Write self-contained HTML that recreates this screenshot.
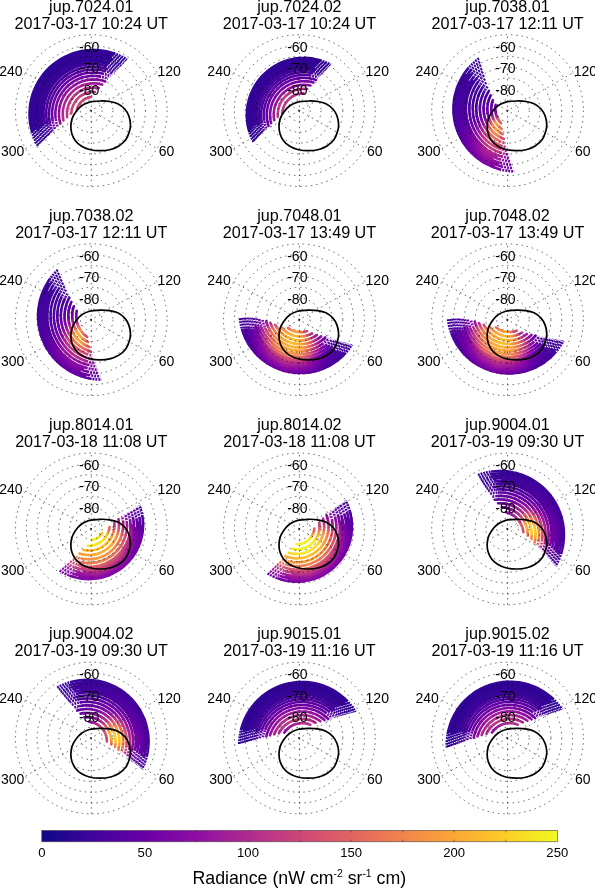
<!DOCTYPE html><html><head><meta charset="utf-8"><style>html,body{margin:0;padding:0;background:#fff;}svg{display:block;will-change:transform;}path.e{stroke-dasharray:1.9 0.9;stroke-linecap:butt;}text{font-family:"Liberation Sans",sans-serif;fill:#000;}</style></head><body>
<svg width="595" height="888" viewBox="0 0 595 888">
<defs><linearGradient id="cb" x1="0" x2="1" y1="0" y2="0"><stop offset="0.0" stop-color="#0d0887"/><stop offset="0.1" stop-color="#41049d"/><stop offset="0.2" stop-color="#6a00a8"/><stop offset="0.3" stop-color="#8f0da4"/><stop offset="0.4" stop-color="#b12a90"/><stop offset="0.5" stop-color="#cc4778"/><stop offset="0.6" stop-color="#e16462"/><stop offset="0.7" stop-color="#f2844b"/><stop offset="0.8" stop-color="#fca636"/><stop offset="0.9" stop-color="#fcce25"/><stop offset="1.0" stop-color="#f0f921"/></linearGradient>
<g id="grid" fill="none" stroke="#000" stroke-width="0.6" stroke-dasharray="1.5 3.8"><circle r="10.84"/><circle r="21.68"/><circle r="32.52"/><circle r="43.36"/><circle r="54.20"/><circle r="65.04"/><circle r="75.88"/><line x1="-0.00" y1="75.88" x2="0.00" y2="-75.88"/><line x1="-65.71" y1="37.94" x2="65.71" y2="-37.94"/><line x1="-65.71" y1="-37.94" x2="65.71" y2="37.94"/></g>
<path id="oval" d="M8.80,-9.60 C5.47,-9.50 1.33,-9.33 -1.80,-8.50 C-4.93,-7.67 -7.65,-6.33 -10.00,-4.60 C-12.35,-2.87 -14.33,-0.35 -15.90,1.90 C-17.47,4.15 -18.65,6.55 -19.40,8.90 C-20.15,11.25 -20.40,13.63 -20.40,16.00 C-20.40,18.37 -20.15,20.75 -19.40,23.10 C-18.65,25.45 -17.47,28.05 -15.90,30.10 C-14.33,32.15 -12.35,33.93 -10.00,35.40 C-7.65,36.87 -4.93,38.12 -1.80,38.90 C1.33,39.68 5.27,40.10 8.80,40.10 C12.33,40.10 16.27,39.68 19.40,38.90 C22.53,38.12 25.05,37.07 27.60,35.40 C30.15,33.73 32.93,31.35 34.70,28.90 C36.47,26.45 37.45,23.25 38.20,20.70 C38.95,18.15 39.30,16.15 39.20,13.60 C39.10,11.05 38.55,7.93 37.60,5.40 C36.65,2.87 35.35,0.45 33.50,-1.60 C31.65,-3.65 29.05,-5.65 26.50,-6.90 C23.95,-8.15 21.15,-8.65 18.20,-9.10 C15.25,-9.55 12.13,-9.70 8.80,-9.60Z" fill="none" stroke="#000" stroke-width="1.7"/>
</defs>
<g transform="translate(91.25,110.60)">
<g fill="none" stroke-width="2.60" stroke-linejoin="round" stroke-linecap="round"><path d="M-14.5,-0.8L-13.6,-3.6L-12.2,-6.2L-10.3,-8.5" stroke="#cf4c74"/><path d="M-10.3,-8.5L-8.2,-10.4" stroke="#cd4877"/><path d="M-8.2,-10.4L-5.7,-12.0" stroke="#ca457a"/><path d="M-5.7,-12.0L-3.0,-13.1" stroke="#c7417d"/><path d="M-3.0,-13.1L-0.1,-13.7" stroke="#c33e80"/><path d="M-19.9,2.8L-19.6,-0.2L-18.9,-3.0L-17.8,-5.8L-16.4,-8.4L-14.7,-10.8" stroke="#ca457a"/><path d="M-14.7,-10.8L-12.6,-13.0L-10.3,-14.8" stroke="#c7417d"/><path d="M-10.3,-14.8L-7.7,-16.3" stroke="#c33e80"/><path d="M-7.7,-16.3L-5.0,-17.5L-2.1,-18.3" stroke="#c03a83"/><path d="M-2.1,-18.3L0.9,-18.6" stroke="#bd3785"/><path d="M0.9,-18.6L3.8,-18.6" stroke="#ba3388"/><path d="M-24.1,6.5L-24.3,3.5L-24.2,0.6" stroke="#c03a83"/><path d="M-24.2,0.6L-23.7,-2.3L-22.9,-5.1L-21.8,-7.9L-20.4,-10.5L-18.7,-12.9L-16.8,-15.1" stroke="#bd3785"/><path d="M-16.8,-15.1L-14.6,-17.1L-12.2,-18.9L-9.7,-20.3" stroke="#ba3388"/><path d="M-9.7,-20.3L-7.0,-21.5L-4.1,-22.4" stroke="#b6308b"/><path d="M-4.1,-22.4L-1.2,-22.9L1.7,-23.1" stroke="#b32c8e"/><path d="M1.7,-23.1L4.6,-23.0L7.6,-22.6" stroke="#b02991"/><path d="M-27.8,9.9L-28.3,6.9L-28.5,3.9L-28.4,0.9L-28.0,-2.1L-27.3,-5.1L-26.3,-7.9L-25.0,-10.7" stroke="#b02991"/><path d="M-25.0,-10.7L-23.5,-13.3L-21.7,-15.8L-19.7,-18.0L-17.5,-20.1L-15.1,-21.9" stroke="#ac2593"/><path d="M-15.1,-21.9L-12.5,-23.5L-9.8,-24.8" stroke="#a72296"/><path d="M-9.8,-24.8L-7.0,-25.9L-4.0,-26.6L-1.0,-27.1" stroke="#a31e98"/><path d="M-1.0,-27.1L2.0,-27.3L5.0,-27.2L8.0,-26.7" stroke="#9f1b9a"/><path d="M8.0,-26.7L10.9,-26.0" stroke="#9b179d"/><path d="M-30.9,13.0L-31.7,10.1L-32.1,7.1L-32.3,4.0L-32.2,1.0L-31.9,-2.0L-31.3,-5.0L-30.4,-7.9L-29.3,-10.7L-27.9,-13.5L-26.3,-16.0" stroke="#97149f"/><path d="M-26.3,-16.0L-24.5,-18.5L-22.5,-20.7L-20.2,-22.8L-17.8,-24.7L-15.3,-26.3" stroke="#9310a2"/><path d="M-15.3,-26.3L-12.6,-27.8L-9.8,-29.0L-6.9,-29.9L-4.0,-30.6" stroke="#8f0da4"/><path d="M-4.0,-30.6L-0.9,-31.0L2.1,-31.1L5.1,-31.0" stroke="#8b0ba4"/><path d="M5.1,-31.0L8.1,-30.6L11.1,-30.0L14.0,-29.1" stroke="#860aa5"/><path d="M-33.8,15.9L-34.6,13.0L-35.3,10.0L-35.7,7.0" stroke="#7d07a6" class="e"/><path d="M-35.7,7.0L-35.9,4.0L-35.8,1.0L-35.5,-2.0L-34.9,-5.0L-34.2,-7.9L-33.2,-10.7L-31.9,-13.5L-30.5,-16.1L-28.8,-18.6L-27.0,-21.0L-25.0,-23.3L-22.8,-25.3" stroke="#7d07a6"/><path d="M-22.8,-25.3L-20.4,-27.2L-17.9,-28.9L-15.3,-30.4L-12.6,-31.7L-9.8,-32.8" stroke="#7905a6"/><path d="M-9.8,-32.8L-6.9,-33.6L-3.9,-34.2L-0.9,-34.6L2.1,-34.7L5.1,-34.6" stroke="#7404a7"/><path d="M5.1,-34.6L8.1,-34.2" stroke="#7002a7"/><path d="M8.1,-34.2L11.1,-33.7L14.0,-32.8L16.8,-31.8" stroke="#7002a7" class="e"/><path d="M-36.4,18.4L-37.3,15.6L-38.1,12.8L-38.7,9.8" stroke="#6b01a8" class="e"/><path d="M-38.7,9.8L-39.0,6.9L-39.2,3.9L-39.1,1.0L-38.8,-2.0L-38.3,-4.9L-37.6,-7.8L-36.7,-10.7L-35.6,-13.4L-34.3,-16.1" stroke="#6b01a8"/><path d="M-34.3,-16.1L-32.8,-18.6L-31.1,-21.1L-29.3,-23.4L-27.3,-25.6L-25.1,-27.7L-22.8,-29.6L-20.4,-31.3L-17.9,-32.8L-15.2,-34.1L-12.5,-35.3L-9.7,-36.3" stroke="#6700a7"/><path d="M-9.7,-36.3L-6.8,-37.0L-3.9,-37.6L-0.9,-37.9L2.0,-38.0L5.0,-37.9L8.0,-37.6L10.9,-37.1" stroke="#6201a6"/><path d="M10.9,-37.1L13.8,-36.4L16.6,-35.4L19.3,-34.3" stroke="#5d01a4" class="e"/><path d="M-38.7,20.8L-39.8,18.0L-40.7,15.1L-41.4,12.2" stroke="#5d01a4" class="e"/><path d="M-41.4,12.2L-41.9,9.3" stroke="#5d01a4"/><path d="M-41.9,9.3L-42.2,6.3L-42.3,3.3L-42.1,0.3L-41.8,-2.7L-41.3,-5.6L-40.6,-8.5L-39.7,-11.4L-38.6,-14.2L-37.3,-16.9L-35.9,-19.5L-34.3,-22.0L-32.5,-24.4L-30.5,-26.7L-28.4,-28.8L-26.2,-30.8L-23.8,-32.7L-21.3,-34.3L-18.7,-35.8L-16.0,-37.2L-13.3,-38.3" stroke="#5802a3"/><path d="M-13.3,-38.3L-10.4,-39.2L-7.5,-40.0L-4.6,-40.6L-1.6,-40.9L1.4,-41.1L4.4,-41.0L7.4,-40.8L10.3,-40.3L13.2,-39.7" stroke="#5302a2"/><path d="M13.2,-39.7L16.1,-38.9L18.9,-37.8" stroke="#5302a2" class="e"/><path d="M18.9,-37.8L21.7,-36.6" stroke="#4e03a1" class="e"/><path d="M-40.5,22.5L-41.6,19.7L-42.7,16.9L-43.5,14.0" stroke="#4e03a1" class="e"/><path d="M-43.5,14.0L-44.2,11.0L-44.7,8.0L-45.0,4.9L-45.0,1.9L-44.9,-1.2L-44.5,-4.2L-43.9,-7.2L-43.1,-10.2L-42.1,-13.1L-41.0,-15.9L-39.6,-18.7L-38.1,-21.4L-36.4,-23.9L-34.6,-26.4L-32.6,-28.7L-30.4,-30.9L-28.1,-32.9L-25.7,-34.8" stroke="#4e03a1"/><path d="M-25.7,-34.8L-23.2,-36.5L-20.6,-38.1L-17.8,-39.5L-15.0,-40.7L-12.1,-41.7L-9.2,-42.5L-6.2,-43.2L-3.1,-43.6L-0.1,-43.9L3.0,-43.9L6.0,-43.7L9.1,-43.2L12.0,-42.6L15.0,-41.8" stroke="#49039f"/><path d="M15.0,-41.8L17.8,-40.8" stroke="#49039f" class="e"/><path d="M17.8,-40.8L20.6,-39.6L23.4,-38.3" stroke="#44049e" class="e"/><path d="M-42.1,24.1L-43.3,21.4L-44.4,18.7L-45.4,15.8L-46.2,12.9" stroke="#44049e" class="e"/><path d="M-46.2,12.9L-46.9,10.0L-47.4,7.0L-47.6,4.0L-47.7,1.0L-47.5,-2.1L-47.0,-5.1L-46.4,-8.0L-45.7,-11.0L-44.7,-13.9L-43.6,-16.7L-42.2,-19.4L-40.8,-22.1L-39.2,-24.6L-37.4,-27.1L-35.4,-29.5L-33.4,-31.7L-31.2,-33.8L-28.9,-35.7L-26.4,-37.6L-23.9,-39.2L-21.2,-40.7L-18.5,-42.1L-15.7,-43.3L-12.9,-44.3L-9.9,-45.1L-7.0,-45.7L-4.0,-46.2L-0.9,-46.5" stroke="#44049e"/><path d="M-0.9,-46.5L2.1,-46.6L5.1,-46.4L8.1,-46.0L11.1,-45.3L14.0,-44.6" stroke="#3f049c"/><path d="M14.0,-44.6L16.8,-43.6L19.6,-42.5L22.3,-41.3L25.0,-39.9" stroke="#3f049c" class="e"/><path d="M-48.7,6.3L-48.9,3.3L-48.9,0.2L-48.6,-2.8L-48.2,-5.9L-47.5,-8.8L-46.7,-11.8L-45.7,-14.7L-44.5,-17.5L-43.2,-20.2L-41.7,-22.9L-40.1,-25.5L-38.3,-28.0L-36.3,-30.3L-34.3,-32.6L-32.0,-34.7L-29.7,-36.6L-27.3,-38.5L-24.7,-40.2L-22.1,-41.7L-19.4,-43.1L-16.5,-44.3L-13.7,-45.3L-10.7,-46.2L-7.8,-46.8L-4.8,-47.3L-1.7,-47.7L1.3,-47.8L4.4,-47.7L7.4,-47.3" stroke="#3f049c"/><path d="M-43.7,25.7L-45.0,23.0L-46.1,20.3L-47.2,17.5L-48.2,14.6" stroke="#390599" class="e"/><path d="M-48.2,14.6L-48.9,11.6L-49.5,8.6L-49.9,5.6L-50.1,2.6L-50.1,-0.5L-49.8,-3.6L-49.3,-6.6L-48.6,-9.6L-47.7,-12.6L-46.7,-15.5L-45.5,-18.3L-44.2,-21.1L-42.7,-23.7L-41.0,-26.3L-39.2,-28.8L-37.2,-31.2L-35.1,-33.4L-32.9,-35.5L-30.6,-37.5L-28.1,-39.4L-25.6,-41.1L-22.9,-42.6L-20.2,-44.0L-17.3,-45.3L-14.5,-46.3L-11.5,-47.2L-8.5,-47.9L-5.5,-48.5L-2.5,-48.8L0.6,-49.0L3.7,-48.9L6.7,-48.6L9.7,-48.1L12.7,-47.4L15.6,-46.4" stroke="#390599"/><path d="M15.6,-46.4L18.4,-45.4L21.2,-44.2L23.9,-42.9L26.6,-41.5" stroke="#390599" class="e"/><path d="M-49.8,12.9L-50.5,9.9L-51.0,6.9L-51.2,3.8L-51.3,0.6L-51.0,-2.5L-50.6,-5.5L-50.0,-8.6L-49.2,-11.6L-48.3,-14.6L-47.1,-17.5L-45.8,-20.3L-44.4,-23.1L-42.8,-25.7L-41.0,-28.3L-39.1,-30.7L-37.0,-33.1L-34.8,-35.3L-32.5,-37.4L-30.1,-39.3L-27.6,-41.2L-24.9,-42.8L-22.2,-44.3L-19.4,-45.6L-16.5,-46.8L-13.6,-47.8L-10.6,-48.7L-7.5,-49.3" stroke="#390599"/><path d="M-7.5,-49.3L-4.4,-49.8L-1.3,-50.1L1.8,-50.2L4.9,-50.0L8.0,-49.6L11.0,-49.0L14.0,-48.2" stroke="#320597"/><path d="M-45.3,27.3L-46.6,24.6L-47.9,21.9L-49.0,19.1L-50.0,16.2" stroke="#390599" class="e"/><path d="M-50.0,16.2L-50.9,13.3L-51.6,10.3L-52.1,7.2L-52.4,4.2L-52.4,1.1L-52.2,-2.0L-51.8,-5.1L-51.3,-8.1L-50.5,-11.2L-49.6,-14.1L-48.6,-17.0L-47.3,-19.9L-45.9,-22.6L-44.4,-25.3L-42.7,-27.9L-40.8,-30.4L-38.9,-32.8L-36.8,-35.0L-34.5,-37.2L-32.2,-39.2L-29.7,-41.1L-27.1,-42.8L-24.5,-44.4L-21.7,-45.8L-18.9,-47.1" stroke="#390599"/><path d="M-18.9,-47.1L-16.0,-48.2L-13.1,-49.2L-10.1,-49.9L-7.0,-50.6L-4.0,-51.0L-0.9,-51.3L2.2,-51.3L5.3,-51.1L8.3,-50.7L11.4,-50.0L14.3,-49.2L17.2,-48.2" stroke="#320597"/><path d="M17.2,-48.2L20.0,-47.1L22.8,-45.9L25.5,-44.5L28.1,-43.1" stroke="#320597" class="e"/><path d="M-52.8,9.7L-53.2,6.7L-53.5,3.6L-53.5,0.5L-53.2,-2.6L-52.8,-5.7L-52.2,-8.8L-51.5,-11.8L-50.5,-14.8L-49.4,-17.7L-48.2,-20.5L-46.8,-23.3L-45.2,-26.0L-43.5,-28.6L-41.6,-31.1L-39.6,-33.5L-37.5,-35.8L-35.3,-37.9L-32.9,-40.0L-30.4,-41.8" stroke="#390599"/><path d="M-30.4,-41.8L-27.9,-43.6L-25.2,-45.2L-22.4,-46.7L-19.6,-48.0L-16.7,-49.1L-13.7,-50.1L-10.7,-50.9L-7.7,-51.5L-4.6,-52.0L-1.5,-52.3L1.6,-52.4L4.7,-52.2L7.8,-51.9L10.8,-51.3" stroke="#320597"/><path d="M-46.9,28.9L-48.3,26.2L-49.5,23.5L-50.7,20.6L-51.8,17.8" stroke="#320597" class="e"/><path d="M-51.8,17.8L-52.7,14.8L-53.4,11.9L-54.0,8.8L-54.4,5.8L-54.6,2.7L-54.5,-0.4L-54.2,-3.5L-53.7,-6.6L-53.1,-9.7L-52.3,-12.7L-51.4,-15.6L-50.2,-18.5L-49.0,-21.4L-47.5,-24.1L-46.0,-26.8L-44.2,-29.4L-42.4,-31.9L-40.4,-34.3L-38.3,-36.5L-36.0,-38.7L-33.7,-40.7L-31.2,-42.6L-28.6,-44.4L-26.0,-46.0L-23.2,-47.4L-20.4,-48.8L-17.5,-49.9L-14.6,-50.9L-11.6,-51.8L-8.6,-52.4L-5.5,-52.9L-2.4,-53.3L0.7,-53.4L3.8,-53.4L6.9,-53.1L9.9,-52.6L12.9,-51.9L15.9,-51.0L18.8,-50.0" stroke="#320597"/><path d="M18.8,-50.0L21.6,-48.8L24.4,-47.5L27.1,-46.1L29.7,-44.7" stroke="#320597" class="e"/><path d="M-55.4,6.1L-55.6,3.0L-55.5,-0.1L-55.3,-3.2L-54.8,-6.2L-54.2,-9.2L-53.5,-12.2L-52.6,-15.1L-51.5,-18.0L-50.3,-20.9L-48.9,-23.6L-47.4,-26.3L-45.8,-28.9L-44.0,-31.4L-42.1,-33.8L-40.0,-36.1L-37.9,-38.3L-35.6,-40.4L-33.2,-42.3L-30.7,-44.2L-28.1,-45.8L-25.5,-47.4L-22.7,-48.8L-19.9,-50.0L-17.1,-51.1L-14.1,-52.1L-11.1,-52.9L-8.1,-53.5L-5.1,-54.0L-2.0,-54.3L1.0,-54.4L4.1,-54.4L7.2,-54.1" stroke="#320597"/><path d="M-48.5,30.5L-49.9,27.8L-51.1,25.1L-52.3,22.4L-53.4,19.6" stroke="#320597" class="e"/><path d="M-53.4,19.6L-54.3,16.7L-55.1,13.8L-55.7,10.8L-56.2,7.8L-56.5,4.8L-56.6,1.8L-56.4,-1.3L-56.1,-4.3L-55.6,-7.3L-55.0,-10.3L-54.2,-13.2L-53.3,-16.1L-52.2,-19.0L-50.9,-21.8L-49.6,-24.5L-48.1,-27.1L-46.4,-29.7L-44.6,-32.2L-42.7,-34.6L-40.7,-36.8L-38.6,-39.0L-36.3,-41.1L-33.9,-43.0L-31.5,-44.8L-29.0,-46.5L-26.3,-48.0L-23.6,-49.5L-20.9,-50.7L-18.0,-51.8L-15.1,-52.8L-12.2,-53.6L-9.2,-54.3L-6.2,-54.8L-3.2,-55.2L-0.2,-55.4L2.9,-55.4L5.9,-55.2L8.9,-54.8L11.9,-54.2L14.9,-53.5L17.7,-52.6L20.6,-51.5" stroke="#320597"/><path d="M20.6,-51.5L23.3,-50.4L26.0,-49.1L28.7,-47.7L31.3,-46.2" stroke="#320597" class="e"/><path d="M-56.2,13.5L-56.8,10.5L-57.2,7.4L-57.4,4.4L-57.5,1.3L-57.3,-1.7L-57.0,-4.8L-56.5,-7.8L-55.8,-10.8L-55.0,-13.8L-54.1,-16.7L-52.9,-19.5L-51.7,-22.3L-50.3,-25.1L-48.8,-27.7L-47.1,-30.3L-45.3,-32.8L-43.4,-35.2L-41.4,-37.5L-39.2,-39.7L-36.9,-41.7L-34.6,-43.7L-32.1,-45.5L-29.6,-47.2L-26.9,-48.8L-24.2,-50.2L-21.4,-51.5L-18.6,-52.6L-15.7,-53.6L-12.7,-54.5L-9.7,-55.1L-6.7,-55.7L-3.7,-56.1L-0.6,-56.3L2.4,-56.3L5.5,-56.2L8.6,-55.8L11.6,-55.3L14.5,-54.6" stroke="#320597"/><path d="M-50.1,32.1L-51.5,29.4L-52.8,26.7L-54.0,23.9L-55.0,21.1L-56.0,18.3" stroke="#320597" class="e"/><path d="M-56.0,18.3L-56.8,15.3L-57.4,12.4L-57.9,9.4L-58.2,6.4L-58.4,3.3L-58.4,0.3L-58.1,-2.7L-57.7,-5.8L-57.2,-8.8L-56.5,-11.7L-55.7,-14.7L-54.7,-17.5L-53.6,-20.4L-52.3,-23.1L-50.9,-25.8L-49.4,-28.5L-47.7,-31.0L-45.9,-33.5L-44.0,-35.9L-42.0,-38.1L-39.9,-40.3L-37.6,-42.4L-35.3,-44.3L-32.8,-46.1L-30.3,-47.8L-27.7,-49.4L-25.0,-50.8L-22.2,-52.1L-19.4,-53.3L-16.6,-54.3L-13.6,-55.2L-10.7,-55.9L-7.7,-56.5L-4.7,-56.9L-1.6,-57.1L1.4,-57.3L4.4,-57.2L7.5,-56.9L10.5,-56.5L13.5,-55.9L16.4,-55.1L19.3,-54.2" stroke="#320597"/><path d="M19.3,-54.2L22.1,-53.2L24.9,-52.0L27.6,-50.7L30.2,-49.3L32.8,-47.8" stroke="#320597" class="e"/><path d="M-58.8,9.5L-59.1,6.5L-59.3,3.5L-59.2,0.5L-59.0,-2.5L-58.6,-5.5L-58.1,-8.4L-57.5,-11.3L-56.7,-14.2L-55.8,-17.1L-54.7,-19.9L-53.5,-22.7L-52.2,-25.4L-50.7,-28.0L-49.1,-30.5L-47.4,-33.0L-45.5,-35.4L-43.6,-37.7L-41.5,-39.8L-39.4,-41.9L-37.1,-43.9L-34.7,-45.8L-32.3,-47.5L-29.8,-49.1L-27.2,-50.6L-24.5,-52.0L-21.8,-53.2L-19.0,-54.4L-16.1,-55.3L-13.2,-56.1L-10.3,-56.8L-7.3,-57.4L-4.4,-57.8L-1.4,-58.0L1.6,-58.1L4.6,-58.0L7.6,-57.8L10.6,-57.4" stroke="#320597"/><path d="M-51.7,33.6L-53.1,31.0L-54.4,28.2L-55.6,25.5L-56.7,22.7L-57.6,19.8" stroke="#320597" class="e"/><path d="M-57.6,19.8L-58.4,16.9L-59.0,13.9L-59.5,10.9L-59.9,7.9L-60.1,4.9L-60.1,1.9L-60.0,-1.2L-59.7,-4.2L-59.2,-7.2L-58.6,-10.2L-57.9,-13.1L-57.0,-16.0L-56.0,-18.9L-54.9,-21.7L-53.6,-24.4L-52.2,-27.1L-50.6,-29.7L-48.9,-32.3L-47.1,-34.7L-45.2,-37.1L-43.2,-39.3L-41.1,-41.5L-38.8,-43.5L-36.5,-45.5L-34.1,-47.3L-31.6,-49.0L-29.0,-50.6L-26.3,-52.1L-23.6,-53.4L-20.8,-54.6L-17.9,-55.6L-15.0,-56.5L-12.1,-57.3L-9.1,-57.9L-6.1,-58.4L-3.1,-58.7L-0.1,-58.9L3.0,-59.0L6.0,-58.8L9.0,-58.5L12.0,-58.1L15.0,-57.4L17.9,-56.7L20.8,-55.8" stroke="#320597"/><path d="M20.8,-55.8L23.6,-54.8L26.4,-53.6L29.1,-52.3L31.8,-50.9L34.4,-49.4" stroke="#320597" class="e"/><path d="M-59.2,17.5L-59.8,14.5L-60.3,11.5L-60.7,8.6L-60.9,5.5L-60.9,2.5L-60.8,-0.5L-60.6,-3.5L-60.1,-6.5L-59.6,-9.5L-58.9,-12.4L-58.1,-15.3L-57.1,-18.2L-56.0,-21.0L-54.8,-23.8L-53.4,-26.5L-51.9,-29.1L-50.3,-31.6L-48.6,-34.1L-46.7,-36.5L-44.8,-38.8L-42.7,-41.0L-40.5,-43.1L-38.3,-45.1L-35.9,-47.0L-33.4,-48.7L-30.9,-50.4L-28.3,-51.9L-25.6,-53.3L-22.9,-54.6L-20.1,-55.7L-17.2,-56.7L-14.3,-57.5L-11.4,-58.3L-8.4,-58.9L-5.4,-59.3L-2.4,-59.6L0.6,-59.7L3.6,-59.7L6.6,-59.6L9.6,-59.3L12.6,-58.8L15.6,-58.2L18.5,-57.5" stroke="#320597"/><path d="M-53.3,35.2L-54.7,32.5L-56.0,29.8L-57.2,27.0L-58.3,24.2L-59.2,21.3" stroke="#320597" class="e"/><path d="M-59.2,21.3L-59.9,18.4L-60.6,15.4L-61.1,12.4L-61.4,9.4L-61.6,6.4L-61.7,3.4L-61.6,0.4L-61.4,-2.6L-61.1,-5.6L-60.6,-8.6L-59.9,-11.6L-59.2,-14.5L-58.3,-17.4L-57.2,-20.2L-56.0,-23.0L-54.7,-25.7L-53.3,-28.3L-51.7,-30.9L-50.0,-33.4L-48.2,-35.9L-46.3,-38.2L-44.3,-40.5L-42.2,-42.6L-40.0,-44.7L-37.6,-46.6L-35.2,-48.4L-32.8,-50.1L-30.2,-51.7L-27.5,-53.2L-24.8,-54.5L-22.1,-55.7L-19.3,-56.8L-16.4,-57.8L-13.5,-58.6L-10.5,-59.3L-7.6,-59.8L-4.6,-60.2L-1.6,-60.4L1.5,-60.5L4.5,-60.5L7.5,-60.3L10.5,-60.0L13.5,-59.6L16.4,-59.0L19.4,-58.2L22.3,-57.3" stroke="#320597"/><path d="M22.3,-57.3L25.1,-56.3L27.9,-55.2L30.6,-53.9L33.3,-52.5L35.9,-51.0" stroke="#320597" class="e"/></g>
<use href="#grid"/><circle r="0.9" fill="#222"/>
<use href="#oval"/>
<g font-size="14">
<text x="-12.2" y="-59.09">-60</text>
<text x="-12.2" y="-37.41">-70</text>
<text x="-12.2" y="-15.73">-80</text>
<text x="66.2" y="-35.1">120</text><text x="67.5" y="45.9">60</text>
<text x="-68.7" y="-35.1" text-anchor="end">240</text><text x="-66.9" y="45.9" text-anchor="end">300</text>
</g>
<g font-size="16.15" text-anchor="middle"><text x="0" y="-98.6">jup.7024.01</text><text x="0" y="-81.7">2017-03-17 10:24 UT</text></g>
</g>
<g transform="translate(299.40,110.60)">
<g fill="none" stroke-width="2.60" stroke-linejoin="round" stroke-linecap="round"><path d="M-17.2,2.6L-16.8,-0.2L-16.0,-3.1L-14.8,-5.7L-13.3,-8.2L-11.4,-10.5L-9.3,-12.5" stroke="#bd3785"/><path d="M-9.3,-12.5L-6.9,-14.2" stroke="#ba3388"/><path d="M-6.9,-14.2L-4.3,-15.5" stroke="#b6308b"/><path d="M-4.3,-15.5L-1.6,-16.5L1.3,-17.2" stroke="#b32c8e"/><path d="M1.3,-17.2L4.2,-17.4" stroke="#b02991"/><path d="M-21.6,6.3L-21.7,3.2L-21.3,0.1L-20.7,-2.9L-19.6,-5.8L-18.3,-8.6L-16.6,-11.2" stroke="#c33e80"/><path d="M-16.6,-11.2L-14.6,-13.5L-12.3,-15.7L-9.9,-17.5" stroke="#c03a83"/><path d="M-9.9,-17.5L-7.2,-19.1" stroke="#bd3785"/><path d="M-7.2,-19.1L-4.3,-20.3L-1.4,-21.1" stroke="#ba3388"/><path d="M-1.4,-21.1L1.7,-21.6" stroke="#b6308b"/><path d="M1.7,-21.6L4.8,-21.8L7.8,-21.6" stroke="#b32c8e"/><path d="M-25.2,9.6L-25.6,6.7L-25.7,3.7L-25.5,0.8L-25.0,-2.2L-24.2,-5.0" stroke="#9b179d"/><path d="M-24.2,-5.0L-23.1,-7.8L-21.8,-10.4L-20.2,-12.9L-18.4,-15.3L-16.3,-17.4" stroke="#97149f"/><path d="M-16.3,-17.4L-14.1,-19.4L-11.7,-21.1L-9.1,-22.6L-6.4,-23.8" stroke="#9310a2"/><path d="M-6.4,-23.8L-3.6,-24.7L-0.7,-25.3" stroke="#8f0da4"/><path d="M-0.7,-25.3L2.3,-25.7L5.2,-25.8L8.2,-25.6L11.1,-25.1" stroke="#8b0ba4"/><path d="M-28.3,12.7L-28.9,9.8L-29.2,6.9" stroke="#860aa5"/><path d="M-29.2,6.9L-29.3,3.9L-29.1,0.9L-28.7,-2.0L-28.0,-4.9L-27.1,-7.7L-25.9,-10.4L-24.5,-13.0L-22.8,-15.5L-21.0,-17.8L-19.0,-20.0L-16.7,-21.9" stroke="#8208a5"/><path d="M-16.7,-21.9L-14.3,-23.7L-11.8,-25.2L-9.2,-26.5L-6.4,-27.6" stroke="#7d07a6"/><path d="M-6.4,-27.6L-3.6,-28.4L-0.7,-29.0L2.3,-29.3L5.3,-29.4" stroke="#7905a6"/><path d="M5.3,-29.4L8.2,-29.2L11.1,-28.8L14.0,-28.0" stroke="#7404a7"/><path d="M-30.9,15.4L-31.7,12.5L-32.2,9.5L-32.5,6.5L-32.6,3.5L-32.4,0.5L-31.9,-2.5L-31.3,-5.5L-30.3,-8.4L-29.2,-11.2L-27.8,-13.9L-26.2,-16.4L-24.4,-18.9L-22.4,-21.1L-20.2,-23.3L-17.9,-25.2" stroke="#6b01a8"/><path d="M-17.9,-25.2L-15.4,-26.9L-12.8,-28.4L-10.0,-29.7L-7.2,-30.8L-4.3,-31.6L-1.3,-32.2" stroke="#6700a7"/><path d="M-1.3,-32.2L1.7,-32.6L4.7,-32.7L7.7,-32.6L10.7,-32.2L13.7,-31.5L16.6,-30.7" stroke="#6201a6"/><path d="M-33.2,17.9L-34.2,15.0L-34.8,12.0L-35.3,9.0" stroke="#5d01a4" class="e"/><path d="M-35.3,9.0L-35.5,6.0L-35.5,2.9L-35.3,-0.1L-34.9,-3.1L-34.2,-6.1L-33.3,-9.0L-32.1,-11.8L-30.8,-14.6" stroke="#5d01a4"/><path d="M-30.8,-14.6L-29.2,-17.2L-27.5,-19.7L-25.6,-22.1L-23.5,-24.3L-21.2,-26.3L-18.8,-28.2L-16.3,-29.9L-13.6,-31.3L-10.8,-32.6L-8.0,-33.7L-5.1,-34.5" stroke="#5802a3"/><path d="M-5.1,-34.5L-2.1,-35.1L0.9,-35.5L4.0,-35.7L7.0,-35.6L10.1,-35.3" stroke="#5302a2"/><path d="M10.1,-35.3L13.1,-34.7L16.0,-34.0L18.9,-33.0" stroke="#5302a2" class="e"/><path d="M-35.3,20.1L-36.3,17.2L-37.1,14.3L-37.7,11.3" stroke="#4e03a1" class="e"/><path d="M-37.7,11.3L-38.1,8.3L-38.3,5.3L-38.2,2.2L-38.0,-0.8L-37.5,-3.8L-36.8,-6.7L-35.9,-9.6L-34.8,-12.5L-33.5,-15.2L-32.0,-17.9L-30.4,-20.4L-28.5,-22.8L-26.5,-25.1L-24.3,-27.2L-22.0,-29.2L-19.6,-31.0" stroke="#4e03a1"/><path d="M-19.6,-31.0L-17.0,-32.6L-14.3,-34.0L-11.6,-35.2L-8.7,-36.3L-5.8,-37.1L-2.8,-37.7L0.2,-38.2L3.2,-38.4L6.2,-38.3L9.2,-38.1L12.2,-37.7" stroke="#49039f"/><path d="M12.2,-37.7L15.2,-37.0L18.1,-36.2L21.0,-35.1" stroke="#49039f" class="e"/><path d="M-36.8,21.6L-37.9,18.8L-38.8,15.9L-39.6,13.0" stroke="#44049e" class="e"/><path d="M-39.6,13.0L-40.2,10.0L-40.5,6.9L-40.7,3.9L-40.6,0.8L-40.2,-2.3L-39.7,-5.3L-38.9,-8.3L-38.0,-11.2L-36.8,-14.0L-35.5,-16.8L-33.9,-19.5L-32.2,-22.0L-30.3,-24.5L-28.3,-26.8L-26.1,-28.9L-23.8,-30.9L-21.3,-32.7L-18.7,-34.4L-16.0,-35.9" stroke="#44049e"/><path d="M-16.0,-35.9L-13.2,-37.2L-10.4,-38.3L-7.4,-39.2L-4.5,-39.9L-1.4,-40.4L1.6,-40.7L4.7,-40.8L7.8,-40.6L10.8,-40.2L13.8,-39.5" stroke="#3f049c"/><path d="M13.8,-39.5L16.7,-38.7L19.6,-37.7L22.4,-36.6" stroke="#3f049c" class="e"/><path d="M-38.1,23.0L-39.3,20.2L-40.3,17.4L-41.2,14.5" stroke="#3f049c" class="e"/><path d="M-41.2,14.5L-41.9,11.5L-42.5,8.5L-42.8,5.4L-42.9,2.3L-42.7,-0.7L-42.2,-3.8L-41.6,-6.8L-40.8,-9.8L-39.8,-12.7L-38.5,-15.6L-37.2,-18.3L-35.6,-21.0L-33.9,-23.5L-32.0,-26.0L-29.9,-28.3L-27.7,-30.5L-25.4,-32.5L-22.9,-34.3L-20.3,-36.0L-17.6,-37.6L-14.8,-38.9L-12.0,-40.1" stroke="#3f049c"/><path d="M-12.0,-40.1L-9.1,-41.1L-6.1,-41.9L-3.0,-42.5L0.0,-42.8L3.1,-43.0L6.2,-42.9L9.3,-42.5L12.3,-41.9L15.2,-41.1" stroke="#390599"/><path d="M15.2,-41.1L18.1,-40.2L21.0,-39.1L23.8,-37.9" stroke="#390599" class="e"/><path d="M-43.2,10.0L-43.6,7.0L-43.9,4.0L-43.8,1.0L-43.5,-2.0L-43.0,-5.0L-42.3,-8.0L-41.5,-10.9L-40.4,-13.8L-39.2,-16.5L-37.8,-19.2L-36.2,-21.8L-34.5,-24.4L-32.6,-26.7L-30.6,-29.0L-28.4,-31.1L-26.2,-33.1L-23.7,-35.0L-21.2,-36.7L-18.6,-38.2L-15.9,-39.6L-13.1,-40.8L-10.2,-41.8L-7.3,-42.6L-4.3,-43.3L-1.3,-43.7L1.7,-44.0L4.7,-44.0L7.8,-43.7L10.7,-43.2" stroke="#390599"/><path d="M-39.4,24.4L-40.6,21.7L-41.7,18.9L-42.7,16.0L-43.5,13.0" stroke="#390599" class="e"/><path d="M-43.5,13.0L-44.2,10.0L-44.6,7.0L-44.9,3.9L-44.8,0.8L-44.5,-2.2L-44.0,-5.3L-43.3,-8.3L-42.4,-11.3L-41.4,-14.2L-40.1,-17.0L-38.7,-19.7L-37.1,-22.4L-35.3,-24.9L-33.4,-27.4L-31.4,-29.7L-29.2,-31.9L-26.8,-33.9L-24.4,-35.8L-21.8,-37.5L-19.1,-39.1L-16.4,-40.5L-13.5,-41.7L-10.6,-42.7L-7.6,-43.6L-4.6,-44.2" stroke="#390599"/><path d="M-4.6,-44.2L-1.6,-44.7L1.5,-45.0L4.6,-45.0L7.7,-44.7L10.7,-44.2L13.7,-43.5" stroke="#320597"/><path d="M13.7,-43.5L16.6,-42.7L19.5,-41.6L22.3,-40.5L25.1,-39.3" stroke="#320597" class="e"/><path d="M-45.5,7.2L-45.8,4.1L-45.8,1.1L-45.5,-1.9L-45.0,-4.9L-44.4,-7.9L-43.5,-10.8L-42.5,-13.7L-41.3,-16.5L-40.0,-19.2L-38.5,-21.9L-36.8,-24.4L-35.0,-26.9L-33.0,-29.2L-30.9,-31.4L-28.7,-33.5L-26.4,-35.4L-23.9,-37.2L-21.3,-38.9L-18.7,-40.3L-15.9,-41.7L-13.1,-42.8" stroke="#390599"/><path d="M-13.1,-42.8L-10.2,-43.8L-7.3,-44.6L-4.3,-45.2L-1.3,-45.7L1.7,-45.9L4.8,-45.9L7.8,-45.6" stroke="#320597"/><path d="M-40.7,25.8L-42.0,23.1L-43.1,20.3L-44.1,17.5L-45.0,14.5" stroke="#390599" class="e"/><path d="M-45.0,14.5L-45.8,11.6L-46.3,8.6L-46.6,5.5L-46.7,2.4L-46.6,-0.7L-46.2,-3.7L-45.6,-6.7L-44.8,-9.7L-43.9,-12.7L-42.8,-15.5L-41.5,-18.3L-40.0,-21.1L-38.4,-23.7L-36.7,-26.2L-34.7,-28.6L-32.7,-30.9L-30.5,-33.1L-28.2,-35.2L-25.7,-37.0" stroke="#390599"/><path d="M-25.7,-37.0L-23.2,-38.8L-20.5,-40.4L-17.8,-41.8L-15.0,-43.1L-12.1,-44.1L-9.2,-45.0L-6.2,-45.8L-3.1,-46.3L-0.1,-46.7L3.0,-46.8L6.1,-46.7L9.2,-46.4L12.2,-45.8L15.1,-45.0" stroke="#320597"/><path d="M15.1,-45.0L18.0,-44.1L20.9,-43.0L23.6,-41.9L26.4,-40.6" stroke="#320597" class="e"/><path d="M-46.2,13.5L-46.9,10.5L-47.3,7.5L-47.5,4.5L-47.5,1.4L-47.3,-1.6L-46.8,-4.7L-46.2,-7.6L-45.4,-10.6L-44.5,-13.5L-43.3,-16.3L-42.0,-19.1L-40.6,-21.8L-39.0,-24.4L-37.2,-26.9L-35.3,-29.3L-33.3,-31.5L-31.1,-33.7L-28.8,-35.7L-26.4,-37.6L-23.9,-39.3L-21.3,-40.9L-18.6,-42.3L-15.8,-43.6L-13.0,-44.7L-10.1,-45.7L-7.1,-46.4L-4.1,-47.0L-1.1,-47.4L2.0,-47.7L5.0,-47.6L8.0,-47.4L11.0,-46.9L14.0,-46.2" stroke="#320597"/><path d="M-42.0,27.2L-43.3,24.5L-44.4,21.7L-45.5,18.9L-46.4,16.0" stroke="#320597" class="e"/><path d="M-46.4,16.0L-47.2,13.1L-47.8,10.1L-48.2,7.1L-48.4,4.0L-48.3,0.9L-48.1,-2.1L-47.6,-5.1L-47.0,-8.1L-46.1,-11.1L-45.2,-14.0L-44.0,-16.8L-42.7,-19.6L-41.2,-22.3L-39.6,-24.9L-37.8,-27.4L-35.9,-29.8L-33.9,-32.1L-31.7,-34.3L-29.4,-36.3L-27.0,-38.2L-24.5,-39.9L-21.9,-41.5L-19.2,-43.0L-16.4,-44.3L-13.5,-45.4L-10.6,-46.4L-7.6,-47.1L-4.6,-47.8L-1.6,-48.2L1.4,-48.5L4.5,-48.5L7.6,-48.3L10.6,-47.9L13.6,-47.2L16.5,-46.4" stroke="#320597"/><path d="M16.5,-46.4L19.4,-45.5L22.2,-44.4L24.9,-43.2L27.7,-41.9" stroke="#320597" class="e"/><path d="M-48.6,10.4L-49.0,7.4L-49.1,4.4L-49.1,1.3L-48.9,-1.7L-48.4,-4.7L-47.8,-7.6L-47.1,-10.6L-46.2,-13.4L-45.1,-16.3L-43.8,-19.0L-42.4,-21.7L-40.9,-24.3L-39.2,-26.8L-37.4,-29.2L-35.4,-31.5L-33.4,-33.7L-31.2,-35.8L-28.8,-37.7L-26.4,-39.5L-23.9,-41.2L-21.3,-42.7L-18.6,-44.1L-15.8,-45.3L-13.0,-46.4L-10.1,-47.3L-7.2,-48.0L-4.2,-48.6L-1.2,-49.0L1.8,-49.2L4.8,-49.2L7.8,-49.0L10.8,-48.6" stroke="#320597"/><path d="M-43.3,28.6L-44.6,25.9L-45.8,23.1L-46.8,20.3L-47.8,17.5" stroke="#320597" class="e"/><path d="M-47.8,17.5L-48.6,14.6L-49.2,11.6L-49.6,8.6L-49.9,5.6L-49.9,2.5L-49.7,-0.5L-49.4,-3.5L-48.9,-6.5L-48.2,-9.5L-47.3,-12.4L-46.3,-15.3L-45.1,-18.1L-43.8,-20.8L-42.3,-23.5L-40.7,-26.0L-38.9,-28.5L-37.0,-30.9L-35.0,-33.1L-32.8,-35.3L-30.5,-37.3L-28.2,-39.2L-25.7,-40.9L-23.1,-42.6L-20.4,-44.0L-17.7,-45.3L-14.9,-46.5L-12.0,-47.5L-9.1,-48.3L-6.1,-49.0L-3.1,-49.5L-0.1,-49.9L2.9,-50.0L6.0,-50.0L9.0,-49.7L12.0,-49.2L15.0,-48.6L17.9,-47.8" stroke="#320597"/><path d="M17.9,-47.8L20.7,-46.8L23.5,-45.8L26.3,-44.6L28.9,-43.2" stroke="#320597" class="e"/><path d="M-50.5,6.9L-50.6,3.8L-50.5,0.8L-50.2,-2.3L-49.8,-5.3L-49.2,-8.3L-48.4,-11.3L-47.4,-14.2L-46.3,-17.0L-45.0,-19.8L-43.6,-22.5L-42.1,-25.2L-40.3,-27.7L-38.5,-30.1L-36.5,-32.5L-34.4,-34.7L-32.2,-36.8L-29.8,-38.8L-27.4,-40.6L-24.8,-42.3L-22.2,-43.9L-19.5,-45.3L-16.7,-46.5L-13.8,-47.6L-10.9,-48.5L-8.0,-49.3L-5.0,-49.9L-1.9,-50.4L1.1,-50.6L4.2,-50.7L7.2,-50.6" stroke="#320597"/><path d="M-44.6,29.9L-45.9,27.3L-47.1,24.5L-48.1,21.7L-49.1,18.9" stroke="#320597" class="e"/><path d="M-49.1,18.9L-49.8,16.0L-50.5,13.1L-50.9,10.1L-51.2,7.1L-51.3,4.1L-51.2,1.1L-51.0,-1.9L-50.6,-4.9L-50.0,-7.8L-49.2,-10.8L-48.3,-13.6L-47.3,-16.5L-46.1,-19.2L-44.7,-21.9L-43.3,-24.5L-41.6,-27.1L-39.9,-29.5L-38.0,-31.8L-36.0,-34.1L-33.8,-36.2L-31.6,-38.2L-29.2,-40.1L-26.8,-41.8L-24.2,-43.5L-21.6,-44.9L-18.9,-46.3L-16.2,-47.5L-13.3,-48.5L-10.5,-49.4L-7.5,-50.1L-4.6,-50.7L-1.6,-51.1L1.4,-51.3L4.4,-51.4L7.4,-51.3L10.4,-51.0L13.4,-50.5L16.3,-49.9L19.2,-49.1" stroke="#320597"/><path d="M19.2,-49.1L22.0,-48.2L24.8,-47.1L27.5,-45.9L30.2,-44.6" stroke="#320597" class="e"/><path d="M-51.1,13.8L-51.5,10.8L-51.8,7.9L-51.9,4.9L-51.9,1.9L-51.7,-1.1L-51.3,-4.1L-50.8,-7.0L-50.1,-9.9L-49.3,-12.8L-48.3,-15.6L-47.1,-18.4L-45.9,-21.1L-44.4,-23.7L-42.9,-26.3L-41.2,-28.8L-39.4,-31.1L-37.4,-33.4L-35.4,-35.6L-33.2,-37.6L-30.9,-39.6L-28.5,-41.4L-26.1,-43.1L-23.5,-44.6L-20.9,-46.0L-18.2,-47.3L-15.4,-48.4L-12.6,-49.4L-9.7,-50.2L-6.8,-50.9L-3.8,-51.4L-0.8,-51.8L2.1,-52.0L5.1,-52.0L8.1,-51.9L11.1,-51.6L14.0,-51.1" stroke="#320597"/><path d="M-45.8,31.3L-47.2,28.6L-48.4,25.9L-49.4,23.1L-50.3,20.3" stroke="#320597" class="e"/><path d="M-50.3,20.3L-51.1,17.4L-51.7,14.5L-52.1,11.6L-52.4,8.6L-52.6,5.6L-52.5,2.7L-52.4,-0.3L-52.1,-3.3L-51.6,-6.2L-50.9,-9.1L-50.2,-12.0L-49.2,-14.8L-48.2,-17.6L-46.9,-20.3L-45.6,-22.9L-44.1,-25.5L-42.5,-28.0L-40.7,-30.4L-38.8,-32.7L-36.9,-34.9L-34.7,-37.0L-32.5,-39.0L-30.2,-40.9L-27.8,-42.6L-25.3,-44.3L-22.7,-45.7L-20.1,-47.1L-17.4,-48.3L-14.6,-49.4L-11.8,-50.3L-8.9,-51.1L-6.0,-51.7L-3.1,-52.2L-0.1,-52.5L2.9,-52.6L5.8,-52.7L8.8,-52.5L11.8,-52.2L14.7,-51.7L17.6,-51.1L20.5,-50.4" stroke="#320597"/><path d="M20.5,-50.4L23.3,-49.5L26.1,-48.4L28.8,-47.2L31.5,-45.9" stroke="#320597" class="e"/></g>
<use href="#grid"/><circle r="0.9" fill="#222"/>
<use href="#oval"/>
<g font-size="14">
<text x="-12.2" y="-59.09">-60</text>
<text x="-12.2" y="-37.41">-70</text>
<text x="-12.2" y="-15.73">-80</text>
<text x="66.2" y="-35.1">120</text><text x="67.5" y="45.9">60</text>
<text x="-68.7" y="-35.1" text-anchor="end">240</text><text x="-66.9" y="45.9" text-anchor="end">300</text>
</g>
<g font-size="16.15" text-anchor="middle"><text x="0" y="-98.6">jup.7024.02</text><text x="0" y="-81.7">2017-03-17 10:24 UT</text></g>
</g>
<g transform="translate(507.55,110.60)">
<g fill="none" stroke-width="2.60" stroke-linejoin="round" stroke-linecap="round"><path d="M-11.9,-5.7L-12.3,-2.8" stroke="#6b01a8"/><path d="M-12.3,-2.8L-12.2,-0.0" stroke="#7404a7"/><path d="M-12.2,-0.0L-11.8,2.8" stroke="#7d07a6"/><path d="M-11.8,2.8L-11.0,5.5" stroke="#8f0da4"/><path d="M-11.0,5.5L-9.8,8.1" stroke="#b02991"/><path d="M-9.8,8.1L-8.3,10.5" stroke="#d95a6a"/><path d="M-8.3,10.5L-6.5,12.6" stroke="#de6165"/><path d="M-14.7,-10.4L-15.6,-7.6" stroke="#5d01a4"/><path d="M-15.6,-7.6L-16.1,-4.7" stroke="#6201a6"/><path d="M-16.1,-4.7L-16.3,-1.8" stroke="#6700a7"/><path d="M-16.3,-1.8L-16.1,1.1" stroke="#7002a7"/><path d="M-16.1,1.1L-15.6,4.0" stroke="#7905a6"/><path d="M-15.6,4.0L-14.7,6.8" stroke="#860aa5"/><path d="M-14.7,6.8L-13.6,9.5" stroke="#bd3785"/><path d="M-13.6,9.5L-12.1,12.1" stroke="#e56c5c"/><path d="M-12.1,12.1L-10.3,14.4" stroke="#fba338"/><path d="M-10.3,14.4L-8.2,16.5" stroke="#fa9f3a"/><path d="M-8.2,16.5L-5.9,18.4" stroke="#e56c5c"/><path d="M-16.9,-15.2L-18.1,-12.5L-19.1,-9.6" stroke="#5302a2"/><path d="M-19.1,-9.6L-19.8,-6.7" stroke="#5802a3"/><path d="M-19.8,-6.7L-20.1,-3.7L-20.2,-0.7" stroke="#5d01a4"/><path d="M-20.2,-0.7L-19.9,2.3" stroke="#6b01a8"/><path d="M-19.9,2.3L-19.3,5.2" stroke="#7404a7"/><path d="M-19.3,5.2L-18.4,8.1" stroke="#7d07a6"/><path d="M-18.4,8.1L-17.2,10.9" stroke="#ac2593"/><path d="M-17.2,10.9L-15.8,13.5" stroke="#cf4c74"/><path d="M-15.8,13.5L-14.1,15.9" stroke="#e7705a"/><path d="M-14.1,15.9L-12.1,18.2" stroke="#f99b3d"/><path d="M-12.1,18.2L-9.9,20.2" stroke="#fa9f3a"/><path d="M-9.9,20.2L-7.5,22.0" stroke="#f99b3d"/><path d="M-7.5,22.0L-4.9,23.6" stroke="#de6165"/><path d="M-18.6,-19.7L-20.1,-17.1L-21.5,-14.4" stroke="#49039f"/><path d="M-21.5,-14.4L-22.5,-11.6L-23.3,-8.6" stroke="#4e03a1"/><path d="M-23.3,-8.6L-23.8,-5.6L-24.0,-2.6" stroke="#5302a2"/><path d="M-24.0,-2.6L-23.9,0.4" stroke="#5d01a4"/><path d="M-23.9,0.4L-23.6,3.4" stroke="#6700a7"/><path d="M-23.6,3.4L-22.9,6.4" stroke="#6b01a8"/><path d="M-22.9,6.4L-22.0,9.3" stroke="#7404a7"/><path d="M-22.0,9.3L-20.9,12.1" stroke="#97149f"/><path d="M-20.9,12.1L-19.4,14.8" stroke="#b6308b"/><path d="M-19.4,14.8L-17.8,17.3" stroke="#cf4c74"/><path d="M-17.8,17.3L-15.9,19.7" stroke="#e16462"/><path d="M-15.9,19.7L-13.8,21.9" stroke="#f1834c"/><path d="M-13.8,21.9L-11.5,23.8" stroke="#f48b47"/><path d="M-11.5,23.8L-9.0,25.6" stroke="#f38749"/><path d="M-9.0,25.6L-6.4,27.1" stroke="#e97357"/><path d="M-6.4,27.1L-3.6,28.4" stroke="#d24f72"/><path d="M-20.0,-24.1L-21.8,-21.6L-23.4,-19.0" stroke="#44049e" class="e"/><path d="M-23.4,-19.0L-24.7,-16.2L-25.8,-13.4L-26.6,-10.5" stroke="#49039f"/><path d="M-26.6,-10.5L-27.2,-7.5L-27.6,-4.5" stroke="#4e03a1"/><path d="M-27.6,-4.5L-27.7,-1.5" stroke="#5302a2"/><path d="M-27.7,-1.5L-27.5,1.6" stroke="#5802a3"/><path d="M-27.5,1.6L-27.1,4.6" stroke="#6201a6"/><path d="M-27.1,4.6L-26.5,7.5" stroke="#6700a7"/><path d="M-26.5,7.5L-25.6,10.4" stroke="#7002a7"/><path d="M-25.6,10.4L-24.4,13.3" stroke="#860aa5"/><path d="M-24.4,13.3L-23.0,16.0" stroke="#9f1b9a"/><path d="M-23.0,16.0L-21.4,18.5" stroke="#b6308b"/><path d="M-21.4,18.5L-19.6,21.0" stroke="#ca457a"/><path d="M-19.6,21.0L-17.6,23.3" stroke="#d7566d"/><path d="M-17.6,23.3L-15.4,25.4" stroke="#e3685f"/><path d="M-15.4,25.4L-13.1,27.3L-10.6,29.0" stroke="#e7705a"/><path d="M-10.6,29.0L-7.9,30.5" stroke="#e56c5c"/><path d="M-7.9,30.5L-5.1,31.7" stroke="#d7566d" class="e"/><path d="M-5.1,31.7L-2.3,32.8" stroke="#c33e80" class="e"/><path d="M-21.3,-28.1L-23.3,-25.8L-25.0,-23.3" stroke="#44049e" class="e"/><path d="M-25.0,-23.3L-26.5,-20.7L-27.9,-18.0L-29.0,-15.2" stroke="#44049e"/><path d="M-29.0,-15.2L-29.9,-12.3L-30.6,-9.4L-31.0,-6.4" stroke="#49039f"/><path d="M-31.0,-6.4L-31.3,-3.3" stroke="#4e03a1"/><path d="M-31.3,-3.3L-31.3,-0.3" stroke="#5302a2"/><path d="M-31.3,-0.3L-31.0,2.7" stroke="#5802a3"/><path d="M-31.0,2.7L-30.6,5.7" stroke="#5d01a4"/><path d="M-30.6,5.7L-29.9,8.6" stroke="#6201a6"/><path d="M-29.9,8.6L-29.0,11.5" stroke="#6700a7"/><path d="M-29.0,11.5L-27.9,14.3" stroke="#7d07a6"/><path d="M-27.9,14.3L-26.6,17.1" stroke="#8f0da4"/><path d="M-26.6,17.1L-25.0,19.7" stroke="#9f1b9a"/><path d="M-25.0,19.7L-23.3,22.1" stroke="#b32c8e"/><path d="M-23.3,22.1L-21.4,24.5" stroke="#c03a83"/><path d="M-21.4,24.5L-19.3,26.7" stroke="#ca457a"/><path d="M-19.3,26.7L-17.1,28.7" stroke="#d4536f"/><path d="M-17.1,28.7L-14.7,30.6L-12.1,32.2L-9.5,33.7" stroke="#d95a6a"/><path d="M-9.5,33.7L-6.7,35.0" stroke="#d7566d"/><path d="M-6.7,35.0L-3.9,36.0" stroke="#ca457a" class="e"/><path d="M-3.9,36.0L-1.0,36.9" stroke="#b6308b" class="e"/><path d="M-22.5,-31.8L-24.5,-29.6L-26.4,-27.3L-28.1,-24.8" stroke="#44049e" class="e"/><path d="M-28.1,-24.8L-29.6,-22.3L-31.0,-19.6L-32.1,-16.8L-33.1,-14.0L-33.8,-11.1" stroke="#44049e"/><path d="M-33.8,-11.1L-34.4,-8.1L-34.7,-5.2" stroke="#49039f"/><path d="M-34.7,-5.2L-34.8,-2.2" stroke="#4e03a1"/><path d="M-34.8,-2.2L-34.7,0.8L-34.5,3.8" stroke="#5302a2"/><path d="M-34.5,3.8L-34.0,6.8" stroke="#5802a3"/><path d="M-34.0,6.8L-33.3,9.7" stroke="#5d01a4"/><path d="M-33.3,9.7L-32.4,12.6" stroke="#6201a6"/><path d="M-32.4,12.6L-31.3,15.4" stroke="#7002a7"/><path d="M-31.3,15.4L-30.0,18.1" stroke="#8208a5"/><path d="M-30.0,18.1L-28.5,20.7" stroke="#8f0da4"/><path d="M-28.5,20.7L-26.9,23.2" stroke="#9b179d"/><path d="M-26.9,23.2L-25.1,25.6" stroke="#ac2593"/><path d="M-25.1,25.6L-23.1,27.8" stroke="#b6308b"/><path d="M-23.1,27.8L-21.0,30.0" stroke="#c03a83"/><path d="M-21.0,30.0L-18.7,31.9" stroke="#ca457a"/><path d="M-18.7,31.9L-16.3,33.7L-13.8,35.3" stroke="#cf4c74"/><path d="M-13.8,35.3L-11.1,36.8L-8.4,38.0" stroke="#cd4877"/><path d="M-8.4,38.0L-5.6,39.0" stroke="#c7417d" class="e"/><path d="M-5.6,39.0L-2.7,39.9" stroke="#b6308b" class="e"/><path d="M-2.7,39.9L0.2,40.5" stroke="#a72296" class="e"/><path d="M-23.5,-35.4L-25.7,-33.2" stroke="#3f049c" class="e"/><path d="M-25.7,-33.2L-27.7,-30.9L-29.6,-28.5" stroke="#44049e" class="e"/><path d="M-29.6,-28.5L-31.3,-26.0L-32.8,-23.4L-34.2,-20.7L-35.4,-17.9L-36.4,-15.0L-37.1,-12.0L-37.7,-9.0L-38.1,-6.0" stroke="#44049e"/><path d="M-38.1,-6.0L-38.2,-2.9" stroke="#49039f"/><path d="M-38.2,-2.9L-38.2,0.2" stroke="#4e03a1"/><path d="M-38.2,0.2L-38.0,3.2L-37.5,6.2" stroke="#5302a2"/><path d="M-37.5,6.2L-36.9,9.2" stroke="#5802a3"/><path d="M-36.9,9.2L-36.1,12.2" stroke="#5d01a4"/><path d="M-36.1,12.2L-35.1,15.1" stroke="#6201a6"/><path d="M-35.1,15.1L-33.9,17.9" stroke="#7002a7"/><path d="M-33.9,17.9L-32.5,20.6" stroke="#7d07a6"/><path d="M-32.5,20.6L-31.0,23.2" stroke="#860aa5"/><path d="M-31.0,23.2L-29.3,25.8" stroke="#9310a2"/><path d="M-29.3,25.8L-27.4,28.2" stroke="#9b179d"/><path d="M-27.4,28.2L-25.3,30.5" stroke="#a72296"/><path d="M-25.3,30.5L-23.2,32.6" stroke="#b02991"/><path d="M-23.2,32.6L-20.8,34.6" stroke="#ba3388"/><path d="M-20.8,34.6L-18.4,36.4L-15.8,38.1L-13.1,39.5" stroke="#c03a83"/><path d="M-13.1,39.5L-10.4,40.8L-7.5,41.9" stroke="#bd3785"/><path d="M-7.5,41.9L-4.6,42.8" stroke="#b32c8e" class="e"/><path d="M-4.6,42.8L-1.7,43.5" stroke="#a72296" class="e"/><path d="M-1.7,43.5L1.3,44.0" stroke="#97149f" class="e"/><path d="M-24.6,-38.8L-26.8,-36.8L-28.8,-34.6L-30.8,-32.3" stroke="#3f049c" class="e"/><path d="M-30.8,-32.3L-32.6,-30.0L-34.3,-27.5L-35.8,-24.9L-37.2,-22.2L-38.4,-19.4L-39.4,-16.6L-40.2,-13.7L-40.8,-10.7L-41.2,-7.7" stroke="#44049e"/><path d="M-41.2,-7.7L-41.5,-4.7L-41.6,-1.7" stroke="#49039f"/><path d="M-41.6,-1.7L-41.5,1.3L-41.2,4.3" stroke="#4e03a1"/><path d="M-41.2,4.3L-40.7,7.3L-40.1,10.3" stroke="#5302a2"/><path d="M-40.1,10.3L-39.3,13.2" stroke="#5802a3"/><path d="M-39.3,13.2L-38.3,16.0" stroke="#5d01a4"/><path d="M-38.3,16.0L-37.1,18.8" stroke="#6700a7"/><path d="M-37.1,18.8L-35.8,21.5" stroke="#7002a7"/><path d="M-35.8,21.5L-34.3,24.1" stroke="#7905a6"/><path d="M-34.3,24.1L-32.7,26.7" stroke="#8208a5"/><path d="M-32.7,26.7L-30.9,29.1" stroke="#8b0ba4"/><path d="M-30.9,29.1L-29.0,31.4" stroke="#9310a2"/><path d="M-29.0,31.4L-26.9,33.6" stroke="#9b179d"/><path d="M-26.9,33.6L-24.7,35.7" stroke="#a31e98"/><path d="M-24.7,35.7L-22.4,37.6" stroke="#ac2593"/><path d="M-22.4,37.6L-20.0,39.4L-17.4,41.0" stroke="#b32c8e"/><path d="M-17.4,41.0L-14.8,42.5L-12.0,43.7L-9.2,44.8" stroke="#b02991"/><path d="M-9.2,44.8L-6.4,45.7" stroke="#ac2593"/><path d="M-6.4,45.7L-3.5,46.4" stroke="#9f1b9a" class="e"/><path d="M-3.5,46.4L-0.5,47.0" stroke="#97149f" class="e"/><path d="M-0.5,47.0L2.4,47.5" stroke="#8b0ba4" class="e"/><path d="M-35.0,-29.5L-36.6,-26.9L-38.0,-24.3L-39.3,-21.6L-40.3,-18.8L-41.2,-15.9L-42.0,-13.0L-42.5,-10.1L-42.9,-7.1" stroke="#44049e"/><path d="M-42.9,-7.1L-43.2,-4.1L-43.2,-1.1" stroke="#49039f"/><path d="M-43.2,-1.1L-43.1,1.9L-42.8,4.9" stroke="#4e03a1"/><path d="M-42.8,4.9L-42.3,7.8L-41.7,10.8" stroke="#5302a2"/><path d="M-41.7,10.8L-40.8,13.6" stroke="#5802a3"/><path d="M-40.8,13.6L-39.9,16.5" stroke="#5d01a4"/><path d="M-39.9,16.5L-38.7,19.2" stroke="#6700a7"/><path d="M-38.7,19.2L-37.4,21.9" stroke="#6b01a8"/><path d="M-37.4,21.9L-36.0,24.6" stroke="#7404a7"/><path d="M-36.0,24.6L-34.4,27.1" stroke="#7d07a6"/><path d="M-34.4,27.1L-32.6,29.5" stroke="#860aa5"/><path d="M-32.6,29.5L-30.7,31.9" stroke="#8b0ba4"/><path d="M-30.7,31.9L-28.7,34.1" stroke="#9310a2"/><path d="M-28.7,34.1L-26.6,36.2" stroke="#9b179d"/><path d="M-26.6,36.2L-24.3,38.2" stroke="#a31e98"/><path d="M-24.3,38.2L-22.0,40.0" stroke="#a72296"/><path d="M-22.0,40.0L-19.5,41.7L-16.9,43.2L-14.2,44.5" stroke="#ac2593"/><path d="M-14.2,44.5L-11.5,45.7" stroke="#a72296"/><path d="M-25.6,-42.2L-27.9,-40.2L-30.0,-38.1L-32.1,-35.9L-34.0,-33.5" stroke="#3f049c" class="e"/><path d="M-34.0,-33.5L-35.8,-31.1L-37.5,-28.6" stroke="#3f049c"/><path d="M-37.5,-28.6L-39.0,-25.9L-40.3,-23.2L-41.5,-20.3L-42.5,-17.4L-43.3,-14.5L-43.9,-11.5L-44.4,-8.5L-44.7,-5.5" stroke="#44049e"/><path d="M-44.7,-5.5L-44.8,-2.4L-44.8,0.6" stroke="#49039f"/><path d="M-44.8,0.6L-44.6,3.7L-44.2,6.7" stroke="#4e03a1"/><path d="M-44.2,6.7L-43.6,9.7L-42.8,12.7" stroke="#5302a2"/><path d="M-42.8,12.7L-41.9,15.6" stroke="#5802a3"/><path d="M-41.9,15.6L-40.8,18.4" stroke="#5d01a4"/><path d="M-40.8,18.4L-39.6,21.2" stroke="#6700a7"/><path d="M-39.6,21.2L-38.2,23.9" stroke="#6b01a8"/><path d="M-38.2,23.9L-36.7,26.6" stroke="#7404a7"/><path d="M-36.7,26.6L-35.0,29.1" stroke="#7d07a6"/><path d="M-35.0,29.1L-33.1,31.5" stroke="#8208a5"/><path d="M-33.1,31.5L-31.2,33.9" stroke="#8b0ba4"/><path d="M-31.2,33.9L-29.0,36.1" stroke="#8f0da4"/><path d="M-29.0,36.1L-26.8,38.2" stroke="#97149f"/><path d="M-26.8,38.2L-24.5,40.1" stroke="#9f1b9a"/><path d="M-24.5,40.1L-22.0,41.9" stroke="#a31e98"/><path d="M-22.0,41.9L-19.5,43.6" stroke="#a72296"/><path d="M-19.5,43.6L-16.8,45.1L-14.1,46.4L-11.2,47.5" stroke="#a31e98"/><path d="M-11.2,47.5L-8.4,48.5" stroke="#9f1b9a"/><path d="M-8.4,48.5L-5.4,49.3" stroke="#9b179d" class="e"/><path d="M-5.4,49.3L-2.5,50.0" stroke="#9310a2" class="e"/><path d="M-2.5,50.0L0.5,50.5" stroke="#8b0ba4" class="e"/><path d="M0.5,50.5L3.5,50.8" stroke="#8208a5" class="e"/><path d="M-39.2,-28.8L-40.7,-26.2" stroke="#3f049c"/><path d="M-40.7,-26.2L-41.9,-23.5L-43.1,-20.7L-44.0,-17.9L-44.8,-15.0L-45.5,-12.1L-45.9,-9.1L-46.2,-6.1" stroke="#44049e"/><path d="M-46.2,-6.1L-46.4,-3.1L-46.4,-0.1L-46.2,2.9" stroke="#49039f"/><path d="M-46.2,2.9L-45.9,5.8L-45.4,8.8" stroke="#4e03a1"/><path d="M-45.4,8.8L-44.7,11.7L-43.9,14.6" stroke="#5302a2"/><path d="M-43.9,14.6L-42.9,17.4" stroke="#5802a3"/><path d="M-42.9,17.4L-41.8,20.2" stroke="#5d01a4"/><path d="M-41.8,20.2L-40.5,22.9" stroke="#6700a7"/><path d="M-40.5,22.9L-39.1,25.6" stroke="#6b01a8"/><path d="M-39.1,25.6L-37.6,28.1" stroke="#7404a7"/><path d="M-37.6,28.1L-35.9,30.6" stroke="#7905a6"/><path d="M-35.9,30.6L-34.0,32.9" stroke="#7d07a6"/><path d="M-34.0,32.9L-32.1,35.2" stroke="#860aa5"/><path d="M-32.1,35.2L-30.0,37.4" stroke="#8b0ba4"/><path d="M-30.0,37.4L-27.8,39.4" stroke="#9310a2"/><path d="M-27.8,39.4L-25.5,41.3" stroke="#97149f"/><path d="M-25.5,41.3L-23.1,43.1L-20.6,44.8L-18.0,46.3L-15.3,47.6" stroke="#9f1b9a"/><path d="M-26.6,-45.6L-28.9,-43.7L-31.1,-41.6L-33.2,-39.5L-35.2,-37.3" stroke="#3f049c" class="e"/><path d="M-35.2,-37.3L-37.0,-34.9L-38.8,-32.5L-40.4,-29.9L-41.9,-27.3L-43.2,-24.6L-44.3,-21.8" stroke="#3f049c"/><path d="M-44.3,-21.8L-45.3,-19.0L-46.2,-16.1L-46.8,-13.2L-47.4,-10.2L-47.7,-7.2L-47.9,-4.2" stroke="#44049e"/><path d="M-47.9,-4.2L-48.0,-1.2L-47.9,1.8L-47.6,4.8" stroke="#49039f"/><path d="M-47.6,4.8L-47.2,7.8L-46.6,10.7" stroke="#4e03a1"/><path d="M-46.6,10.7L-45.9,13.6L-45.0,16.5" stroke="#5302a2"/><path d="M-45.0,16.5L-43.9,19.3" stroke="#5802a3"/><path d="M-43.9,19.3L-42.7,22.1" stroke="#5d01a4"/><path d="M-42.7,22.1L-41.4,24.8" stroke="#6700a7"/><path d="M-41.4,24.8L-39.9,27.4" stroke="#6b01a8"/><path d="M-39.9,27.4L-38.3,29.9" stroke="#7002a7"/><path d="M-38.3,29.9L-36.5,32.4" stroke="#7905a6"/><path d="M-36.5,32.4L-34.6,34.7" stroke="#7d07a6"/><path d="M-34.6,34.7L-32.6,36.9" stroke="#8208a5"/><path d="M-32.6,36.9L-30.5,39.1" stroke="#860aa5"/><path d="M-30.5,39.1L-28.3,41.1" stroke="#8f0da4"/><path d="M-28.3,41.1L-25.9,43.0" stroke="#9310a2"/><path d="M-25.9,43.0L-23.5,44.8" stroke="#97149f"/><path d="M-23.5,44.8L-21.0,46.4" stroke="#9b179d"/><path d="M-21.0,46.4L-18.4,47.9L-15.7,49.2L-12.9,50.4L-10.1,51.4" stroke="#97149f"/><path d="M-10.1,51.4L-7.2,52.2" stroke="#9310a2"/><path d="M-7.2,52.2L-4.3,52.9" stroke="#8f0da4" class="e"/><path d="M-4.3,52.9L-1.3,53.5" stroke="#860aa5" class="e"/><path d="M-1.3,53.5L1.6,53.9" stroke="#7d07a6" class="e"/><path d="M1.6,53.9L4.6,54.2" stroke="#7905a6" class="e"/><path d="M-37.9,-36.4L-39.7,-33.9L-41.4,-31.4L-42.9,-28.7L-44.2,-26.0L-45.4,-23.2L-46.5,-20.4L-47.4,-17.5" stroke="#3f049c"/><path d="M-47.4,-17.5L-48.1,-14.5L-48.7,-11.5L-49.2,-8.5L-49.4,-5.5L-49.5,-2.5" stroke="#44049e"/><path d="M-49.5,-2.5L-49.5,0.6L-49.3,3.6L-48.9,6.6" stroke="#49039f"/><path d="M-48.9,6.6L-48.4,9.6L-47.7,12.6L-46.9,15.5" stroke="#4e03a1"/><path d="M-46.9,15.5L-45.9,18.4" stroke="#5302a2"/><path d="M-45.9,18.4L-44.8,21.2" stroke="#5802a3"/><path d="M-44.8,21.2L-43.5,24.0" stroke="#5d01a4"/><path d="M-43.5,24.0L-42.1,26.7" stroke="#6700a7"/><path d="M-42.1,26.7L-40.5,29.3" stroke="#6b01a8"/><path d="M-40.5,29.3L-38.8,31.8" stroke="#7002a7"/><path d="M-38.8,31.8L-37.0,34.2" stroke="#7404a7"/><path d="M-37.0,34.2L-35.1,36.6" stroke="#7905a6"/><path d="M-35.1,36.6L-33.0,38.8" stroke="#7d07a6"/><path d="M-33.0,38.8L-30.8,40.9" stroke="#8208a5"/><path d="M-30.8,40.9L-28.5,42.9" stroke="#8b0ba4"/><path d="M-28.5,42.9L-26.1,44.8" stroke="#8f0da4"/><path d="M-26.1,44.8L-23.6,46.5L-21.1,48.1L-18.4,49.6L-15.6,50.9" stroke="#9310a2"/><path d="M-15.6,50.9L-12.8,52.1L-10.0,53.1" stroke="#8f0da4"/><path d="M-27.6,-48.9L-30.0,-47.0L-32.2,-45.0L-34.4,-42.9L-36.4,-40.7" stroke="#3f049c" class="e"/><path d="M-36.4,-40.7L-38.4,-38.4L-40.2,-36.0L-41.9,-33.5L-43.5,-30.9L-44.9,-28.2L-46.2,-25.5L-47.3,-22.7L-48.3,-19.8L-49.1,-16.9L-49.8,-14.0" stroke="#3f049c"/><path d="M-49.8,-14.0L-50.4,-11.0L-50.8,-8.0L-51.0,-5.0L-51.1,-1.9" stroke="#44049e"/><path d="M-51.1,-1.9L-51.0,1.1L-50.8,4.1L-50.4,7.1" stroke="#49039f"/><path d="M-50.4,7.1L-49.9,10.1L-49.2,13.1L-48.4,16.0" stroke="#4e03a1"/><path d="M-48.4,16.0L-47.4,18.8" stroke="#5302a2"/><path d="M-47.4,18.8L-46.3,21.6" stroke="#5802a3"/><path d="M-46.3,21.6L-45.0,24.4" stroke="#5d01a4"/><path d="M-45.0,24.4L-43.6,27.1" stroke="#6201a6"/><path d="M-43.6,27.1L-42.1,29.7" stroke="#6700a7"/><path d="M-42.1,29.7L-40.4,32.2" stroke="#6b01a8"/><path d="M-40.4,32.2L-38.6,34.7" stroke="#7002a7"/><path d="M-38.6,34.7L-36.7,37.0" stroke="#7404a7"/><path d="M-36.7,37.0L-34.7,39.3" stroke="#7905a6"/><path d="M-34.7,39.3L-32.5,41.4" stroke="#7d07a6"/><path d="M-32.5,41.4L-30.3,43.4" stroke="#8208a5"/><path d="M-30.3,43.4L-28.0,45.3" stroke="#860aa5"/><path d="M-28.0,45.3L-25.5,47.1" stroke="#8b0ba4"/><path d="M-25.5,47.1L-23.0,48.8" stroke="#8f0da4"/><path d="M-23.0,48.8L-20.4,50.3L-17.7,51.7L-14.9,52.9L-12.1,54.0" stroke="#8b0ba4"/><path d="M-12.1,54.0L-9.2,55.0L-6.3,55.8" stroke="#860aa5"/><path d="M-6.3,55.8L-3.4,56.4" stroke="#7d07a6" class="e"/><path d="M-3.4,56.4L-0.4,56.9" stroke="#7905a6" class="e"/><path d="M-0.4,56.9L2.6,57.3" stroke="#7404a7" class="e"/><path d="M2.6,57.3L5.6,57.5" stroke="#7002a7" class="e"/><path d="M-42.5,-35.4L-44.1,-32.9L-45.6,-30.2L-46.9,-27.5L-48.1,-24.8L-49.2,-22.0L-50.1,-19.1L-50.9,-16.2L-51.5,-13.3" stroke="#3f049c"/><path d="M-51.5,-13.3L-52.0,-10.3L-52.3,-7.3L-52.5,-4.3L-52.6,-1.3" stroke="#44049e"/><path d="M-52.6,-1.3L-52.5,1.7L-52.3,4.7L-51.9,7.6L-51.3,10.6" stroke="#49039f"/><path d="M-51.3,10.6L-50.6,13.5L-49.8,16.4L-48.9,19.3" stroke="#4e03a1"/><path d="M-48.9,19.3L-47.7,22.0" stroke="#5302a2"/><path d="M-47.7,22.0L-46.5,24.8" stroke="#5802a3"/><path d="M-46.5,24.8L-45.1,27.5" stroke="#5d01a4"/><path d="M-45.1,27.5L-43.6,30.1" stroke="#6201a6"/><path d="M-43.6,30.1L-42.0,32.6" stroke="#6700a7"/><path d="M-42.0,32.6L-40.3,35.0" stroke="#6b01a8"/><path d="M-40.3,35.0L-38.4,37.4L-36.4,39.6" stroke="#7002a7"/><path d="M-36.4,39.6L-34.3,41.8" stroke="#7404a7"/><path d="M-34.3,41.8L-32.1,43.8" stroke="#7905a6"/><path d="M-32.1,43.8L-29.8,45.8" stroke="#7d07a6"/><path d="M-29.8,45.8L-27.4,47.6" stroke="#8208a5"/><path d="M-27.4,47.6L-25.0,49.3L-22.4,50.9L-19.8,52.3L-17.1,53.7" stroke="#860aa5"/><path d="M-17.1,53.7L-14.3,54.8" stroke="#8208a5"/><path d="M-28.6,-52.2L-31.0,-50.4L-33.2,-48.5L-35.4,-46.4L-37.5,-44.3L-39.5,-42.0" stroke="#3f049c" class="e"/><path d="M-39.5,-42.0L-41.3,-39.7L-43.1,-37.3L-44.7,-34.8L-46.2,-32.2L-47.6,-29.6L-48.9,-26.9L-50.0,-24.1L-51.0,-21.3L-51.8,-18.4L-52.6,-15.6L-53.2,-12.6" stroke="#3f049c"/><path d="M-53.2,-12.6L-53.6,-9.7L-53.9,-6.7L-54.1,-3.7L-54.1,-0.8L-54.0,2.2" stroke="#44049e"/><path d="M-54.0,2.2L-53.7,5.2L-53.3,8.1L-52.8,11.1L-52.1,14.0" stroke="#49039f"/><path d="M-52.1,14.0L-51.3,16.9L-50.3,19.7" stroke="#4e03a1"/><path d="M-50.3,19.7L-49.2,22.5" stroke="#5302a2"/><path d="M-49.2,22.5L-48.0,25.2L-46.6,27.8" stroke="#5802a3"/><path d="M-46.6,27.8L-45.2,30.4" stroke="#5d01a4"/><path d="M-45.2,30.4L-43.6,32.9" stroke="#6201a6"/><path d="M-43.6,32.9L-41.9,35.4L-40.0,37.7" stroke="#6700a7"/><path d="M-40.0,37.7L-38.1,40.0" stroke="#6b01a8"/><path d="M-38.1,40.0L-36.0,42.2" stroke="#7002a7"/><path d="M-36.0,42.2L-33.9,44.3L-31.7,46.2" stroke="#7404a7"/><path d="M-31.7,46.2L-29.3,48.1" stroke="#7905a6"/><path d="M-29.3,48.1L-26.9,49.8" stroke="#7d07a6"/><path d="M-26.9,49.8L-24.4,51.5" stroke="#8208a5"/><path d="M-24.4,51.5L-21.8,53.0L-19.2,54.3L-16.5,55.6L-13.7,56.7" stroke="#7d07a6"/><path d="M-13.7,56.7L-10.9,57.7L-8.1,58.6" stroke="#7905a6"/><path d="M-8.1,58.6L-5.2,59.3" stroke="#7404a7" class="e"/><path d="M-5.2,59.3L-2.2,59.9" stroke="#7002a7" class="e"/><path d="M-2.2,59.9L0.7,60.3" stroke="#6b01a8" class="e"/><path d="M0.7,60.3L3.7,60.6" stroke="#6700a7" class="e"/><path d="M3.7,60.6L6.7,60.8" stroke="#6201a6" class="e"/></g>
<use href="#grid"/><circle r="0.9" fill="#222"/>
<use href="#oval"/>
<g font-size="14">
<text x="-12.2" y="-59.09">-60</text>
<text x="-12.2" y="-37.41">-70</text>
<text x="-12.2" y="-15.73">-80</text>
<text x="66.2" y="-35.1">120</text><text x="67.5" y="45.9">60</text>
<text x="-68.7" y="-35.1" text-anchor="end">240</text><text x="-66.9" y="45.9" text-anchor="end">300</text>
</g>
<g font-size="16.15" text-anchor="middle"><text x="0" y="-98.6">jup.7038.01</text><text x="0" y="-81.7">2017-03-17 12:11 UT</text></g>
</g>
<g transform="translate(91.25,319.75)">
<g fill="none" stroke-width="2.60" stroke-linejoin="round" stroke-linecap="round"><path d="M-14.5,-9.0L-15.0,-6.0" stroke="#7404a7"/><path d="M-15.0,-6.0L-15.0,-3.0" stroke="#7d07a6"/><path d="M-15.0,-3.0L-14.8,-0.1" stroke="#8208a5"/><path d="M-14.8,-0.1L-14.2,2.8" stroke="#9b179d"/><path d="M-14.2,2.8L-13.3,5.7" stroke="#ba3388"/><path d="M-13.3,5.7L-12.0,8.3" stroke="#d7566d"/><path d="M-12.0,8.3L-10.4,10.9" stroke="#ef7f4f"/><path d="M-10.4,10.9L-8.6,13.2" stroke="#f58f44"/><path d="M-8.6,13.2L-6.5,15.3" stroke="#eb7754"/><path d="M-6.5,15.3L-4.1,17.1" stroke="#d4536f"/><path d="M-17.4,-13.5L-18.3,-10.6" stroke="#6700a7"/><path d="M-18.3,-10.6L-18.8,-7.6" stroke="#6b01a8"/><path d="M-18.8,-7.6L-19.0,-4.6" stroke="#7002a7"/><path d="M-19.0,-4.6L-19.0,-1.6" stroke="#7404a7"/><path d="M-19.0,-1.6L-18.6,1.4" stroke="#8208a5"/><path d="M-18.6,1.4L-17.9,4.3" stroke="#a31e98"/><path d="M-17.9,4.3L-17.0,7.1" stroke="#c03a83"/><path d="M-17.0,7.1L-15.7,9.9" stroke="#dc5d67"/><path d="M-15.7,9.9L-14.2,12.5" stroke="#f48b47"/><path d="M-14.2,12.5L-12.4,14.9" stroke="#fca835"/><path d="M-12.4,14.9L-10.4,17.1" stroke="#fcb131"/><path d="M-10.4,17.1L-8.2,19.1" stroke="#fca835"/><path d="M-8.2,19.1L-5.7,20.9" stroke="#f58f44"/><path d="M-5.7,20.9L-3.1,22.4" stroke="#e16462"/><path d="M-19.8,-17.9L-21.0,-15.1L-21.9,-12.2" stroke="#5802a3"/><path d="M-21.9,-12.2L-22.5,-9.3" stroke="#5d01a4"/><path d="M-22.5,-9.3L-22.9,-6.3" stroke="#6201a6"/><path d="M-22.9,-6.3L-22.9,-3.2" stroke="#6700a7"/><path d="M-22.9,-3.2L-22.8,-0.2" stroke="#6b01a8"/><path d="M-22.8,-0.2L-22.3,2.8" stroke="#8208a5"/><path d="M-22.3,2.8L-21.6,5.7" stroke="#97149f"/><path d="M-21.6,5.7L-20.6,8.6" stroke="#ac2593"/><path d="M-20.6,8.6L-19.3,11.3" stroke="#c7417d"/><path d="M-19.3,11.3L-17.8,14.0" stroke="#e16462"/><path d="M-17.8,14.0L-16.1,16.5" stroke="#f58f44"/><path d="M-16.1,16.5L-14.2,18.8" stroke="#f99b3d"/><path d="M-14.2,18.8L-12.0,20.9L-9.7,22.8" stroke="#fba338"/><path d="M-9.7,22.8L-7.2,24.6" stroke="#f8973f"/><path d="M-7.2,24.6L-4.6,26.0" stroke="#f38749"/><path d="M-4.6,26.0L-1.8,27.3" stroke="#de6165"/><path d="M-21.9,-22.1L-23.2,-19.5L-24.4,-16.7" stroke="#4e03a1"/><path d="M-24.4,-16.7L-25.3,-13.8L-26.0,-10.8" stroke="#5302a2"/><path d="M-26.0,-10.8L-26.5,-7.8L-26.7,-4.8" stroke="#5802a3"/><path d="M-26.7,-4.8L-26.7,-1.8" stroke="#5d01a4"/><path d="M-26.7,-1.8L-26.4,1.2" stroke="#6b01a8"/><path d="M-26.4,1.2L-25.8,4.2" stroke="#7905a6"/><path d="M-25.8,4.2L-25.1,7.1" stroke="#860aa5"/><path d="M-25.1,7.1L-24.1,10.0" stroke="#9310a2"/><path d="M-24.1,10.0L-22.8,12.7" stroke="#a72296"/><path d="M-22.8,12.7L-21.4,15.4" stroke="#c33e80"/><path d="M-21.4,15.4L-19.7,17.9" stroke="#d7566d"/><path d="M-19.7,17.9L-17.9,20.3" stroke="#e56c5c"/><path d="M-17.9,20.3L-15.8,22.5" stroke="#e97357"/><path d="M-15.8,22.5L-13.6,24.6L-11.2,26.4" stroke="#ed7b51"/><path d="M-11.2,26.4L-8.7,28.1" stroke="#eb7754"/><path d="M-8.7,28.1L-6.0,29.5" stroke="#e97357"/><path d="M-6.0,29.5L-3.2,30.8" stroke="#de6165"/><path d="M-3.2,30.8L-0.4,31.8" stroke="#cd4877"/><path d="M-23.7,-26.2L-25.2,-23.6L-26.6,-20.9" stroke="#49039f" class="e"/><path d="M-26.6,-20.9L-27.8,-18.1" stroke="#49039f"/><path d="M-27.8,-18.1L-28.7,-15.3L-29.5,-12.4L-30.0,-9.4" stroke="#4e03a1"/><path d="M-30.0,-9.4L-30.3,-6.4L-30.4,-3.4" stroke="#5302a2"/><path d="M-30.4,-3.4L-30.2,-0.4" stroke="#5d01a4"/><path d="M-30.2,-0.4L-29.9,2.6" stroke="#6700a7"/><path d="M-29.9,2.6L-29.3,5.6" stroke="#7002a7"/><path d="M-29.3,5.6L-28.5,8.5" stroke="#7905a6"/><path d="M-28.5,8.5L-27.5,11.3" stroke="#8208a5"/><path d="M-27.5,11.3L-26.3,14.1" stroke="#9310a2"/><path d="M-26.3,14.1L-24.8,16.8" stroke="#a72296"/><path d="M-24.8,16.8L-23.2,19.3" stroke="#ba3388"/><path d="M-23.2,19.3L-21.4,21.7" stroke="#ca457a"/><path d="M-21.4,21.7L-19.5,24.0" stroke="#d24f72"/><path d="M-19.5,24.0L-17.3,26.1" stroke="#d4536f"/><path d="M-17.3,26.1L-15.0,28.1L-12.6,29.9" stroke="#d95a6a"/><path d="M-12.6,29.9L-10.1,31.5" stroke="#d7566d"/><path d="M-10.1,31.5L-7.4,32.9" stroke="#d4536f"/><path d="M-7.4,32.9L-4.7,34.1" stroke="#d24f72"/><path d="M-4.7,34.1L-1.8,35.2" stroke="#c7417d" class="e"/><path d="M-1.8,35.2L1.1,36.0" stroke="#b6308b" class="e"/><path d="M-25.3,-30.0L-27.0,-27.5L-28.5,-25.0L-29.9,-22.3" stroke="#44049e" class="e"/><path d="M-29.9,-22.3L-31.0,-19.5L-32.0,-16.7L-32.8,-13.8L-33.4,-10.9L-33.7,-7.9" stroke="#49039f"/><path d="M-33.7,-7.9L-33.9,-4.9" stroke="#4e03a1"/><path d="M-33.9,-4.9L-33.9,-1.9" stroke="#5302a2"/><path d="M-33.9,-1.9L-33.7,1.1" stroke="#5802a3"/><path d="M-33.7,1.1L-33.2,4.0" stroke="#5d01a4"/><path d="M-33.2,4.0L-32.6,7.0" stroke="#6700a7"/><path d="M-32.6,7.0L-31.8,9.8" stroke="#6b01a8"/><path d="M-31.8,9.8L-30.8,12.7" stroke="#7404a7"/><path d="M-30.8,12.7L-29.6,15.4" stroke="#7d07a6"/><path d="M-29.6,15.4L-28.2,18.1" stroke="#8f0da4"/><path d="M-28.2,18.1L-26.6,20.6" stroke="#9b179d"/><path d="M-26.6,20.6L-24.9,23.1" stroke="#ac2593"/><path d="M-24.9,23.1L-23.0,25.4" stroke="#b6308b"/><path d="M-23.0,25.4L-21.0,27.6" stroke="#ba3388"/><path d="M-21.0,27.6L-18.8,29.6" stroke="#c03a83"/><path d="M-18.8,29.6L-16.5,31.5" stroke="#c33e80"/><path d="M-16.5,31.5L-14.0,33.2" stroke="#c7417d"/><path d="M-14.0,33.2L-11.5,34.8" stroke="#c33e80"/><path d="M-11.5,34.8L-8.8,36.2" stroke="#c03a83"/><path d="M-8.8,36.2L-6.1,37.4" stroke="#bd3785"/><path d="M-6.1,37.4L-3.3,38.4" stroke="#b6308b" class="e"/><path d="M-3.3,38.4L-0.4,39.2" stroke="#ac2593" class="e"/><path d="M-0.4,39.2L2.5,39.9" stroke="#9f1b9a" class="e"/><path d="M-26.7,-33.4L-28.6,-31.0L-30.3,-28.5L-31.8,-25.9" stroke="#44049e" class="e"/><path d="M-31.8,-25.9L-33.2,-23.1L-34.3,-20.3L-35.3,-17.5" stroke="#44049e"/><path d="M-35.3,-17.5L-36.1,-14.5L-36.7,-11.5L-37.1,-8.5L-37.3,-5.5" stroke="#49039f"/><path d="M-37.3,-5.5L-37.4,-2.4" stroke="#4e03a1"/><path d="M-37.4,-2.4L-37.2,0.6" stroke="#5302a2"/><path d="M-37.2,0.6L-36.8,3.7" stroke="#5802a3"/><path d="M-36.8,3.7L-36.2,6.7" stroke="#5d01a4"/><path d="M-36.2,6.7L-35.5,9.6" stroke="#6201a6"/><path d="M-35.5,9.6L-34.5,12.5" stroke="#6700a7"/><path d="M-34.5,12.5L-33.4,15.3" stroke="#6b01a8"/><path d="M-33.4,15.3L-32.1,18.1" stroke="#7905a6"/><path d="M-32.1,18.1L-30.6,20.8" stroke="#8208a5"/><path d="M-30.6,20.8L-28.9,23.3" stroke="#8f0da4"/><path d="M-28.9,23.3L-27.1,25.8" stroke="#9b179d"/><path d="M-27.1,25.8L-25.2,28.1" stroke="#a31e98"/><path d="M-25.2,28.1L-23.1,30.3" stroke="#a72296"/><path d="M-23.1,30.3L-20.8,32.4" stroke="#ac2593"/><path d="M-20.8,32.4L-18.5,34.3" stroke="#b02991"/><path d="M-18.5,34.3L-16.0,36.1L-13.4,37.7" stroke="#b32c8e"/><path d="M-13.4,37.7L-10.7,39.1" stroke="#b02991"/><path d="M-10.7,39.1L-7.9,40.3L-5.0,41.3" stroke="#ac2593"/><path d="M-5.0,41.3L-2.1,42.2" stroke="#a31e98" class="e"/><path d="M-2.1,42.2L0.9,42.8" stroke="#97149f" class="e"/><path d="M0.9,42.8L3.9,43.3" stroke="#8f0da4" class="e"/><path d="M-28.1,-36.8L-30.0,-34.5L-31.8,-32.1" stroke="#3f049c" class="e"/><path d="M-31.8,-32.1L-33.4,-29.6" stroke="#44049e" class="e"/><path d="M-33.4,-29.6L-34.9,-27.0L-36.3,-24.3L-37.5,-21.5L-38.5,-18.7L-39.3,-15.8L-39.9,-12.9L-40.4,-9.9L-40.6,-6.9" stroke="#44049e"/><path d="M-40.6,-6.9L-40.7,-3.9L-40.6,-0.9" stroke="#49039f"/><path d="M-40.6,-0.9L-40.4,2.1" stroke="#4e03a1"/><path d="M-40.4,2.1L-40.0,5.1" stroke="#5302a2"/><path d="M-40.0,5.1L-39.3,8.0L-38.6,10.9" stroke="#5802a3"/><path d="M-38.6,10.9L-37.6,13.8" stroke="#5d01a4"/><path d="M-37.6,13.8L-36.5,16.6" stroke="#6201a6"/><path d="M-36.5,16.6L-35.2,19.3" stroke="#6b01a8"/><path d="M-35.2,19.3L-33.8,21.9" stroke="#7404a7"/><path d="M-33.8,21.9L-32.2,24.5" stroke="#7d07a6"/><path d="M-32.2,24.5L-30.5,26.9" stroke="#8208a5"/><path d="M-30.5,26.9L-28.6,29.3" stroke="#8b0ba4"/><path d="M-28.6,29.3L-26.6,31.5L-24.5,33.6" stroke="#9310a2"/><path d="M-24.5,33.6L-22.2,35.6" stroke="#97149f"/><path d="M-22.2,35.6L-19.8,37.5L-17.3,39.2L-14.8,40.7L-12.1,42.1" stroke="#9b179d"/><path d="M-12.1,42.1L-9.3,43.3L-6.5,44.3" stroke="#97149f"/><path d="M-6.5,44.3L-3.6,45.1" stroke="#9310a2"/><path d="M-3.6,45.1L-0.7,45.8" stroke="#8b0ba4" class="e"/><path d="M-0.7,45.8L2.2,46.3" stroke="#8208a5" class="e"/><path d="M2.2,46.3L5.2,46.7" stroke="#7d07a6" class="e"/><path d="M-29.5,-40.1L-31.5,-37.8L-33.3,-35.4L-35.1,-33.0" stroke="#3f049c" class="e"/><path d="M-35.1,-33.0L-36.7,-30.4" stroke="#44049e" class="e"/><path d="M-36.7,-30.4L-38.2,-27.8L-39.5,-25.1L-40.7,-22.3L-41.7,-19.4L-42.5,-16.5L-43.1,-13.5L-43.6,-10.5L-43.8,-7.4L-44.0,-4.4" stroke="#44049e"/><path d="M-44.0,-4.4L-43.9,-1.4" stroke="#49039f"/><path d="M-43.9,-1.4L-43.7,1.7L-43.3,4.7" stroke="#4e03a1"/><path d="M-43.3,4.7L-42.8,7.7L-42.0,10.6" stroke="#5302a2"/><path d="M-42.0,10.6L-41.1,13.5L-40.1,16.4" stroke="#5802a3"/><path d="M-40.1,16.4L-38.9,19.2" stroke="#5d01a4"/><path d="M-38.9,19.2L-37.5,21.9" stroke="#6700a7"/><path d="M-37.5,21.9L-36.0,24.5" stroke="#6b01a8"/><path d="M-36.0,24.5L-34.4,27.1" stroke="#7404a7"/><path d="M-34.4,27.1L-32.6,29.5" stroke="#7905a6"/><path d="M-32.6,29.5L-30.7,31.9" stroke="#8208a5"/><path d="M-30.7,31.9L-28.6,34.1L-26.4,36.3" stroke="#860aa5"/><path d="M-26.4,36.3L-24.1,38.3" stroke="#8b0ba4"/><path d="M-24.1,38.3L-21.7,40.1L-19.2,41.8L-16.6,43.4L-13.9,44.8L-11.2,46.1" stroke="#8f0da4"/><path d="M-11.2,46.1L-8.3,47.1L-5.4,48.0" stroke="#8b0ba4"/><path d="M-5.4,48.0L-2.5,48.8" stroke="#860aa5" class="e"/><path d="M-2.5,48.8L0.5,49.3" stroke="#7d07a6" class="e"/><path d="M0.5,49.3L3.5,49.8" stroke="#7905a6" class="e"/><path d="M3.5,49.8L6.5,50.1" stroke="#7002a7" class="e"/><path d="M-39.4,-29.0L-40.7,-26.3L-41.9,-23.5L-43.0,-20.6L-43.8,-17.6L-44.5,-14.6L-45.0,-11.6L-45.3,-8.6L-45.5,-5.5" stroke="#44049e"/><path d="M-45.5,-5.5L-45.5,-2.4L-45.4,0.6" stroke="#49039f"/><path d="M-45.4,0.6L-45.1,3.7L-44.6,6.7" stroke="#4e03a1"/><path d="M-44.6,6.7L-43.9,9.7L-43.1,12.6" stroke="#5302a2"/><path d="M-43.1,12.6L-42.1,15.5L-41.0,18.4" stroke="#5802a3"/><path d="M-41.0,18.4L-39.7,21.2" stroke="#6201a6"/><path d="M-39.7,21.2L-38.2,23.9" stroke="#6700a7"/><path d="M-38.2,23.9L-36.7,26.5" stroke="#6b01a8"/><path d="M-36.7,26.5L-34.9,29.0" stroke="#7002a7"/><path d="M-34.9,29.0L-33.1,31.5" stroke="#7905a6"/><path d="M-33.1,31.5L-31.1,33.8" stroke="#7d07a6"/><path d="M-31.1,33.8L-29.0,36.0L-26.7,38.1" stroke="#8208a5"/><path d="M-26.7,38.1L-24.4,40.1L-21.9,41.9" stroke="#860aa5"/><path d="M-21.9,41.9L-19.4,43.6L-16.7,45.2" stroke="#8b0ba4"/><path d="M-16.7,45.2L-14.0,46.5L-11.2,47.8L-8.3,48.8" stroke="#860aa5"/><path d="M-30.8,-43.4L-32.8,-41.2L-34.7,-38.9L-36.5,-36.5L-38.2,-34.1" stroke="#3f049c" class="e"/><path d="M-38.2,-34.1L-39.8,-31.5L-41.2,-28.9" stroke="#3f049c"/><path d="M-41.2,-28.9L-42.5,-26.2L-43.6,-23.4L-44.6,-20.6L-45.4,-17.7L-46.1,-14.8L-46.6,-11.8L-46.9,-8.9L-47.1,-5.9L-47.1,-2.9" stroke="#44049e"/><path d="M-47.1,-2.9L-47.0,0.1L-46.7,3.1" stroke="#49039f"/><path d="M-46.7,3.1L-46.3,6.1L-45.7,9.0" stroke="#4e03a1"/><path d="M-45.7,9.0L-45.0,11.9L-44.1,14.8L-43.0,17.6" stroke="#5302a2"/><path d="M-43.0,17.6L-41.8,20.3" stroke="#5802a3"/><path d="M-41.8,20.3L-40.5,23.0" stroke="#5d01a4"/><path d="M-40.5,23.0L-39.1,25.6" stroke="#6700a7"/><path d="M-39.1,25.6L-37.5,28.1" stroke="#6b01a8"/><path d="M-37.5,28.1L-35.7,30.6" stroke="#7002a7"/><path d="M-35.7,30.6L-33.9,32.9" stroke="#7404a7"/><path d="M-33.9,32.9L-31.9,35.2L-29.8,37.4" stroke="#7905a6"/><path d="M-29.8,37.4L-27.6,39.4L-25.4,41.3" stroke="#7d07a6"/><path d="M-25.4,41.3L-23.0,43.1L-20.5,44.8" stroke="#8208a5"/><path d="M-20.5,44.8L-17.9,46.3" stroke="#860aa5"/><path d="M-17.9,46.3L-15.3,47.7L-12.5,48.9" stroke="#8208a5"/><path d="M-12.5,48.9L-9.7,50.0L-6.9,50.9L-4.0,51.7" stroke="#7d07a6"/><path d="M-4.0,51.7L-1.1,52.3" stroke="#7905a6" class="e"/><path d="M-1.1,52.3L1.8,52.8" stroke="#7002a7" class="e"/><path d="M1.8,52.8L4.8,53.1" stroke="#6b01a8" class="e"/><path d="M4.8,53.1L7.8,53.3" stroke="#6700a7" class="e"/><path d="M-43.5,-27.8L-44.7,-25.0L-45.7,-22.1" stroke="#3f049c"/><path d="M-45.7,-22.1L-46.6,-19.2L-47.3,-16.2L-47.9,-13.2L-48.3,-10.2L-48.6,-7.2L-48.7,-4.2L-48.6,-1.1" stroke="#44049e"/><path d="M-48.6,-1.1L-48.4,1.9L-48.0,4.9" stroke="#49039f"/><path d="M-48.0,4.9L-47.5,7.9L-46.8,10.9L-46.0,13.8" stroke="#4e03a1"/><path d="M-46.0,13.8L-45.0,16.7L-43.9,19.5" stroke="#5302a2"/><path d="M-43.9,19.5L-42.6,22.3" stroke="#5802a3"/><path d="M-42.6,22.3L-41.2,25.0" stroke="#5d01a4"/><path d="M-41.2,25.0L-39.6,27.6" stroke="#6201a6"/><path d="M-39.6,27.6L-38.0,30.1" stroke="#6700a7"/><path d="M-38.0,30.1L-36.1,32.6" stroke="#6b01a8"/><path d="M-36.1,32.6L-34.2,34.9" stroke="#7002a7"/><path d="M-34.2,34.9L-32.2,37.2L-30.0,39.3" stroke="#7404a7"/><path d="M-30.0,39.3L-27.7,41.3L-25.4,43.3L-22.9,45.0" stroke="#7905a6"/><path d="M-22.9,45.0L-20.3,46.7L-17.7,48.2L-15.0,49.6" stroke="#7d07a6"/><path d="M-15.0,49.6L-12.2,50.8" stroke="#7905a6"/><path d="M-32.1,-46.6L-34.2,-44.4L-36.2,-42.2L-38.1,-39.8L-39.8,-37.4" stroke="#3f049c" class="e"/><path d="M-39.8,-37.4L-41.5,-34.9L-43.0,-32.3L-44.4,-29.6L-45.6,-26.8L-46.7,-24.0L-47.6,-21.2L-48.4,-18.3L-49.1,-15.3" stroke="#3f049c"/><path d="M-49.1,-15.3L-49.6,-12.4L-49.9,-9.4L-50.1,-6.4L-50.2,-3.4L-50.1,-0.3" stroke="#44049e"/><path d="M-50.1,-0.3L-49.8,2.7L-49.5,5.6L-48.9,8.6" stroke="#49039f"/><path d="M-48.9,8.6L-48.2,11.5L-47.4,14.4L-46.4,17.3" stroke="#4e03a1"/><path d="M-46.4,17.3L-45.3,20.1" stroke="#5302a2"/><path d="M-45.3,20.1L-44.0,22.8L-42.7,25.5" stroke="#5802a3"/><path d="M-42.7,25.5L-41.1,28.1" stroke="#5d01a4"/><path d="M-41.1,28.1L-39.5,30.6" stroke="#6201a6"/><path d="M-39.5,30.6L-37.7,33.1" stroke="#6700a7"/><path d="M-37.7,33.1L-35.8,35.4" stroke="#6b01a8"/><path d="M-35.8,35.4L-33.8,37.7L-31.7,39.8L-29.5,41.8" stroke="#7002a7"/><path d="M-29.5,41.8L-27.2,43.8L-24.8,45.6L-22.3,47.3" stroke="#7404a7"/><path d="M-22.3,47.3L-19.7,48.8" stroke="#7905a6"/><path d="M-19.7,48.8L-17.0,50.3L-14.3,51.5L-11.5,52.7" stroke="#7404a7"/><path d="M-11.5,52.7L-8.7,53.7L-5.8,54.5L-2.9,55.2" stroke="#7002a7"/><path d="M-2.9,55.2L0.1,55.8" stroke="#6b01a8" class="e"/><path d="M0.1,55.8L3.0,56.2" stroke="#6700a7" class="e"/><path d="M3.0,56.2L6.0,56.5" stroke="#6201a6" class="e"/><path d="M6.0,56.5L9.0,56.6" stroke="#5d01a4" class="e"/><path d="M-42.8,-35.7L-44.3,-33.1L-45.7,-30.4L-46.9,-27.6L-48.0,-24.8L-48.9,-22.0L-49.8,-19.1L-50.4,-16.2L-51.0,-13.2L-51.3,-10.2" stroke="#3f049c"/><path d="M-51.3,-10.2L-51.6,-7.2L-51.7,-4.2L-51.6,-1.2L-51.4,1.8" stroke="#44049e"/><path d="M-51.4,1.8L-51.1,4.8L-50.6,7.7L-50.0,10.7L-49.2,13.6" stroke="#49039f"/><path d="M-49.2,13.6L-48.3,16.4L-47.3,19.3" stroke="#4e03a1"/><path d="M-47.3,19.3L-46.1,22.0L-44.8,24.7" stroke="#5302a2"/><path d="M-44.8,24.7L-43.3,27.4" stroke="#5802a3"/><path d="M-43.3,27.4L-41.7,29.9L-40.1,32.4" stroke="#5d01a4"/><path d="M-40.1,32.4L-38.2,34.8" stroke="#6201a6"/><path d="M-38.2,34.8L-36.3,37.1L-34.3,39.3" stroke="#6700a7"/><path d="M-34.3,39.3L-32.2,41.4L-29.9,43.4L-27.6,45.3" stroke="#6b01a8"/><path d="M-27.6,45.3L-25.2,47.1L-22.7,48.8L-20.1,50.3L-17.4,51.7L-14.7,53.0" stroke="#7002a7"/><path d="M-14.7,53.0L-11.9,54.1L-9.1,55.1L-6.2,56.0" stroke="#6b01a8"/><path d="M-33.5,-49.8L-35.6,-47.7L-37.6,-45.4L-39.5,-43.1L-41.4,-40.7" stroke="#3f049c" class="e"/><path d="M-41.4,-40.7L-43.1,-38.2L-44.6,-35.6L-46.1,-32.9L-47.4,-30.2L-48.6,-27.4L-49.7,-24.6L-50.6,-21.7L-51.4,-18.8L-52.0,-15.8L-52.5,-12.9L-52.9,-9.9L-53.1,-6.8" stroke="#3f049c"/><path d="M-53.1,-6.8L-53.2,-3.8L-53.1,-0.8L-52.9,2.2L-52.5,5.2" stroke="#44049e"/><path d="M-52.5,5.2L-52.0,8.2L-51.4,11.2L-50.6,14.1L-49.7,17.0" stroke="#49039f"/><path d="M-49.7,17.0L-48.6,19.8L-47.4,22.6" stroke="#4e03a1"/><path d="M-47.4,22.6L-46.1,25.3L-44.7,28.0" stroke="#5302a2"/><path d="M-44.7,28.0L-43.1,30.5L-41.4,33.1" stroke="#5802a3"/><path d="M-41.4,33.1L-39.6,35.5L-37.7,37.8" stroke="#5d01a4"/><path d="M-37.7,37.8L-35.7,40.1L-33.5,42.2" stroke="#6201a6"/><path d="M-33.5,42.2L-31.3,44.2L-29.0,46.2L-26.5,48.0L-24.0,49.7" stroke="#6700a7"/><path d="M-24.0,49.7L-21.5,51.3L-18.8,52.7" stroke="#6b01a8"/><path d="M-18.8,52.7L-16.1,54.0L-13.3,55.2L-10.5,56.3" stroke="#6700a7"/><path d="M-10.5,56.3L-7.6,57.2L-4.7,58.0L-1.7,58.7" stroke="#6201a6"/><path d="M-1.7,58.7L1.3,59.2" stroke="#5d01a4" class="e"/><path d="M1.3,59.2L4.3,59.5L7.3,59.8" stroke="#5802a3" class="e"/><path d="M7.3,59.8L10.3,59.8" stroke="#5302a2" class="e"/></g>
<use href="#grid"/><circle r="0.9" fill="#222"/>
<use href="#oval"/>
<g font-size="14">
<text x="-12.2" y="-59.09">-60</text>
<text x="-12.2" y="-37.41">-70</text>
<text x="-12.2" y="-15.73">-80</text>
<text x="66.2" y="-35.1">120</text><text x="67.5" y="45.9">60</text>
<text x="-68.7" y="-35.1" text-anchor="end">240</text><text x="-66.9" y="45.9" text-anchor="end">300</text>
</g>
<g font-size="16.15" text-anchor="middle"><text x="0" y="-98.6">jup.7038.02</text><text x="0" y="-81.7">2017-03-17 12:11 UT</text></g>
</g>
<g transform="translate(299.40,319.75)">
<g fill="none" stroke-width="2.60" stroke-linejoin="round" stroke-linecap="round"><path d="M-11.4,8.2L-9.0,9.8" stroke="#e3685f"/><path d="M-9.0,9.8L-6.4,11.1" stroke="#f38749"/><path d="M-6.4,11.1L-3.7,11.9" stroke="#f8973f"/><path d="M-3.7,11.9L-0.9,12.4" stroke="#fa9f3a"/><path d="M-0.9,12.4L2.0,12.5" stroke="#f8973f"/><path d="M2.0,12.5L4.8,12.1" stroke="#e97357"/><path d="M4.8,12.1L7.6,11.4" stroke="#ca457a"/><path d="M-18.4,7.0L-16.5,9.2" stroke="#e3685f"/><path d="M-16.5,9.2L-14.4,11.2" stroke="#f38749"/><path d="M-14.4,11.2L-12.0,12.9" stroke="#f99b3d"/><path d="M-12.0,12.9L-9.5,14.3" stroke="#fba338"/><path d="M-9.5,14.3L-6.9,15.4" stroke="#fcb131"/><path d="M-6.9,15.4L-4.1,16.2L-1.2,16.6" stroke="#fcb62f"/><path d="M-1.2,16.6L1.7,16.7" stroke="#fcb131"/><path d="M1.7,16.7L4.6,16.4" stroke="#f99b3d"/><path d="M4.6,16.4L7.4,15.8" stroke="#ef7f4f"/><path d="M7.4,15.8L10.1,14.9" stroke="#d24f72"/><path d="M10.1,14.9L12.7,13.7" stroke="#b6308b"/><path d="M-24.2,5.0L-22.7,7.6" stroke="#d24f72"/><path d="M-22.7,7.6L-20.9,10.1" stroke="#e56c5c"/><path d="M-20.9,10.1L-18.9,12.4" stroke="#f48b47"/><path d="M-18.9,12.4L-16.6,14.4" stroke="#f8973f"/><path d="M-16.6,14.4L-14.2,16.2" stroke="#fa9f3a"/><path d="M-14.2,16.2L-11.5,17.7" stroke="#fcac33"/><path d="M-11.5,17.7L-8.7,18.9" stroke="#fcb62f"/><path d="M-8.7,18.9L-5.8,19.8L-2.8,20.4L0.3,20.6" stroke="#fcbb2d"/><path d="M0.3,20.6L3.3,20.6" stroke="#fcb131"/><path d="M3.3,20.6L6.4,20.1" stroke="#f8973f"/><path d="M6.4,20.1L9.3,19.4" stroke="#ef7f4f"/><path d="M9.3,19.4L12.2,18.3" stroke="#d95a6a"/><path d="M12.2,18.3L14.9,17.0" stroke="#ba3388"/><path d="M14.9,17.0L17.5,15.3" stroke="#a31e98"/><path d="M-29.1,3.0L-28.0,5.8" stroke="#b32c8e"/><path d="M-28.0,5.8L-26.6,8.4" stroke="#cf4c74"/><path d="M-26.6,8.4L-25.0,10.9" stroke="#e3685f"/><path d="M-25.0,10.9L-23.2,13.2" stroke="#f1834c"/><path d="M-23.2,13.2L-21.2,15.4" stroke="#f48b47"/><path d="M-21.2,15.4L-19.0,17.3" stroke="#f69342"/><path d="M-19.0,17.3L-16.6,19.1" stroke="#fa9f3a"/><path d="M-16.6,19.1L-14.1,20.6" stroke="#fca835"/><path d="M-14.1,20.6L-11.4,21.9" stroke="#fcac33"/><path d="M-11.4,21.9L-8.6,22.9" stroke="#fcb62f"/><path d="M-8.6,22.9L-5.8,23.6" stroke="#fcc02b"/><path d="M-5.8,23.6L-2.9,24.1" stroke="#fcbb2d"/><path d="M-2.9,24.1L0.1,24.4" stroke="#fcb62f"/><path d="M0.1,24.4L3.0,24.3" stroke="#fcac33"/><path d="M3.0,24.3L6.0,24.0" stroke="#f8973f"/><path d="M6.0,24.0L8.9,23.4" stroke="#f1834c"/><path d="M8.9,23.4L11.7,22.5" stroke="#e56c5c"/><path d="M11.7,22.5L14.4,21.4" stroke="#d24f72"/><path d="M14.4,21.4L17.0,20.0" stroke="#b6308b"/><path d="M17.0,20.0L19.5,18.4" stroke="#9f1b9a"/><path d="M19.5,18.4L21.8,16.6" stroke="#8b0ba4"/><path d="M-33.2,1.4L-32.4,4.3" stroke="#8f0da4"/><path d="M-32.4,4.3L-31.3,7.0" stroke="#b02991"/><path d="M-31.3,7.0L-29.9,9.6" stroke="#ca457a"/><path d="M-29.9,9.6L-28.4,12.2" stroke="#dc5d67"/><path d="M-28.4,12.2L-26.6,14.6" stroke="#e56c5c"/><path d="M-26.6,14.6L-24.7,16.8" stroke="#eb7754"/><path d="M-24.7,16.8L-22.6,18.9" stroke="#f1834c"/><path d="M-22.6,18.9L-20.3,20.7" stroke="#f58f44"/><path d="M-20.3,20.7L-17.9,22.4" stroke="#f99b3d"/><path d="M-17.9,22.4L-15.3,23.9" stroke="#fba338"/><path d="M-15.3,23.9L-12.6,25.2" stroke="#fca835"/><path d="M-12.6,25.2L-9.8,26.2" stroke="#fcb131"/><path d="M-9.8,26.2L-7.0,27.0" stroke="#fcb62f"/><path d="M-7.0,27.0L-4.1,27.5" stroke="#fcb131"/><path d="M-4.1,27.5L-1.1,27.8" stroke="#fcac33"/><path d="M-1.1,27.8L1.8,27.9" stroke="#fca835"/><path d="M1.8,27.9L4.8,27.7" stroke="#fa9f3a"/><path d="M4.8,27.7L7.7,27.2" stroke="#f38749"/><path d="M7.7,27.2L10.6,26.5" stroke="#e97357"/><path d="M10.6,26.5L13.4,25.6" stroke="#dc5d67"/><path d="M13.4,25.6L16.2,24.5" stroke="#ca457a"/><path d="M16.2,24.5L18.8,23.1" stroke="#b32c8e"/><path d="M18.8,23.1L21.3,21.5" stroke="#97149f"/><path d="M21.3,21.5L23.6,19.7" stroke="#860aa5"/><path d="M23.6,19.7L25.8,17.7" stroke="#7404a7"/><path d="M-36.9,0.2L-36.2,3.1" stroke="#7905a6" class="e"/><path d="M-36.2,3.1L-35.2,6.0" stroke="#9310a2" class="e"/><path d="M-35.2,6.0L-34.1,8.8" stroke="#ac2593" class="e"/><path d="M-34.1,8.8L-32.7,11.5" stroke="#c03a83"/><path d="M-32.7,11.5L-31.1,14.1" stroke="#cf4c74"/><path d="M-31.1,14.1L-29.3,16.5" stroke="#d7566d"/><path d="M-29.3,16.5L-27.3,18.8" stroke="#e16462"/><path d="M-27.3,18.8L-25.2,21.0" stroke="#e7705a"/><path d="M-25.2,21.0L-22.8,22.9" stroke="#ef7f4f"/><path d="M-22.8,22.9L-20.4,24.7" stroke="#f58f44"/><path d="M-20.4,24.7L-17.8,26.3" stroke="#f8973f"/><path d="M-17.8,26.3L-15.1,27.7" stroke="#f99b3d"/><path d="M-15.1,27.7L-12.3,28.8" stroke="#fba338"/><path d="M-12.3,28.8L-9.4,29.7L-6.4,30.4" stroke="#fcac33"/><path d="M-6.4,30.4L-3.4,30.9" stroke="#fca835"/><path d="M-3.4,30.9L-0.4,31.1" stroke="#fa9f3a"/><path d="M-0.4,31.1L2.6,31.1" stroke="#f99b3d"/><path d="M2.6,31.1L5.7,30.9" stroke="#f69342"/><path d="M5.7,30.9L8.6,30.4" stroke="#ed7b51"/><path d="M8.6,30.4L11.6,29.7" stroke="#e16462"/><path d="M11.6,29.7L14.5,28.7" stroke="#d24f72"/><path d="M14.5,28.7L17.3,27.6" stroke="#c03a83"/><path d="M17.3,27.6L20.0,26.2" stroke="#ac2593"/><path d="M20.0,26.2L22.6,24.6" stroke="#9310a2"/><path d="M22.6,24.6L25.0,22.8" stroke="#7d07a6" class="e"/><path d="M25.0,22.8L27.3,20.8" stroke="#7002a7" class="e"/><path d="M27.3,20.8L29.5,18.7" stroke="#6201a6" class="e"/><path d="M-40.2,-0.7L-39.6,2.2" stroke="#6201a6" class="e"/><path d="M-39.6,2.2L-38.8,5.0" stroke="#7905a6" class="e"/><path d="M-38.8,5.0L-37.8,7.8" stroke="#8b0ba4" class="e"/><path d="M-37.8,7.8L-36.7,10.5" stroke="#9b179d"/><path d="M-36.7,10.5L-35.3,13.2" stroke="#ac2593"/><path d="M-35.3,13.2L-33.7,15.7" stroke="#ba3388"/><path d="M-33.7,15.7L-32.0,18.1" stroke="#c7417d"/><path d="M-32.0,18.1L-30.1,20.4" stroke="#cf4c74"/><path d="M-30.1,20.4L-28.0,22.5" stroke="#d95a6a"/><path d="M-28.0,22.5L-25.8,24.5" stroke="#e16462"/><path d="M-25.8,24.5L-23.5,26.3" stroke="#e97357"/><path d="M-23.5,26.3L-21.0,28.0" stroke="#ef7f4f"/><path d="M-21.0,28.0L-18.4,29.5" stroke="#f38749"/><path d="M-18.4,29.5L-15.8,30.7" stroke="#f58f44"/><path d="M-15.8,30.7L-13.0,31.8" stroke="#f69342"/><path d="M-13.0,31.8L-10.2,32.7L-7.3,33.4" stroke="#f99b3d"/><path d="M-7.3,33.4L-4.4,33.9" stroke="#f8973f"/><path d="M-4.4,33.9L-1.4,34.2" stroke="#f69342"/><path d="M-1.4,34.2L1.6,34.3" stroke="#f48b47"/><path d="M1.6,34.3L4.5,34.1" stroke="#f38749"/><path d="M4.5,34.1L7.5,33.8" stroke="#e97357"/><path d="M7.5,33.8L10.4,33.2" stroke="#de6165"/><path d="M10.4,33.2L13.2,32.4" stroke="#cf4c74"/><path d="M13.2,32.4L16.0,31.5" stroke="#c03a83"/><path d="M16.0,31.5L18.8,30.3" stroke="#ac2593"/><path d="M18.8,30.3L21.4,28.9" stroke="#9b179d"/><path d="M21.4,28.9L23.9,27.4" stroke="#860aa5"/><path d="M23.9,27.4L26.4,25.7" stroke="#7404a7"/><path d="M26.4,25.7L28.7,23.8" stroke="#6700a7" class="e"/><path d="M28.7,23.8L30.8,21.7" stroke="#5d01a4" class="e"/><path d="M30.8,21.7L32.8,19.6" stroke="#5302a2" class="e"/><path d="M-42.9,-1.3L-42.3,1.7" stroke="#5802a3" class="e"/><path d="M-42.3,1.7L-41.7,4.6" stroke="#6700a7" class="e"/><path d="M-41.7,4.6L-40.8,7.5" stroke="#7404a7" class="e"/><path d="M-40.8,7.5L-39.8,10.4" stroke="#8208a5"/><path d="M-39.8,10.4L-38.5,13.2" stroke="#8f0da4"/><path d="M-38.5,13.2L-37.0,15.8" stroke="#9b179d"/><path d="M-37.0,15.8L-35.4,18.4" stroke="#a72296"/><path d="M-35.4,18.4L-33.5,20.8" stroke="#b6308b"/><path d="M-33.5,20.8L-31.5,23.1" stroke="#c03a83"/><path d="M-31.5,23.1L-29.4,25.3" stroke="#cd4877"/><path d="M-29.4,25.3L-27.0,27.3" stroke="#d4536f"/><path d="M-27.0,27.3L-24.6,29.1" stroke="#de6165"/><path d="M-24.6,29.1L-22.0,30.8" stroke="#e3685f"/><path d="M-22.0,30.8L-19.4,32.3" stroke="#e7705a"/><path d="M-19.4,32.3L-16.6,33.6" stroke="#e97357"/><path d="M-16.6,33.6L-13.8,34.7" stroke="#ed7b51"/><path d="M-13.8,34.7L-10.9,35.6L-7.9,36.3" stroke="#f1834c"/><path d="M-7.9,36.3L-4.9,36.8" stroke="#ed7b51"/><path d="M-4.9,36.8L-1.8,37.1" stroke="#e97357"/><path d="M-1.8,37.1L1.2,37.2" stroke="#e7705a"/><path d="M1.2,37.2L4.3,37.1" stroke="#e3685f"/><path d="M4.3,37.1L7.3,36.7" stroke="#dc5d67"/><path d="M7.3,36.7L10.3,36.2" stroke="#cf4c74"/><path d="M10.3,36.2L13.3,35.5" stroke="#c03a83"/><path d="M13.3,35.5L16.2,34.5" stroke="#b02991"/><path d="M16.2,34.5L19.0,33.4" stroke="#9b179d"/><path d="M19.0,33.4L21.7,32.0" stroke="#8b0ba4"/><path d="M21.7,32.0L24.4,30.5" stroke="#7d07a6"/><path d="M24.4,30.5L26.9,28.7" stroke="#7002a7"/><path d="M26.9,28.7L29.2,26.8" stroke="#6201a6"/><path d="M29.2,26.8L31.5,24.8" stroke="#5802a3" class="e"/><path d="M31.5,24.8L33.5,22.6" stroke="#5302a2" class="e"/><path d="M33.5,22.6L35.5,20.3" stroke="#4e03a1" class="e"/><path d="M-45.3,-1.7L-44.9,1.2" stroke="#5302a2" class="e"/><path d="M-44.9,1.2L-44.3,4.2" stroke="#5d01a4" class="e"/><path d="M-44.3,4.2L-43.6,7.1" stroke="#6700a7" class="e"/><path d="M-43.6,7.1L-42.7,9.9" stroke="#7002a7"/><path d="M-42.7,9.9L-41.6,12.7" stroke="#7905a6"/><path d="M-41.6,12.7L-40.3,15.5" stroke="#8208a5"/><path d="M-40.3,15.5L-38.9,18.1" stroke="#8b0ba4"/><path d="M-38.9,18.1L-37.2,20.6" stroke="#97149f"/><path d="M-37.2,20.6L-35.3,23.0" stroke="#a31e98"/><path d="M-35.3,23.0L-33.3,25.3" stroke="#ac2593"/><path d="M-33.3,25.3L-31.1,27.4" stroke="#b6308b"/><path d="M-31.1,27.4L-28.8,29.4" stroke="#c03a83"/><path d="M-28.8,29.4L-26.4,31.2" stroke="#c7417d"/><path d="M-26.4,31.2L-23.9,32.9" stroke="#cd4877"/><path d="M-23.9,32.9L-21.3,34.4" stroke="#d24f72"/><path d="M-21.3,34.4L-18.5,35.7" stroke="#d4536f"/><path d="M-18.5,35.7L-15.8,36.9" stroke="#d7566d"/><path d="M-15.8,36.9L-12.9,37.8" stroke="#d95a6a"/><path d="M-12.9,37.8L-10.0,38.6" stroke="#dc5d67"/><path d="M-10.0,38.6L-7.0,39.2" stroke="#d95a6a"/><path d="M-7.0,39.2L-4.0,39.7" stroke="#d7566d"/><path d="M-4.0,39.7L-1.0,39.9" stroke="#d4536f"/><path d="M-1.0,39.9L2.0,39.9" stroke="#d24f72"/><path d="M2.0,39.9L5.1,39.7" stroke="#cd4877"/><path d="M5.1,39.7L8.1,39.4" stroke="#c7417d"/><path d="M8.1,39.4L11.1,38.8" stroke="#ba3388"/><path d="M11.1,38.8L14.0,38.1" stroke="#ac2593"/><path d="M14.0,38.1L16.9,37.2" stroke="#9b179d"/><path d="M16.9,37.2L19.7,36.1" stroke="#8b0ba4"/><path d="M19.7,36.1L22.4,34.8" stroke="#7905a6"/><path d="M22.4,34.8L25.0,33.2" stroke="#7002a7"/><path d="M25.0,33.2L27.5,31.5" stroke="#6700a7"/><path d="M27.5,31.5L29.9,29.6" stroke="#5d01a4"/><path d="M29.9,29.6L32.1,27.6" stroke="#5302a2"/><path d="M32.1,27.6L34.2,25.5" stroke="#5302a2" class="e"/><path d="M34.2,25.5L36.1,23.2" stroke="#4e03a1" class="e"/><path d="M36.1,23.2L38.0,20.9" stroke="#49039f" class="e"/><path d="M-43.2,12.0L-42.0,14.9" stroke="#7905a6"/><path d="M-42.0,14.9L-40.6,17.6" stroke="#8208a5"/><path d="M-40.6,17.6L-39.0,20.3" stroke="#8b0ba4"/><path d="M-39.0,20.3L-37.2,22.8" stroke="#97149f"/><path d="M-37.2,22.8L-35.2,25.1" stroke="#9f1b9a"/><path d="M-35.2,25.1L-33.0,27.4" stroke="#ac2593"/><path d="M-33.0,27.4L-30.7,29.5" stroke="#b32c8e"/><path d="M-30.7,29.5L-28.3,31.4" stroke="#bd3785"/><path d="M-28.3,31.4L-25.8,33.2" stroke="#c33e80"/><path d="M-25.8,33.2L-23.1,34.8" stroke="#c7417d"/><path d="M-23.1,34.8L-20.4,36.3" stroke="#ca457a"/><path d="M-20.4,36.3L-17.6,37.5" stroke="#cd4877"/><path d="M-17.6,37.5L-14.6,38.6" stroke="#cf4c74"/><path d="M-14.6,38.6L-11.7,39.5L-8.7,40.2" stroke="#d24f72"/><path d="M-8.7,40.2L-5.6,40.8" stroke="#cf4c74"/><path d="M-5.6,40.8L-2.5,41.1" stroke="#cd4877"/><path d="M-2.5,41.1L0.6,41.2" stroke="#ca457a"/><path d="M0.6,41.2L3.7,41.1" stroke="#c7417d"/><path d="M3.7,41.1L6.8,40.9" stroke="#c33e80"/><path d="M6.8,40.9L9.9,40.4" stroke="#ba3388"/><path d="M9.9,40.4L12.9,39.7" stroke="#ac2593"/><path d="M12.9,39.7L15.9,38.9" stroke="#9b179d"/><path d="M15.9,38.9L18.8,37.8" stroke="#8f0da4"/><path d="M18.8,37.8L21.6,36.6" stroke="#7d07a6"/><path d="M21.6,36.6L24.4,35.1" stroke="#7002a7"/><path d="M24.4,35.1L27.0,33.5" stroke="#6700a7"/><path d="M27.0,33.5L29.4,31.6" stroke="#6201a6"/><path d="M-47.7,-2.0L-47.3,1.0" stroke="#4e03a1" class="e"/><path d="M-47.3,1.0L-46.8,4.0" stroke="#5302a2" class="e"/><path d="M-46.8,4.0L-46.1,6.9" stroke="#5d01a4" class="e"/><path d="M-46.1,6.9L-45.3,9.8" stroke="#6201a6" class="e"/><path d="M-45.3,9.8L-44.3,12.7" stroke="#6b01a8"/><path d="M-44.3,12.7L-43.1,15.5" stroke="#7404a7"/><path d="M-43.1,15.5L-41.8,18.3" stroke="#7d07a6"/><path d="M-41.8,18.3L-40.2,20.9" stroke="#860aa5"/><path d="M-40.2,20.9L-38.3,23.4" stroke="#8f0da4"/><path d="M-38.3,23.4L-36.4,25.7" stroke="#97149f"/><path d="M-36.4,25.7L-34.3,27.9" stroke="#9f1b9a"/><path d="M-34.3,27.9L-32.0,30.0" stroke="#a72296"/><path d="M-32.0,30.0L-29.7,32.0" stroke="#b02991"/><path d="M-29.7,32.0L-27.2,33.8" stroke="#ba3388"/><path d="M-27.2,33.8L-24.6,35.5" stroke="#bd3785"/><path d="M-24.6,35.5L-21.9,36.9" stroke="#c03a83"/><path d="M-21.9,36.9L-19.1,38.3" stroke="#c33e80"/><path d="M-19.1,38.3L-16.3,39.4" stroke="#c7417d"/><path d="M-16.3,39.4L-13.4,40.4" stroke="#ca457a"/><path d="M-13.4,40.4L-10.4,41.2" stroke="#cd4877"/><path d="M-10.4,41.2L-7.4,41.8" stroke="#ca457a"/><path d="M-7.4,41.8L-4.4,42.2" stroke="#c7417d"/><path d="M-4.4,42.2L-1.3,42.5" stroke="#c33e80"/><path d="M-1.3,42.5L1.8,42.5" stroke="#c03a83"/><path d="M1.8,42.5L4.8,42.4" stroke="#bd3785"/><path d="M4.8,42.4L7.9,42.0" stroke="#b6308b"/><path d="M7.9,42.0L10.9,41.5" stroke="#ac2593"/><path d="M10.9,41.5L13.9,40.8" stroke="#9f1b9a"/><path d="M13.9,40.8L16.8,39.9" stroke="#9310a2"/><path d="M16.8,39.9L19.7,38.9" stroke="#860aa5"/><path d="M19.7,38.9L22.5,37.6" stroke="#7905a6"/><path d="M22.5,37.6L25.2,36.2" stroke="#6b01a8"/><path d="M25.2,36.2L27.8,34.5" stroke="#6700a7"/><path d="M27.8,34.5L30.2,32.6" stroke="#5d01a4"/><path d="M30.2,32.6L32.5,30.6" stroke="#5802a3"/><path d="M32.5,30.6L34.7,28.5L36.7,26.3" stroke="#4e03a1" class="e"/><path d="M36.7,26.3L38.6,23.9" stroke="#49039f" class="e"/><path d="M38.6,23.9L40.5,21.6" stroke="#44049e" class="e"/><path d="M-44.2,16.1L-42.8,18.8" stroke="#7404a7"/><path d="M-42.8,18.8L-41.3,21.4" stroke="#7d07a6"/><path d="M-41.3,21.4L-39.5,23.9" stroke="#860aa5"/><path d="M-39.5,23.9L-37.5,26.2" stroke="#8f0da4"/><path d="M-37.5,26.2L-35.5,28.5" stroke="#97149f"/><path d="M-35.5,28.5L-33.3,30.6" stroke="#9b179d"/><path d="M-33.3,30.6L-31.0,32.5" stroke="#a31e98"/><path d="M-31.0,32.5L-28.5,34.3" stroke="#ac2593"/><path d="M-28.5,34.3L-26.0,36.0" stroke="#b02991"/><path d="M-26.0,36.0L-23.4,37.5" stroke="#b32c8e"/><path d="M-23.4,37.5L-20.7,38.9" stroke="#b6308b"/><path d="M-20.7,38.9L-17.9,40.1" stroke="#ba3388"/><path d="M-17.9,40.1L-15.0,41.2" stroke="#bd3785"/><path d="M-15.0,41.2L-12.1,42.0L-9.1,42.7" stroke="#c03a83"/><path d="M-9.1,42.7L-6.1,43.2" stroke="#bd3785"/><path d="M-6.1,43.2L-3.1,43.6" stroke="#ba3388"/><path d="M-3.1,43.6L-0.1,43.7" stroke="#b6308b"/><path d="M-0.1,43.7L3.0,43.7" stroke="#b32c8e"/><path d="M3.0,43.7L6.0,43.5" stroke="#b02991"/><path d="M6.0,43.5L9.0,43.1" stroke="#ac2593"/><path d="M9.0,43.1L12.0,42.5" stroke="#9f1b9a"/><path d="M12.0,42.5L14.9,41.8" stroke="#9310a2"/><path d="M14.9,41.8L17.8,40.9" stroke="#8b0ba4"/><path d="M17.8,40.9L20.7,39.8" stroke="#7d07a6"/><path d="M20.7,39.8L23.4,38.5" stroke="#7002a7"/><path d="M23.4,38.5L26.1,37.1" stroke="#6700a7"/><path d="M26.1,37.1L28.6,35.4" stroke="#6201a6"/><path d="M-50.1,-2.1L-49.7,0.9" stroke="#49039f" class="e"/><path d="M-49.7,0.9L-49.2,3.9" stroke="#4e03a1" class="e"/><path d="M-49.2,3.9L-48.6,6.8" stroke="#5302a2" class="e"/><path d="M-48.6,6.8L-47.8,9.8" stroke="#5d01a4" class="e"/><path d="M-47.8,9.8L-46.9,12.7" stroke="#6201a6"/><path d="M-46.9,12.7L-45.8,15.6" stroke="#6700a7"/><path d="M-45.8,15.6L-44.4,18.4" stroke="#6b01a8"/><path d="M-44.4,18.4L-42.9,21.1" stroke="#7404a7"/><path d="M-42.9,21.1L-41.2,23.6" stroke="#7905a6"/><path d="M-41.2,23.6L-39.3,26.1" stroke="#8208a5"/><path d="M-39.3,26.1L-37.2,28.4" stroke="#8b0ba4"/><path d="M-37.2,28.4L-35.0,30.6" stroke="#8f0da4"/><path d="M-35.0,30.6L-32.7,32.6" stroke="#97149f"/><path d="M-32.7,32.6L-30.3,34.6" stroke="#9f1b9a"/><path d="M-30.3,34.6L-27.8,36.3" stroke="#a31e98"/><path d="M-27.8,36.3L-25.1,38.0" stroke="#a72296"/><path d="M-25.1,38.0L-22.4,39.4" stroke="#ac2593"/><path d="M-22.4,39.4L-19.6,40.7L-16.7,41.9" stroke="#b02991"/><path d="M-16.7,41.9L-13.8,42.8" stroke="#b32c8e"/><path d="M-13.8,42.8L-10.8,43.6" stroke="#b6308b"/><path d="M-10.8,43.6L-7.7,44.2" stroke="#b32c8e"/><path d="M-7.7,44.2L-4.7,44.6L-1.6,44.9" stroke="#b02991"/><path d="M-1.6,44.9L1.5,44.9" stroke="#ac2593"/><path d="M1.5,44.9L4.6,44.8" stroke="#a72296"/><path d="M4.6,44.8L7.7,44.5" stroke="#a31e98"/><path d="M7.7,44.5L10.7,44.0" stroke="#9b179d"/><path d="M10.7,44.0L13.8,43.4" stroke="#8f0da4"/><path d="M13.8,43.4L16.7,42.5" stroke="#860aa5"/><path d="M16.7,42.5L19.7,41.5" stroke="#7d07a6"/><path d="M19.7,41.5L22.5,40.3" stroke="#7002a7"/><path d="M22.5,40.3L25.3,38.9" stroke="#6700a7"/><path d="M25.3,38.9L27.9,37.3" stroke="#5d01a4"/><path d="M27.9,37.3L30.4,35.5" stroke="#5802a3"/><path d="M30.4,35.5L32.8,33.6" stroke="#5302a2"/><path d="M32.8,33.6L35.1,31.5" stroke="#4e03a1"/><path d="M35.1,31.5L37.2,29.3L39.2,27.0" stroke="#49039f" class="e"/><path d="M39.2,27.0L41.1,24.6L42.9,22.2" stroke="#44049e" class="e"/><path d="M-48.5,11.6L-47.5,14.5" stroke="#6201a6"/><path d="M-47.5,14.5L-46.2,17.3" stroke="#6700a7"/><path d="M-46.2,17.3L-44.8,20.1" stroke="#6b01a8"/><path d="M-44.8,20.1L-43.2,22.7" stroke="#7404a7"/><path d="M-43.2,22.7L-41.4,25.2" stroke="#7905a6"/><path d="M-41.4,25.2L-39.5,27.6" stroke="#8208a5"/><path d="M-39.5,27.6L-37.4,29.8" stroke="#860aa5"/><path d="M-37.4,29.8L-35.2,32.0" stroke="#8f0da4"/><path d="M-35.2,32.0L-32.9,34.0" stroke="#9310a2"/><path d="M-32.9,34.0L-30.4,35.9" stroke="#9b179d"/><path d="M-30.4,35.9L-27.9,37.6" stroke="#9f1b9a"/><path d="M-27.9,37.6L-25.3,39.2L-22.5,40.6" stroke="#a31e98"/><path d="M-22.5,40.6L-19.7,41.9" stroke="#a72296"/><path d="M-19.7,41.9L-16.8,43.0L-13.9,44.0" stroke="#ac2593"/><path d="M-13.9,44.0L-10.9,44.7" stroke="#b02991"/><path d="M-10.9,44.7L-7.9,45.3L-4.9,45.8" stroke="#ac2593"/><path d="M-4.9,45.8L-1.8,46.0" stroke="#a72296"/><path d="M-1.8,46.0L1.3,46.1" stroke="#a31e98"/><path d="M1.3,46.1L4.4,46.0L7.4,45.7" stroke="#9f1b9a"/><path d="M7.4,45.7L10.5,45.2" stroke="#97149f"/><path d="M10.5,45.2L13.5,44.6" stroke="#8f0da4"/><path d="M13.5,44.6L16.5,43.8" stroke="#860aa5"/><path d="M16.5,43.8L19.4,42.8" stroke="#7905a6"/><path d="M19.4,42.8L22.2,41.7" stroke="#7002a7"/><path d="M22.2,41.7L25.0,40.4" stroke="#6700a7"/><path d="M25.0,40.4L27.7,38.8" stroke="#5d01a4"/><path d="M27.7,38.8L30.3,37.1" stroke="#5802a3"/><path d="M30.3,37.1L32.7,35.3" stroke="#5302a2"/><path d="M32.7,35.3L35.0,33.2" stroke="#4e03a1"/><path d="M-52.5,-2.2L-52.1,0.8" stroke="#44049e" class="e"/><path d="M-52.1,0.8L-51.6,3.7" stroke="#49039f" class="e"/><path d="M-51.6,3.7L-51.1,6.7" stroke="#4e03a1" class="e"/><path d="M-51.1,6.7L-50.3,9.6" stroke="#5302a2" class="e"/><path d="M-50.3,9.6L-49.4,12.5" stroke="#5802a3"/><path d="M-49.4,12.5L-48.4,15.3" stroke="#5d01a4"/><path d="M-48.4,15.3L-47.2,18.1" stroke="#6201a6"/><path d="M-47.2,18.1L-45.8,20.7" stroke="#6700a7"/><path d="M-45.8,20.7L-44.2,23.3" stroke="#7002a7"/><path d="M-44.2,23.3L-42.4,25.8" stroke="#7404a7"/><path d="M-42.4,25.8L-40.5,28.2" stroke="#7905a6"/><path d="M-40.5,28.2L-38.5,30.4" stroke="#8208a5"/><path d="M-38.5,30.4L-36.3,32.5" stroke="#860aa5"/><path d="M-36.3,32.5L-34.0,34.5" stroke="#8f0da4"/><path d="M-34.0,34.5L-31.6,36.4" stroke="#9310a2"/><path d="M-31.6,36.4L-29.2,38.2" stroke="#97149f"/><path d="M-29.2,38.2L-26.6,39.8L-23.9,41.2" stroke="#9b179d"/><path d="M-23.9,41.2L-21.2,42.5" stroke="#9f1b9a"/><path d="M-21.2,42.5L-18.4,43.7L-15.5,44.7" stroke="#a31e98"/><path d="M-15.5,44.7L-12.6,45.5L-9.6,46.2" stroke="#a72296"/><path d="M-9.6,46.2L-6.6,46.7L-3.6,47.0" stroke="#a31e98"/><path d="M-3.6,47.0L-0.6,47.2" stroke="#9f1b9a"/><path d="M-0.6,47.2L2.5,47.2L5.5,47.0" stroke="#9b179d"/><path d="M5.5,47.0L8.5,46.7" stroke="#97149f"/><path d="M8.5,46.7L11.5,46.2" stroke="#8f0da4"/><path d="M11.5,46.2L14.5,45.5" stroke="#860aa5"/><path d="M14.5,45.5L17.4,44.7" stroke="#7d07a6"/><path d="M17.4,44.7L20.3,43.7" stroke="#7404a7"/><path d="M20.3,43.7L23.1,42.6" stroke="#6b01a8"/><path d="M23.1,42.6L25.8,41.2" stroke="#6201a6"/><path d="M25.8,41.2L28.5,39.7" stroke="#5d01a4"/><path d="M28.5,39.7L31.0,38.1" stroke="#5802a3"/><path d="M31.0,38.1L33.4,36.2" stroke="#5302a2"/><path d="M33.4,36.2L35.7,34.2" stroke="#4e03a1"/><path d="M35.7,34.2L37.8,32.1" stroke="#49039f"/><path d="M37.8,32.1L39.9,29.9" stroke="#49039f" class="e"/><path d="M39.9,29.9L41.8,27.6L43.6,25.3L45.3,22.8" stroke="#44049e" class="e"/><path d="M-49.2,16.2L-47.9,19.0" stroke="#5d01a4"/><path d="M-47.9,19.0L-46.5,21.7" stroke="#6700a7"/><path d="M-46.5,21.7L-44.9,24.3" stroke="#6b01a8"/><path d="M-44.9,24.3L-43.0,26.8" stroke="#7002a7"/><path d="M-43.0,26.8L-41.1,29.1" stroke="#7905a6"/><path d="M-41.1,29.1L-39.0,31.4" stroke="#7d07a6"/><path d="M-39.0,31.4L-36.8,33.5" stroke="#8208a5"/><path d="M-36.8,33.5L-34.5,35.6" stroke="#860aa5"/><path d="M-34.5,35.6L-32.0,37.5" stroke="#8f0da4"/><path d="M-32.0,37.5L-29.5,39.2L-26.9,40.8" stroke="#9310a2"/><path d="M-26.9,40.8L-24.2,42.3L-21.4,43.6" stroke="#97149f"/><path d="M-21.4,43.6L-18.5,44.8" stroke="#9b179d"/><path d="M-18.5,44.8L-15.6,45.8L-12.7,46.6L-9.7,47.3" stroke="#9f1b9a"/><path d="M-9.7,47.3L-6.6,47.8L-3.6,48.1" stroke="#9b179d"/><path d="M-3.6,48.1L-0.5,48.3L2.6,48.3" stroke="#97149f"/><path d="M2.6,48.3L5.6,48.1" stroke="#9310a2"/><path d="M5.6,48.1L8.7,47.8" stroke="#8f0da4"/><path d="M8.7,47.8L11.7,47.3" stroke="#8b0ba4"/><path d="M11.7,47.3L14.7,46.6" stroke="#8208a5"/><path d="M14.7,46.6L17.7,45.7" stroke="#7905a6"/><path d="M17.7,45.7L20.6,44.7" stroke="#7002a7"/><path d="M20.6,44.7L23.5,43.6" stroke="#6b01a8"/><path d="M23.5,43.6L26.2,42.3" stroke="#6201a6"/><path d="M26.2,42.3L28.9,40.7" stroke="#5802a3"/><path d="M28.9,40.7L31.5,39.0L33.9,37.2" stroke="#5302a2"/><path d="M-54.8,-2.1L-54.5,0.9" stroke="#44049e" class="e"/><path d="M-54.5,0.9L-54.0,3.8L-53.4,6.8" stroke="#49039f" class="e"/><path d="M-53.4,6.8L-52.7,9.7" stroke="#4e03a1" class="e"/><path d="M-52.7,9.7L-51.8,12.6" stroke="#5302a2"/><path d="M-51.8,12.6L-50.7,15.4L-49.5,18.2" stroke="#5802a3"/><path d="M-49.5,18.2L-48.2,20.9" stroke="#5d01a4"/><path d="M-48.2,20.9L-46.6,23.5" stroke="#6201a6"/><path d="M-46.6,23.5L-44.9,26.1" stroke="#6b01a8"/><path d="M-44.9,26.1L-43.1,28.5" stroke="#7002a7"/><path d="M-43.1,28.5L-41.1,30.8" stroke="#7404a7"/><path d="M-41.1,30.8L-39.0,33.0" stroke="#7905a6"/><path d="M-39.0,33.0L-36.8,35.0" stroke="#7d07a6"/><path d="M-36.8,35.0L-34.4,37.0" stroke="#8208a5"/><path d="M-34.4,37.0L-32.0,38.8" stroke="#860aa5"/><path d="M-32.0,38.8L-29.5,40.5" stroke="#8b0ba4"/><path d="M-29.5,40.5L-26.9,42.1L-24.2,43.5" stroke="#8f0da4"/><path d="M-24.2,43.5L-21.4,44.8L-18.6,45.9" stroke="#9310a2"/><path d="M-18.6,45.9L-15.7,46.9L-12.8,47.7L-9.8,48.3L-6.8,48.8" stroke="#97149f"/><path d="M-6.8,48.8L-3.8,49.2L-0.7,49.3" stroke="#9310a2"/><path d="M-0.7,49.3L2.3,49.4" stroke="#8f0da4"/><path d="M2.3,49.4L5.3,49.2L8.4,48.9" stroke="#8b0ba4"/><path d="M8.4,48.9L11.4,48.4" stroke="#860aa5"/><path d="M11.4,48.4L14.3,47.8" stroke="#7d07a6"/><path d="M14.3,47.8L17.3,47.0" stroke="#7905a6"/><path d="M17.3,47.0L20.2,46.0" stroke="#7002a7"/><path d="M20.2,46.0L23.0,44.9" stroke="#6700a7"/><path d="M23.0,44.9L25.8,43.7" stroke="#6201a6"/><path d="M25.8,43.7L28.5,42.3" stroke="#5802a3"/><path d="M28.5,42.3L31.0,40.7L33.5,38.9" stroke="#5302a2"/><path d="M33.5,38.9L35.9,37.0" stroke="#4e03a1"/><path d="M35.9,37.0L38.2,35.0L40.3,32.9" stroke="#49039f"/><path d="M40.3,32.9L42.3,30.7L44.2,28.3L46.0,26.0" stroke="#44049e" class="e"/><path d="M46.0,26.0L47.7,23.5" stroke="#3f049c" class="e"/><path d="M-49.3,21.0L-47.8,23.6" stroke="#5d01a4"/><path d="M-47.8,23.6L-46.1,26.1" stroke="#6201a6"/><path d="M-46.1,26.1L-44.3,28.6" stroke="#6b01a8"/><path d="M-44.3,28.6L-42.3,30.9" stroke="#7002a7"/><path d="M-42.3,30.9L-40.2,33.1" stroke="#7404a7"/><path d="M-40.2,33.1L-38.1,35.2" stroke="#7905a6"/><path d="M-38.1,35.2L-35.8,37.2" stroke="#7d07a6"/><path d="M-35.8,37.2L-33.4,39.1" stroke="#8208a5"/><path d="M-33.4,39.1L-30.9,40.8L-28.3,42.4" stroke="#860aa5"/><path d="M-28.3,42.4L-25.6,43.9L-22.9,45.2L-20.1,46.4" stroke="#8b0ba4"/><path d="M-20.1,46.4L-17.2,47.4L-14.3,48.3" stroke="#8f0da4"/><path d="M-14.3,48.3L-11.4,49.0" stroke="#9310a2"/><path d="M-11.4,49.0L-8.4,49.6L-5.4,50.0" stroke="#8f0da4"/><path d="M-5.4,50.0L-2.3,50.3L0.7,50.4" stroke="#8b0ba4"/><path d="M0.7,50.4L3.7,50.3L6.8,50.1" stroke="#860aa5"/><path d="M6.8,50.1L9.8,49.7" stroke="#8208a5"/><path d="M9.8,49.7L12.8,49.2" stroke="#7d07a6"/><path d="M12.8,49.2L15.8,48.5" stroke="#7404a7"/><path d="M15.8,48.5L18.7,47.6" stroke="#7002a7"/><path d="M18.7,47.6L21.5,46.6" stroke="#6b01a8"/><path d="M21.5,46.6L24.4,45.5" stroke="#6201a6"/><path d="M24.4,45.5L27.1,44.2" stroke="#5d01a4"/><path d="M27.1,44.2L29.8,42.7L32.3,41.1" stroke="#5302a2"/><path d="M-57.2,-1.9L-56.8,1.1L-56.3,4.0" stroke="#44049e" class="e"/><path d="M-56.3,4.0L-55.7,7.0L-54.9,9.9" stroke="#49039f" class="e"/><path d="M-54.9,9.9L-54.0,12.8L-53.0,15.6" stroke="#4e03a1"/><path d="M-53.0,15.6L-51.8,18.4L-50.4,21.1" stroke="#5302a2"/><path d="M-50.4,21.1L-48.9,23.7" stroke="#5802a3"/><path d="M-48.9,23.7L-47.2,26.3" stroke="#5d01a4"/><path d="M-47.2,26.3L-45.4,28.7" stroke="#6201a6"/><path d="M-45.4,28.7L-43.5,31.1" stroke="#6700a7"/><path d="M-43.5,31.1L-41.5,33.3" stroke="#6b01a8"/><path d="M-41.5,33.3L-39.3,35.4" stroke="#7002a7"/><path d="M-39.3,35.4L-37.0,37.5" stroke="#7404a7"/><path d="M-37.0,37.5L-34.7,39.4" stroke="#7905a6"/><path d="M-34.7,39.4L-32.2,41.1L-29.7,42.8" stroke="#7d07a6"/><path d="M-29.7,42.8L-27.0,44.3L-24.3,45.7" stroke="#8208a5"/><path d="M-24.3,45.7L-21.5,46.9L-18.7,48.0L-15.8,48.9" stroke="#860aa5"/><path d="M-15.8,48.9L-12.9,49.7L-9.9,50.4" stroke="#8b0ba4"/><path d="M-9.9,50.4L-6.9,50.9L-3.9,51.2" stroke="#860aa5"/><path d="M-3.9,51.2L-0.9,51.4L2.2,51.4" stroke="#8208a5"/><path d="M2.2,51.4L5.2,51.2L8.2,51.0" stroke="#7d07a6"/><path d="M8.2,51.0L11.2,50.5" stroke="#7905a6"/><path d="M11.2,50.5L14.2,49.9" stroke="#7404a7"/><path d="M14.2,49.9L17.1,49.1" stroke="#7002a7"/><path d="M17.1,49.1L20.0,48.2" stroke="#6700a7"/><path d="M20.0,48.2L22.9,47.2" stroke="#6201a6"/><path d="M22.9,47.2L25.7,46.0" stroke="#5d01a4"/><path d="M25.7,46.0L28.4,44.6" stroke="#5802a3"/><path d="M28.4,44.6L31.0,43.1" stroke="#5302a2"/><path d="M31.0,43.1L33.6,41.5L36.0,39.7" stroke="#4e03a1"/><path d="M36.0,39.7L38.4,37.8L40.6,35.8" stroke="#49039f"/><path d="M40.6,35.8L42.7,33.6" stroke="#44049e"/><path d="M42.7,33.6L44.8,31.4L46.7,29.0" stroke="#44049e" class="e"/><path d="M46.7,29.0L48.5,26.6L50.1,24.1" stroke="#3f049c" class="e"/><path d="M-53.9,16.1L-52.7,18.8" stroke="#4e03a1"/><path d="M-52.7,18.8L-51.3,21.5L-49.8,24.1" stroke="#5302a2"/><path d="M-49.8,24.1L-48.2,26.6" stroke="#5802a3"/><path d="M-48.2,26.6L-46.4,29.1" stroke="#5d01a4"/><path d="M-46.4,29.1L-44.5,31.4" stroke="#6201a6"/><path d="M-44.5,31.4L-42.5,33.6" stroke="#6700a7"/><path d="M-42.5,33.6L-40.4,35.8" stroke="#6b01a8"/><path d="M-40.4,35.8L-38.1,37.8L-35.8,39.7" stroke="#7002a7"/><path d="M-35.8,39.7L-33.4,41.5" stroke="#7404a7"/><path d="M-33.4,41.5L-30.9,43.2L-28.3,44.7L-25.6,46.1" stroke="#7905a6"/><path d="M-25.6,46.1L-22.9,47.4L-20.1,48.5L-17.3,49.5" stroke="#7d07a6"/><path d="M-17.3,49.5L-14.4,50.3L-11.5,51.0" stroke="#8208a5"/><path d="M-11.5,51.0L-8.5,51.6L-5.5,52.0L-2.5,52.2" stroke="#7d07a6"/><path d="M-2.5,52.2L0.5,52.3L3.5,52.3" stroke="#7905a6"/><path d="M3.5,52.3L6.5,52.1L9.5,51.7" stroke="#7404a7"/><path d="M9.5,51.7L12.4,51.2" stroke="#7002a7"/><path d="M12.4,51.2L15.4,50.6" stroke="#6b01a8"/><path d="M15.4,50.6L18.3,49.8" stroke="#6700a7"/><path d="M18.3,49.8L21.1,48.9" stroke="#6201a6"/><path d="M21.1,48.9L24.0,47.8" stroke="#5d01a4"/><path d="M24.0,47.8L26.7,46.5" stroke="#5802a3"/><path d="M26.7,46.5L29.4,45.2" stroke="#5302a2"/><path d="M29.4,45.2L32.0,43.7L34.5,42.0" stroke="#4e03a1"/><path d="M34.5,42.0L36.9,40.3L39.3,38.4" stroke="#49039f"/><path d="M-59.5,-1.6L-59.2,1.4" stroke="#3f049c" class="e"/><path d="M-59.2,1.4L-58.6,4.3L-58.0,7.3L-57.2,10.2" stroke="#44049e" class="e"/><path d="M-57.2,10.2L-56.2,13.1L-55.1,15.9L-53.9,18.6" stroke="#49039f"/><path d="M-53.9,18.6L-52.5,21.3L-51.0,24.0" stroke="#4e03a1"/><path d="M-51.0,24.0L-49.4,26.5" stroke="#5302a2"/><path d="M-49.4,26.5L-47.6,29.0" stroke="#5802a3"/><path d="M-47.6,29.0L-45.8,31.3L-43.8,33.6" stroke="#5d01a4"/><path d="M-43.8,33.6L-41.7,35.8" stroke="#6201a6"/><path d="M-41.7,35.8L-39.5,37.9" stroke="#6700a7"/><path d="M-39.5,37.9L-37.2,39.8" stroke="#6b01a8"/><path d="M-37.2,39.8L-34.8,41.7L-32.3,43.4" stroke="#7002a7"/><path d="M-32.3,43.4L-29.7,45.0L-27.1,46.4L-24.4,47.8L-21.6,48.9L-18.8,50.0" stroke="#7404a7"/><path d="M-18.8,50.0L-15.9,50.9L-13.0,51.7L-10.0,52.3" stroke="#7905a6"/><path d="M-10.0,52.3L-7.0,52.8L-4.0,53.1L-1.0,53.3" stroke="#7404a7"/><path d="M-1.0,53.3L2.0,53.3L5.1,53.2L8.1,52.9" stroke="#7002a7"/><path d="M8.1,52.9L11.1,52.5" stroke="#6b01a8"/><path d="M11.1,52.5L14.0,51.9L17.0,51.2" stroke="#6700a7"/><path d="M17.0,51.2L19.9,50.3" stroke="#6201a6"/><path d="M19.9,50.3L22.7,49.3" stroke="#5d01a4"/><path d="M22.7,49.3L25.5,48.1" stroke="#5802a3"/><path d="M25.5,48.1L28.2,46.9" stroke="#5302a2"/><path d="M28.2,46.9L30.9,45.4" stroke="#4e03a1"/><path d="M30.9,45.4L33.5,43.9L36.0,42.2L38.4,40.4" stroke="#49039f"/><path d="M38.4,40.4L40.8,38.5L43.0,36.5L45.1,34.3" stroke="#44049e"/><path d="M45.1,34.3L47.2,32.1L49.1,29.7L50.9,27.3L52.5,24.8" stroke="#3f049c" class="e"/></g>
<use href="#grid"/><circle r="0.9" fill="#222"/>
<use href="#oval"/>
<g font-size="14">
<text x="-12.2" y="-59.09">-60</text>
<text x="-12.2" y="-37.41">-70</text>
<text x="-12.2" y="-15.73">-80</text>
<text x="66.2" y="-35.1">120</text><text x="67.5" y="45.9">60</text>
<text x="-68.7" y="-35.1" text-anchor="end">240</text><text x="-66.9" y="45.9" text-anchor="end">300</text>
</g>
<g font-size="16.15" text-anchor="middle"><text x="0" y="-98.6">jup.7048.01</text><text x="0" y="-81.7">2017-03-17 13:49 UT</text></g>
</g>
<g transform="translate(507.55,319.75)">
<g fill="none" stroke-width="2.60" stroke-linejoin="round" stroke-linecap="round"><path d="M-11.5,7.7L-8.9,9.5" stroke="#e3685f"/><path d="M-8.9,9.5L-6.1,10.9" stroke="#f38749"/><path d="M-6.1,10.9L-3.2,11.9" stroke="#f8973f"/><path d="M-3.2,11.9L-0.1,12.3" stroke="#fa9f3a"/><path d="M-0.1,12.3L3.0,12.3" stroke="#f8973f"/><path d="M3.0,12.3L6.1,11.9" stroke="#e97357"/><path d="M6.1,11.9L9.1,10.9" stroke="#ca457a"/><path d="M-18.1,6.7L-16.2,9.0" stroke="#e3685f"/><path d="M-16.2,9.0L-13.9,11.1" stroke="#f38749"/><path d="M-13.9,11.1L-11.5,12.9" stroke="#f99b3d"/><path d="M-11.5,12.9L-8.8,14.3" stroke="#fba338"/><path d="M-8.8,14.3L-6.0,15.4" stroke="#fcb131"/><path d="M-6.0,15.4L-3.1,16.2L-0.1,16.6" stroke="#fcb62f"/><path d="M-0.1,16.6L3.0,16.6" stroke="#fcb131"/><path d="M3.0,16.6L6.0,16.2" stroke="#f99b3d"/><path d="M6.0,16.2L8.9,15.4" stroke="#ef7f4f"/><path d="M8.9,15.4L11.7,14.3" stroke="#d24f72"/><path d="M11.7,14.3L14.4,12.9" stroke="#b6308b"/><path d="M-23.8,5.0L-22.3,7.6" stroke="#d24f72"/><path d="M-22.3,7.6L-20.6,10.0" stroke="#e56c5c"/><path d="M-20.6,10.0L-18.6,12.2" stroke="#f48b47"/><path d="M-18.6,12.2L-16.4,14.2" stroke="#f69342"/><path d="M-16.4,14.2L-14.0,15.9" stroke="#fa9f3a"/><path d="M-14.0,15.9L-11.4,17.4" stroke="#fca835"/><path d="M-11.4,17.4L-8.7,18.7" stroke="#fcb131"/><path d="M-8.7,18.7L-5.9,19.6" stroke="#fcb62f"/><path d="M-5.9,19.6L-3.0,20.2" stroke="#fcc02b"/><path d="M-3.0,20.2L-0.0,20.5" stroke="#fcbb2d"/><path d="M-0.0,20.5L2.9,20.5" stroke="#fcb62f"/><path d="M2.9,20.5L5.9,20.2" stroke="#fca835"/><path d="M5.9,20.2L8.8,19.6" stroke="#f58f44"/><path d="M8.8,19.6L11.6,18.7" stroke="#ed7b51"/><path d="M11.6,18.7L14.4,17.5" stroke="#d4536f"/><path d="M14.4,17.5L16.9,16.0" stroke="#b6308b"/><path d="M16.9,16.0L19.3,14.2" stroke="#a31e98"/><path d="M-28.6,3.3L-27.4,6.1" stroke="#b32c8e"/><path d="M-27.4,6.1L-26.0,8.8" stroke="#cf4c74"/><path d="M-26.0,8.8L-24.3,11.3" stroke="#e3685f"/><path d="M-24.3,11.3L-22.4,13.6" stroke="#f1834c"/><path d="M-22.4,13.6L-20.3,15.8" stroke="#f48b47"/><path d="M-20.3,15.8L-17.9,17.8" stroke="#f69342"/><path d="M-17.9,17.8L-15.4,19.5" stroke="#fa9f3a"/><path d="M-15.4,19.5L-12.8,21.0" stroke="#fca835"/><path d="M-12.8,21.0L-10.0,22.2" stroke="#fcac33"/><path d="M-10.0,22.2L-7.1,23.1" stroke="#fcb62f"/><path d="M-7.1,23.1L-4.1,23.8" stroke="#fcc02b"/><path d="M-4.1,23.8L-1.1,24.2" stroke="#fcbb2d"/><path d="M-1.1,24.2L1.9,24.3" stroke="#fcb62f"/><path d="M1.9,24.3L4.9,24.1" stroke="#fcac33"/><path d="M4.9,24.1L7.9,23.6" stroke="#f8973f"/><path d="M7.9,23.6L10.9,22.9" stroke="#f1834c"/><path d="M10.9,22.9L13.7,21.9" stroke="#e56c5c"/><path d="M13.7,21.9L16.5,20.6" stroke="#d24f72"/><path d="M16.5,20.6L19.1,19.0" stroke="#b6308b"/><path d="M19.1,19.0L21.6,17.2" stroke="#9f1b9a"/><path d="M21.6,17.2L23.9,15.2" stroke="#8b0ba4"/><path d="M-32.8,1.9L-31.8,4.8" stroke="#8f0da4"/><path d="M-31.8,4.8L-30.6,7.5" stroke="#b02991"/><path d="M-30.6,7.5L-29.2,10.2" stroke="#ca457a"/><path d="M-29.2,10.2L-27.6,12.8" stroke="#dc5d67"/><path d="M-27.6,12.8L-25.7,15.2" stroke="#e56c5c"/><path d="M-25.7,15.2L-23.6,17.4" stroke="#eb7754"/><path d="M-23.6,17.4L-21.4,19.5" stroke="#f1834c"/><path d="M-21.4,19.5L-19.0,21.3" stroke="#f58f44"/><path d="M-19.0,21.3L-16.4,23.0" stroke="#f99b3d"/><path d="M-16.4,23.0L-13.8,24.4" stroke="#fba338"/><path d="M-13.8,24.4L-11.0,25.6" stroke="#fca835"/><path d="M-11.0,25.6L-8.1,26.5" stroke="#fcb131"/><path d="M-8.1,26.5L-5.1,27.2" stroke="#fcb62f"/><path d="M-5.1,27.2L-2.1,27.6" stroke="#fcb131"/><path d="M-2.1,27.6L0.9,27.8" stroke="#fcac33"/><path d="M0.9,27.8L4.0,27.7" stroke="#fca835"/><path d="M4.0,27.7L7.0,27.4" stroke="#fa9f3a"/><path d="M7.0,27.4L10.0,26.8" stroke="#f38749"/><path d="M10.0,26.8L12.9,25.9" stroke="#e97357"/><path d="M12.9,25.9L15.7,24.9" stroke="#dc5d67"/><path d="M15.7,24.9L18.5,23.5" stroke="#ca457a"/><path d="M18.5,23.5L21.1,22.0" stroke="#b32c8e"/><path d="M21.1,22.0L23.5,20.2" stroke="#97149f"/><path d="M23.5,20.2L25.8,18.2" stroke="#860aa5"/><path d="M25.8,18.2L28.0,16.0" stroke="#7404a7"/><path d="M-36.5,0.8L-35.7,3.7" stroke="#7905a6" class="e"/><path d="M-35.7,3.7L-34.7,6.5" stroke="#8f0da4" class="e"/><path d="M-34.7,6.5L-33.5,9.2" stroke="#a72296" class="e"/><path d="M-33.5,9.2L-32.1,11.9" stroke="#bd3785"/><path d="M-32.1,11.9L-30.5,14.4" stroke="#cd4877"/><path d="M-30.5,14.4L-28.7,16.8" stroke="#d7566d"/><path d="M-28.7,16.8L-26.7,19.1" stroke="#de6165"/><path d="M-26.7,19.1L-24.5,21.2" stroke="#e7705a"/><path d="M-24.5,21.2L-22.2,23.1" stroke="#ed7b51"/><path d="M-22.2,23.1L-19.8,24.8" stroke="#f38749"/><path d="M-19.8,24.8L-17.2,26.4" stroke="#f69342"/><path d="M-17.2,26.4L-14.5,27.7" stroke="#f99b3d"/><path d="M-14.5,27.7L-11.7,28.8" stroke="#fa9f3a"/><path d="M-11.7,28.8L-8.8,29.7" stroke="#fca835"/><path d="M-8.8,29.7L-5.9,30.4" stroke="#fcac33"/><path d="M-5.9,30.4L-2.9,30.9" stroke="#fca835"/><path d="M-2.9,30.9L0.1,31.1" stroke="#fba338"/><path d="M0.1,31.1L3.1,31.1" stroke="#fa9f3a"/><path d="M3.1,31.1L6.1,30.9" stroke="#f99b3d"/><path d="M6.1,30.9L9.0,30.4" stroke="#f48b47"/><path d="M9.0,30.4L12.0,29.7" stroke="#e97357"/><path d="M12.0,29.7L14.8,28.8" stroke="#dc5d67"/><path d="M14.8,28.8L17.6,27.7" stroke="#cd4877"/><path d="M17.6,27.7L20.3,26.3" stroke="#bd3785"/><path d="M20.3,26.3L22.9,24.8" stroke="#a72296"/><path d="M22.9,24.8L25.3,23.0" stroke="#8f0da4"/><path d="M25.3,23.0L27.6,21.1" stroke="#7d07a6" class="e"/><path d="M27.6,21.1L29.8,19.0" stroke="#7002a7" class="e"/><path d="M29.8,19.0L31.7,16.7" stroke="#6201a6" class="e"/><path d="M-39.9,-0.1L-39.2,2.9" stroke="#6201a6" class="e"/><path d="M-39.2,2.9L-38.3,5.8" stroke="#7905a6" class="e"/><path d="M-38.3,5.8L-37.2,8.7" stroke="#8b0ba4" class="e"/><path d="M-37.2,8.7L-35.9,11.4" stroke="#9b179d"/><path d="M-35.9,11.4L-34.4,14.1" stroke="#ac2593"/><path d="M-34.4,14.1L-32.8,16.6" stroke="#ba3388"/><path d="M-32.8,16.6L-30.9,19.0" stroke="#c7417d"/><path d="M-30.9,19.0L-28.9,21.3" stroke="#cf4c74"/><path d="M-28.9,21.3L-26.7,23.4" stroke="#d95a6a"/><path d="M-26.7,23.4L-24.4,25.4" stroke="#e16462"/><path d="M-24.4,25.4L-21.9,27.2" stroke="#e97357"/><path d="M-21.9,27.2L-19.3,28.8" stroke="#ef7f4f"/><path d="M-19.3,28.8L-16.6,30.2" stroke="#f38749"/><path d="M-16.6,30.2L-13.8,31.4" stroke="#f58f44"/><path d="M-13.8,31.4L-10.9,32.4" stroke="#f69342"/><path d="M-10.9,32.4L-8.0,33.2L-5.0,33.8" stroke="#f99b3d"/><path d="M-5.0,33.8L-2.0,34.1" stroke="#f8973f"/><path d="M-2.0,34.1L1.1,34.3" stroke="#f69342"/><path d="M1.1,34.3L4.1,34.2" stroke="#f48b47"/><path d="M4.1,34.2L7.1,33.9" stroke="#f38749"/><path d="M7.1,33.9L10.1,33.4" stroke="#e97357"/><path d="M10.1,33.4L13.1,32.6" stroke="#de6165"/><path d="M13.1,32.6L16.0,31.7" stroke="#cf4c74"/><path d="M16.0,31.7L18.8,30.6" stroke="#c03a83"/><path d="M18.8,30.6L21.5,29.2" stroke="#ac2593"/><path d="M21.5,29.2L24.1,27.7" stroke="#9b179d"/><path d="M24.1,27.7L26.7,25.9" stroke="#860aa5"/><path d="M26.7,25.9L29.0,24.0" stroke="#7404a7"/><path d="M29.0,24.0L31.3,21.9" stroke="#6700a7" class="e"/><path d="M31.3,21.9L33.3,19.7" stroke="#5d01a4" class="e"/><path d="M33.3,19.7L35.2,17.3" stroke="#5302a2" class="e"/><path d="M-42.6,-0.6L-42.0,2.4" stroke="#5802a3" class="e"/><path d="M-42.0,2.4L-41.2,5.3" stroke="#6700a7" class="e"/><path d="M-41.2,5.3L-40.3,8.2" stroke="#7404a7" class="e"/><path d="M-40.3,8.2L-39.2,11.0" stroke="#8208a5"/><path d="M-39.2,11.0L-37.9,13.8" stroke="#8f0da4"/><path d="M-37.9,13.8L-36.4,16.4" stroke="#9b179d"/><path d="M-36.4,16.4L-34.7,18.9" stroke="#a72296"/><path d="M-34.7,18.9L-32.8,21.3" stroke="#b32c8e"/><path d="M-32.8,21.3L-30.8,23.6" stroke="#c03a83"/><path d="M-30.8,23.6L-28.6,25.7" stroke="#ca457a"/><path d="M-28.6,25.7L-26.3,27.7" stroke="#d24f72"/><path d="M-26.3,27.7L-23.8,29.5" stroke="#dc5d67"/><path d="M-23.8,29.5L-21.2,31.1" stroke="#e16462"/><path d="M-21.2,31.1L-18.5,32.5" stroke="#e56c5c"/><path d="M-18.5,32.5L-15.8,33.8" stroke="#e97357"/><path d="M-15.8,33.8L-12.9,34.9" stroke="#eb7754"/><path d="M-12.9,34.9L-10.0,35.7" stroke="#ef7f4f"/><path d="M-10.0,35.7L-7.0,36.4" stroke="#f1834c"/><path d="M-7.0,36.4L-4.0,36.9" stroke="#ef7f4f"/><path d="M-4.0,36.9L-1.0,37.2" stroke="#eb7754"/><path d="M-1.0,37.2L2.1,37.2" stroke="#e97357"/><path d="M2.1,37.2L5.1,37.1" stroke="#e56c5c"/><path d="M5.1,37.1L8.1,36.7" stroke="#e16462"/><path d="M8.1,36.7L11.1,36.2" stroke="#d7566d"/><path d="M11.1,36.2L14.1,35.4" stroke="#cd4877"/><path d="M14.1,35.4L17.0,34.5" stroke="#bd3785"/><path d="M17.0,34.5L19.8,33.3" stroke="#ac2593"/><path d="M19.8,33.3L22.5,32.0" stroke="#97149f"/><path d="M22.5,32.0L25.1,30.5" stroke="#8b0ba4"/><path d="M25.1,30.5L27.6,28.7" stroke="#7d07a6"/><path d="M27.6,28.7L30.0,26.8" stroke="#7002a7"/><path d="M30.0,26.8L32.2,24.8" stroke="#6201a6"/><path d="M32.2,24.8L34.3,22.6" stroke="#5802a3" class="e"/><path d="M34.3,22.6L36.3,20.3" stroke="#5302a2" class="e"/><path d="M36.3,20.3L38.1,17.8" stroke="#4e03a1" class="e"/><path d="M-45.0,-0.9L-44.5,2.0" stroke="#5302a2" class="e"/><path d="M-44.5,2.0L-43.9,4.9" stroke="#5d01a4" class="e"/><path d="M-43.9,4.9L-43.1,7.8" stroke="#6201a6" class="e"/><path d="M-43.1,7.8L-42.2,10.7" stroke="#6b01a8"/><path d="M-42.2,10.7L-41.0,13.5" stroke="#7404a7"/><path d="M-41.0,13.5L-39.7,16.2" stroke="#7d07a6"/><path d="M-39.7,16.2L-38.2,18.8" stroke="#8b0ba4"/><path d="M-38.2,18.8L-36.5,21.3" stroke="#9310a2"/><path d="M-36.5,21.3L-34.5,23.6" stroke="#9f1b9a"/><path d="M-34.5,23.6L-32.5,25.8" stroke="#ac2593"/><path d="M-32.5,25.8L-30.3,27.9" stroke="#b32c8e"/><path d="M-30.3,27.9L-28.0,29.9" stroke="#bd3785"/><path d="M-28.0,29.9L-25.5,31.7" stroke="#c7417d"/><path d="M-25.5,31.7L-23.0,33.3" stroke="#cd4877"/><path d="M-23.0,33.3L-20.3,34.8" stroke="#cf4c74"/><path d="M-20.3,34.8L-17.6,36.0" stroke="#d24f72"/><path d="M-17.6,36.0L-14.8,37.2" stroke="#d4536f"/><path d="M-14.8,37.2L-11.9,38.1" stroke="#d95a6a"/><path d="M-11.9,38.1L-8.9,38.9L-6.0,39.4" stroke="#dc5d67"/><path d="M-6.0,39.4L-3.0,39.8" stroke="#d95a6a"/><path d="M-3.0,39.8L0.1,40.0" stroke="#d4536f"/><path d="M0.1,40.0L3.1,40.0" stroke="#d24f72"/><path d="M3.1,40.0L6.1,39.8" stroke="#cf4c74"/><path d="M6.1,39.8L9.1,39.4" stroke="#cd4877"/><path d="M9.1,39.4L12.1,38.8" stroke="#c33e80"/><path d="M12.1,38.8L15.0,38.1" stroke="#b6308b"/><path d="M15.0,38.1L17.9,37.1" stroke="#a72296"/><path d="M17.9,37.1L20.7,36.0" stroke="#97149f"/><path d="M20.7,36.0L23.4,34.7" stroke="#860aa5"/><path d="M23.4,34.7L26.0,33.2" stroke="#7905a6"/><path d="M26.0,33.2L28.5,31.5" stroke="#7002a7"/><path d="M28.5,31.5L30.9,29.6" stroke="#6700a7"/><path d="M30.9,29.6L33.1,27.5" stroke="#5d01a4"/><path d="M33.1,27.5L35.2,25.4" stroke="#5302a2"/><path d="M35.2,25.4L37.1,23.1" stroke="#5302a2" class="e"/><path d="M37.1,23.1L39.0,20.7" stroke="#4e03a1" class="e"/><path d="M39.0,20.7L40.7,18.3" stroke="#49039f" class="e"/><path d="M-42.6,13.1L-41.3,15.9" stroke="#7905a6"/><path d="M-41.3,15.9L-39.8,18.6" stroke="#8208a5"/><path d="M-39.8,18.6L-38.1,21.2" stroke="#8b0ba4"/><path d="M-38.1,21.2L-36.2,23.6" stroke="#9310a2"/><path d="M-36.2,23.6L-34.2,25.9" stroke="#9f1b9a"/><path d="M-34.2,25.9L-32.0,28.1" stroke="#a72296"/><path d="M-32.0,28.1L-29.7,30.1" stroke="#b32c8e"/><path d="M-29.7,30.1L-27.3,32.0" stroke="#ba3388"/><path d="M-27.3,32.0L-24.7,33.8" stroke="#c03a83"/><path d="M-24.7,33.8L-22.1,35.3" stroke="#c7417d"/><path d="M-22.1,35.3L-19.3,36.7" stroke="#ca457a"/><path d="M-19.3,36.7L-16.5,37.9" stroke="#cd4877"/><path d="M-16.5,37.9L-13.6,39.0" stroke="#cf4c74"/><path d="M-13.6,39.0L-10.6,39.8" stroke="#d24f72"/><path d="M-10.6,39.8L-7.6,40.5" stroke="#d4536f"/><path d="M-7.6,40.5L-4.6,41.0" stroke="#d24f72"/><path d="M-4.6,41.0L-1.5,41.2" stroke="#cf4c74"/><path d="M-1.5,41.2L1.6,41.3" stroke="#cd4877"/><path d="M1.6,41.3L4.7,41.2" stroke="#ca457a"/><path d="M4.7,41.2L7.7,40.9" stroke="#c7417d"/><path d="M7.7,40.9L10.8,40.4" stroke="#c03a83"/><path d="M10.8,40.4L13.8,39.8" stroke="#b6308b"/><path d="M13.8,39.8L16.7,38.9" stroke="#a72296"/><path d="M16.7,38.9L19.6,37.9" stroke="#9b179d"/><path d="M19.6,37.9L22.4,36.6" stroke="#8b0ba4"/><path d="M22.4,36.6L25.2,35.2" stroke="#7d07a6"/><path d="M25.2,35.2L27.8,33.6" stroke="#7002a7"/><path d="M27.8,33.6L30.3,31.8" stroke="#6700a7"/><path d="M30.3,31.8L32.6,29.8" stroke="#6201a6"/><path d="M-47.5,-1.1L-47.0,1.9" stroke="#4e03a1" class="e"/><path d="M-47.0,1.9L-46.5,4.8" stroke="#5302a2" class="e"/><path d="M-46.5,4.8L-45.7,7.8" stroke="#5d01a4" class="e"/><path d="M-45.7,7.8L-44.8,10.7" stroke="#6201a6" class="e"/><path d="M-44.8,10.7L-43.8,13.5" stroke="#6b01a8"/><path d="M-43.8,13.5L-42.5,16.3" stroke="#7002a7"/><path d="M-42.5,16.3L-41.1,19.0" stroke="#7905a6"/><path d="M-41.1,19.0L-39.4,21.6" stroke="#8208a5"/><path d="M-39.4,21.6L-37.6,24.1" stroke="#8b0ba4"/><path d="M-37.6,24.1L-35.6,26.4" stroke="#9310a2"/><path d="M-35.6,26.4L-33.4,28.6" stroke="#9f1b9a"/><path d="M-33.4,28.6L-31.1,30.7" stroke="#a72296"/><path d="M-31.1,30.7L-28.7,32.6" stroke="#b02991"/><path d="M-28.7,32.6L-26.2,34.4" stroke="#b6308b"/><path d="M-26.2,34.4L-23.6,36.0" stroke="#ba3388"/><path d="M-23.6,36.0L-20.9,37.4" stroke="#bd3785"/><path d="M-20.9,37.4L-18.1,38.7" stroke="#c03a83"/><path d="M-18.1,38.7L-15.2,39.8" stroke="#c33e80"/><path d="M-15.2,39.8L-12.3,40.7" stroke="#c7417d"/><path d="M-12.3,40.7L-9.3,41.5L-6.3,42.0" stroke="#ca457a"/><path d="M-6.3,42.0L-3.2,42.4" stroke="#c7417d"/><path d="M-3.2,42.4L-0.1,42.6" stroke="#c33e80"/><path d="M-0.1,42.6L2.9,42.6" stroke="#c03a83"/><path d="M2.9,42.6L6.0,42.4" stroke="#bd3785"/><path d="M6.0,42.4L9.1,42.1" stroke="#ba3388"/><path d="M9.1,42.1L12.1,41.5" stroke="#b32c8e"/><path d="M12.1,41.5L15.1,40.8" stroke="#a72296"/><path d="M15.1,40.8L18.0,39.9" stroke="#9b179d"/><path d="M18.0,39.9L20.9,38.8" stroke="#8f0da4"/><path d="M20.9,38.8L23.7,37.5" stroke="#8208a5"/><path d="M23.7,37.5L26.4,36.0" stroke="#7404a7"/><path d="M26.4,36.0L29.0,34.4" stroke="#6b01a8"/><path d="M29.0,34.4L31.4,32.5" stroke="#6201a6"/><path d="M31.4,32.5L33.7,30.5" stroke="#5d01a4"/><path d="M33.7,30.5L35.9,28.3" stroke="#5302a2"/><path d="M35.9,28.3L37.9,26.1L39.8,23.7" stroke="#4e03a1" class="e"/><path d="M39.8,23.7L41.6,21.2" stroke="#49039f" class="e"/><path d="M41.6,21.2L43.2,18.7" stroke="#44049e" class="e"/><path d="M-43.4,17.4L-41.9,20.0" stroke="#7404a7"/><path d="M-41.9,20.0L-40.3,22.6" stroke="#7d07a6"/><path d="M-40.3,22.6L-38.5,25.0" stroke="#860aa5"/><path d="M-38.5,25.0L-36.5,27.2" stroke="#8f0da4"/><path d="M-36.5,27.2L-34.4,29.4" stroke="#9310a2"/><path d="M-34.4,29.4L-32.2,31.4" stroke="#9b179d"/><path d="M-32.2,31.4L-29.8,33.3" stroke="#a31e98"/><path d="M-29.8,33.3L-27.4,35.1" stroke="#ac2593"/><path d="M-27.4,35.1L-24.8,36.7" stroke="#b02991"/><path d="M-24.8,36.7L-22.2,38.1" stroke="#b32c8e"/><path d="M-22.2,38.1L-19.4,39.5" stroke="#b6308b"/><path d="M-19.4,39.5L-16.6,40.6" stroke="#ba3388"/><path d="M-16.6,40.6L-13.8,41.6L-10.9,42.4" stroke="#bd3785"/><path d="M-10.9,42.4L-7.9,43.0" stroke="#c03a83"/><path d="M-7.9,43.0L-4.9,43.5L-1.9,43.8" stroke="#bd3785"/><path d="M-1.9,43.8L1.1,43.9" stroke="#ba3388"/><path d="M1.1,43.9L4.1,43.8" stroke="#b6308b"/><path d="M4.1,43.8L7.1,43.6" stroke="#b32c8e"/><path d="M7.1,43.6L10.1,43.2" stroke="#b02991"/><path d="M10.1,43.2L13.0,42.6" stroke="#a72296"/><path d="M13.0,42.6L16.0,41.8" stroke="#9b179d"/><path d="M16.0,41.8L18.8,40.9" stroke="#9310a2"/><path d="M18.8,40.9L21.6,39.8" stroke="#860aa5"/><path d="M21.6,39.8L24.4,38.5" stroke="#7d07a6"/><path d="M24.4,38.5L27.0,37.1" stroke="#7002a7"/><path d="M27.0,37.1L29.6,35.5" stroke="#6700a7"/><path d="M29.6,35.5L32.0,33.7" stroke="#6201a6"/><path d="M-49.9,-1.2L-49.5,1.7" stroke="#49039f" class="e"/><path d="M-49.5,1.7L-49.0,4.7" stroke="#4e03a1" class="e"/><path d="M-49.0,4.7L-48.3,7.6" stroke="#5302a2" class="e"/><path d="M-48.3,7.6L-47.5,10.5" stroke="#5802a3" class="e"/><path d="M-47.5,10.5L-46.5,13.3" stroke="#5d01a4"/><path d="M-46.5,13.3L-45.4,16.1" stroke="#6700a7"/><path d="M-45.4,16.1L-44.0,18.8" stroke="#6b01a8"/><path d="M-44.0,18.8L-42.5,21.4" stroke="#7002a7"/><path d="M-42.5,21.4L-40.8,24.0" stroke="#7905a6"/><path d="M-40.8,24.0L-38.9,26.3" stroke="#7d07a6"/><path d="M-38.9,26.3L-36.9,28.6" stroke="#860aa5"/><path d="M-36.9,28.6L-34.8,30.7" stroke="#8b0ba4"/><path d="M-34.8,30.7L-32.5,32.8" stroke="#9310a2"/><path d="M-32.5,32.8L-30.1,34.6" stroke="#9b179d"/><path d="M-30.1,34.6L-27.6,36.4" stroke="#9f1b9a"/><path d="M-27.6,36.4L-25.0,38.0" stroke="#a31e98"/><path d="M-25.0,38.0L-22.4,39.4" stroke="#a72296"/><path d="M-22.4,39.4L-19.6,40.7" stroke="#ac2593"/><path d="M-19.6,40.7L-16.8,41.9L-13.9,42.8" stroke="#b02991"/><path d="M-13.9,42.8L-11.0,43.6" stroke="#b32c8e"/><path d="M-11.0,43.6L-8.0,44.3" stroke="#b6308b"/><path d="M-8.0,44.3L-5.0,44.7" stroke="#b32c8e"/><path d="M-5.0,44.7L-2.0,45.0L1.0,45.1" stroke="#b02991"/><path d="M1.0,45.1L4.1,45.1" stroke="#ac2593"/><path d="M4.1,45.1L7.1,44.8" stroke="#a72296"/><path d="M7.1,44.8L10.1,44.4" stroke="#a31e98"/><path d="M10.1,44.4L13.1,43.8" stroke="#9f1b9a"/><path d="M13.1,43.8L16.0,43.1" stroke="#9310a2"/><path d="M16.0,43.1L18.9,42.2" stroke="#8b0ba4"/><path d="M18.9,42.2L21.7,41.1" stroke="#8208a5"/><path d="M21.7,41.1L24.5,39.9" stroke="#7404a7"/><path d="M24.5,39.9L27.2,38.4" stroke="#6b01a8"/><path d="M27.2,38.4L29.8,36.8" stroke="#6201a6"/><path d="M29.8,36.8L32.2,35.1" stroke="#5d01a4"/><path d="M32.2,35.1L34.6,33.1" stroke="#5802a3"/><path d="M34.6,33.1L36.7,31.0" stroke="#5302a2"/><path d="M36.7,31.0L38.8,28.8" stroke="#4e03a1"/><path d="M38.8,28.8L40.7,26.5L42.5,24.1" stroke="#49039f" class="e"/><path d="M42.5,24.1L44.2,21.7L45.8,19.2" stroke="#44049e" class="e"/><path d="M-47.9,12.9L-46.8,15.8" stroke="#6201a6"/><path d="M-46.8,15.8L-45.5,18.5" stroke="#6700a7"/><path d="M-45.5,18.5L-44.0,21.2" stroke="#6b01a8"/><path d="M-44.0,21.2L-42.4,23.8" stroke="#7002a7"/><path d="M-42.4,23.8L-40.5,26.3" stroke="#7905a6"/><path d="M-40.5,26.3L-38.5,28.6" stroke="#7d07a6"/><path d="M-38.5,28.6L-36.4,30.8" stroke="#860aa5"/><path d="M-36.4,30.8L-34.1,32.9" stroke="#8b0ba4"/><path d="M-34.1,32.9L-31.7,34.9" stroke="#9310a2"/><path d="M-31.7,34.9L-29.3,36.7" stroke="#97149f"/><path d="M-29.3,36.7L-26.7,38.4L-24.0,39.9" stroke="#9f1b9a"/><path d="M-24.0,39.9L-21.3,41.3" stroke="#a31e98"/><path d="M-21.3,41.3L-18.4,42.5L-15.6,43.5" stroke="#a72296"/><path d="M-15.6,43.5L-12.6,44.4" stroke="#ac2593"/><path d="M-12.6,44.4L-9.6,45.1L-6.6,45.7" stroke="#b02991"/><path d="M-6.6,45.7L-3.5,46.1" stroke="#ac2593"/><path d="M-3.5,46.1L-0.5,46.3L2.6,46.3" stroke="#a72296"/><path d="M2.6,46.3L5.7,46.1" stroke="#a31e98"/><path d="M5.7,46.1L8.7,45.8" stroke="#9f1b9a"/><path d="M8.7,45.8L11.8,45.3" stroke="#9b179d"/><path d="M11.8,45.3L14.8,44.6" stroke="#9310a2"/><path d="M14.8,44.6L17.7,43.8" stroke="#8b0ba4"/><path d="M17.7,43.8L20.6,42.8" stroke="#8208a5"/><path d="M20.6,42.8L23.5,41.6" stroke="#7905a6"/><path d="M23.5,41.6L26.3,40.3" stroke="#7002a7"/><path d="M26.3,40.3L28.9,38.8" stroke="#6700a7"/><path d="M28.9,38.8L31.5,37.1" stroke="#5d01a4"/><path d="M31.5,37.1L33.9,35.2" stroke="#5802a3"/><path d="M33.9,35.2L36.2,33.2" stroke="#5302a2"/><path d="M36.2,33.2L38.4,31.0" stroke="#4e03a1"/><path d="M-52.4,-1.2L-52.0,1.8" stroke="#44049e" class="e"/><path d="M-52.0,1.8L-51.4,4.7" stroke="#49039f" class="e"/><path d="M-51.4,4.7L-50.7,7.7" stroke="#4e03a1" class="e"/><path d="M-50.7,7.7L-49.9,10.6" stroke="#5302a2" class="e"/><path d="M-49.9,10.6L-49.0,13.5" stroke="#5802a3"/><path d="M-49.0,13.5L-47.9,16.3" stroke="#5d01a4"/><path d="M-47.9,16.3L-46.6,19.0" stroke="#6201a6"/><path d="M-46.6,19.0L-45.1,21.7" stroke="#6700a7"/><path d="M-45.1,21.7L-43.5,24.3" stroke="#6b01a8"/><path d="M-43.5,24.3L-41.6,26.7" stroke="#7404a7"/><path d="M-41.6,26.7L-39.7,29.1" stroke="#7905a6"/><path d="M-39.7,29.1L-37.6,31.3" stroke="#7d07a6"/><path d="M-37.6,31.3L-35.3,33.4" stroke="#860aa5"/><path d="M-35.3,33.4L-33.0,35.4" stroke="#8b0ba4"/><path d="M-33.0,35.4L-30.6,37.2" stroke="#8f0da4"/><path d="M-30.6,37.2L-28.0,38.9" stroke="#97149f"/><path d="M-28.0,38.9L-25.4,40.5L-22.7,41.9" stroke="#9b179d"/><path d="M-22.7,41.9L-19.9,43.1L-17.0,44.3" stroke="#9f1b9a"/><path d="M-17.0,44.3L-14.1,45.2" stroke="#a31e98"/><path d="M-14.1,45.2L-11.2,46.0L-8.2,46.6L-5.2,47.1" stroke="#a72296"/><path d="M-5.2,47.1L-2.1,47.3" stroke="#a31e98"/><path d="M-2.1,47.3L0.9,47.5L4.0,47.4" stroke="#9f1b9a"/><path d="M4.0,47.4L7.0,47.2" stroke="#9b179d"/><path d="M7.0,47.2L10.1,46.8" stroke="#97149f"/><path d="M10.1,46.8L13.1,46.2" stroke="#9310a2"/><path d="M13.1,46.2L16.0,45.5" stroke="#8b0ba4"/><path d="M16.0,45.5L19.0,44.6" stroke="#860aa5"/><path d="M19.0,44.6L21.8,43.6" stroke="#7d07a6"/><path d="M21.8,43.6L24.7,42.4" stroke="#7404a7"/><path d="M24.7,42.4L27.4,41.0" stroke="#6b01a8"/><path d="M27.4,41.0L30.0,39.5" stroke="#6201a6"/><path d="M30.0,39.5L32.6,37.8" stroke="#5d01a4"/><path d="M32.6,37.8L35.0,35.9" stroke="#5802a3"/><path d="M35.0,35.9L37.3,33.9" stroke="#5302a2"/><path d="M37.3,33.9L39.4,31.7" stroke="#4e03a1"/><path d="M39.4,31.7L41.4,29.5" stroke="#49039f"/><path d="M41.4,29.5L43.3,27.1" stroke="#49039f" class="e"/><path d="M43.3,27.1L45.1,24.7L46.8,22.2L48.3,19.6" stroke="#44049e" class="e"/><path d="M-48.5,17.6L-47.1,20.4" stroke="#5d01a4"/><path d="M-47.1,20.4L-45.6,23.0" stroke="#6700a7"/><path d="M-45.6,23.0L-43.9,25.6" stroke="#6b01a8"/><path d="M-43.9,25.6L-42.0,28.0" stroke="#7002a7"/><path d="M-42.0,28.0L-40.0,30.3" stroke="#7404a7"/><path d="M-40.0,30.3L-37.9,32.5" stroke="#7d07a6"/><path d="M-37.9,32.5L-35.6,34.6" stroke="#8208a5"/><path d="M-35.6,34.6L-33.2,36.6" stroke="#860aa5"/><path d="M-33.2,36.6L-30.8,38.4" stroke="#8b0ba4"/><path d="M-30.8,38.4L-28.2,40.1" stroke="#8f0da4"/><path d="M-28.2,40.1L-25.6,41.6" stroke="#9310a2"/><path d="M-25.6,41.6L-22.8,43.0L-20.0,44.3" stroke="#97149f"/><path d="M-20.0,44.3L-17.1,45.4L-14.2,46.3" stroke="#9b179d"/><path d="M-14.2,46.3L-11.2,47.1L-8.2,47.7L-5.2,48.2" stroke="#9f1b9a"/><path d="M-5.2,48.2L-2.1,48.4L0.9,48.6" stroke="#9b179d"/><path d="M0.9,48.6L4.0,48.5" stroke="#97149f"/><path d="M4.0,48.5L7.1,48.3L10.1,47.9" stroke="#9310a2"/><path d="M10.1,47.9L13.2,47.3" stroke="#8f0da4"/><path d="M13.2,47.3L16.1,46.6" stroke="#860aa5"/><path d="M16.1,46.6L19.1,45.7" stroke="#8208a5"/><path d="M19.1,45.7L22.0,44.7" stroke="#7905a6"/><path d="M22.0,44.7L24.8,43.5" stroke="#7002a7"/><path d="M24.8,43.5L27.6,42.2" stroke="#6700a7"/><path d="M27.6,42.2L30.3,40.7" stroke="#6201a6"/><path d="M30.3,40.7L32.8,39.0" stroke="#5802a3"/><path d="M32.8,39.0L35.3,37.1L37.6,35.1" stroke="#5302a2"/><path d="M-54.8,-1.1L-54.4,1.9" stroke="#44049e" class="e"/><path d="M-54.4,1.9L-53.8,4.9L-53.1,7.9" stroke="#49039f" class="e"/><path d="M-53.1,7.9L-52.3,10.8" stroke="#4e03a1" class="e"/><path d="M-52.3,10.8L-51.4,13.7" stroke="#5302a2"/><path d="M-51.4,13.7L-50.2,16.5L-49.0,19.3" stroke="#5802a3"/><path d="M-49.0,19.3L-47.5,22.0" stroke="#5d01a4"/><path d="M-47.5,22.0L-45.9,24.6" stroke="#6201a6"/><path d="M-45.9,24.6L-44.1,27.1" stroke="#6700a7"/><path d="M-44.1,27.1L-42.2,29.5" stroke="#7002a7"/><path d="M-42.2,29.5L-40.2,31.8" stroke="#7404a7"/><path d="M-40.2,31.8L-38.0,33.9" stroke="#7905a6"/><path d="M-38.0,33.9L-35.7,36.0" stroke="#7d07a6"/><path d="M-35.7,36.0L-33.3,37.9" stroke="#8208a5"/><path d="M-33.3,37.9L-30.8,39.7" stroke="#860aa5"/><path d="M-30.8,39.7L-28.3,41.4" stroke="#8b0ba4"/><path d="M-28.3,41.4L-25.6,42.9L-22.9,44.2" stroke="#8f0da4"/><path d="M-22.9,44.2L-20.0,45.5L-17.2,46.5" stroke="#9310a2"/><path d="M-17.2,46.5L-14.2,47.5L-11.3,48.2" stroke="#97149f"/><path d="M-11.3,48.2L-8.3,48.8" stroke="#9b179d"/><path d="M-8.3,48.8L-5.2,49.3" stroke="#97149f"/><path d="M-5.2,49.3L-2.2,49.5L0.9,49.7" stroke="#9310a2"/><path d="M0.9,49.7L4.0,49.6L7.0,49.4" stroke="#8f0da4"/><path d="M7.0,49.4L10.1,49.0L13.1,48.5" stroke="#8b0ba4"/><path d="M13.1,48.5L16.1,47.8" stroke="#8208a5"/><path d="M16.1,47.8L19.0,46.9" stroke="#7d07a6"/><path d="M19.0,46.9L21.9,45.9" stroke="#7404a7"/><path d="M21.9,45.9L24.7,44.8" stroke="#7002a7"/><path d="M24.7,44.8L27.5,43.4" stroke="#6700a7"/><path d="M27.5,43.4L30.2,42.0" stroke="#6201a6"/><path d="M30.2,42.0L32.8,40.3" stroke="#5802a3"/><path d="M32.8,40.3L35.3,38.6L37.7,36.6" stroke="#5302a2"/><path d="M37.7,36.6L39.9,34.5" stroke="#4e03a1"/><path d="M39.9,34.5L42.0,32.4L44.0,30.1" stroke="#49039f"/><path d="M44.0,30.1L45.9,27.7L47.7,25.2L49.3,22.7" stroke="#44049e" class="e"/><path d="M49.3,22.7L50.9,20.1" stroke="#3f049c" class="e"/><path d="M-48.4,22.5L-46.8,25.1" stroke="#5d01a4"/><path d="M-46.8,25.1L-45.1,27.6" stroke="#6201a6"/><path d="M-45.1,27.6L-43.2,30.0" stroke="#6700a7"/><path d="M-43.2,30.0L-41.1,32.2" stroke="#6b01a8"/><path d="M-41.1,32.2L-39.0,34.4" stroke="#7002a7"/><path d="M-39.0,34.4L-36.8,36.4" stroke="#7404a7"/><path d="M-36.8,36.4L-34.4,38.4" stroke="#7905a6"/><path d="M-34.4,38.4L-32.0,40.2" stroke="#7d07a6"/><path d="M-32.0,40.2L-29.4,41.8" stroke="#8208a5"/><path d="M-29.4,41.8L-26.8,43.4L-24.1,44.8" stroke="#860aa5"/><path d="M-24.1,44.8L-21.4,46.0L-18.5,47.2" stroke="#8b0ba4"/><path d="M-18.5,47.2L-15.7,48.1L-12.7,48.9L-9.8,49.6L-6.8,50.1L-3.8,50.5" stroke="#8f0da4"/><path d="M-3.8,50.5L-0.7,50.7L2.3,50.7" stroke="#8b0ba4"/><path d="M2.3,50.7L5.3,50.6L8.3,50.3" stroke="#860aa5"/><path d="M8.3,50.3L11.4,49.9L14.3,49.3" stroke="#8208a5"/><path d="M14.3,49.3L17.3,48.5" stroke="#7905a6"/><path d="M17.3,48.5L20.2,47.6" stroke="#7404a7"/><path d="M20.2,47.6L23.0,46.6" stroke="#7002a7"/><path d="M23.0,46.6L25.8,45.4" stroke="#6700a7"/><path d="M25.8,45.4L28.5,44.1" stroke="#6201a6"/><path d="M28.5,44.1L31.2,42.6" stroke="#5d01a4"/><path d="M31.2,42.6L33.8,41.0L36.2,39.2" stroke="#5302a2"/><path d="M-57.2,-0.8L-56.8,2.1L-56.2,5.1" stroke="#44049e" class="e"/><path d="M-56.2,5.1L-55.5,8.0L-54.7,10.8" stroke="#49039f" class="e"/><path d="M-54.7,10.8L-53.8,13.7L-52.7,16.5" stroke="#4e03a1"/><path d="M-52.7,16.5L-51.4,19.2L-50.0,21.9" stroke="#5302a2"/><path d="M-50.0,21.9L-48.5,24.4" stroke="#5802a3"/><path d="M-48.5,24.4L-46.8,26.9" stroke="#5d01a4"/><path d="M-46.8,26.9L-45.0,29.3" stroke="#6201a6"/><path d="M-45.0,29.3L-43.1,31.6" stroke="#6700a7"/><path d="M-43.1,31.6L-41.1,33.8" stroke="#6b01a8"/><path d="M-41.1,33.8L-38.9,35.9" stroke="#7002a7"/><path d="M-38.9,35.9L-36.6,37.9L-34.3,39.8" stroke="#7404a7"/><path d="M-34.3,39.8L-31.8,41.5" stroke="#7905a6"/><path d="M-31.8,41.5L-29.3,43.1" stroke="#7d07a6"/><path d="M-29.3,43.1L-26.7,44.6L-24.0,46.0L-21.3,47.2" stroke="#8208a5"/><path d="M-21.3,47.2L-18.5,48.3L-15.6,49.2L-12.7,50.0" stroke="#860aa5"/><path d="M-12.7,50.0L-9.8,50.7L-6.8,51.2" stroke="#8b0ba4"/><path d="M-6.8,51.2L-3.8,51.5L-0.8,51.7" stroke="#860aa5"/><path d="M-0.8,51.7L2.2,51.7L5.2,51.6" stroke="#8208a5"/><path d="M5.2,51.6L8.2,51.4L11.1,51.0" stroke="#7d07a6"/><path d="M11.1,51.0L14.1,50.4" stroke="#7905a6"/><path d="M14.1,50.4L17.0,49.7" stroke="#7404a7"/><path d="M17.0,49.7L19.9,48.8" stroke="#7002a7"/><path d="M19.9,48.8L22.7,47.8" stroke="#6b01a8"/><path d="M22.7,47.8L25.5,46.7" stroke="#6700a7"/><path d="M25.5,46.7L28.2,45.4" stroke="#6201a6"/><path d="M28.2,45.4L30.9,44.0" stroke="#5d01a4"/><path d="M30.9,44.0L33.4,42.4" stroke="#5302a2"/><path d="M33.4,42.4L35.9,40.7L38.3,38.9" stroke="#4e03a1"/><path d="M38.3,38.9L40.6,36.9L42.7,34.9" stroke="#49039f"/><path d="M42.7,34.9L44.8,32.7L46.7,30.4" stroke="#44049e"/><path d="M46.7,30.4L48.6,28.1L50.3,25.6" stroke="#44049e" class="e"/><path d="M50.3,25.6L51.9,23.1L53.4,20.5" stroke="#3f049c" class="e"/><path d="M-53.3,17.7L-52.0,20.4" stroke="#4e03a1"/><path d="M-52.0,20.4L-50.5,23.0L-49.0,25.6" stroke="#5302a2"/><path d="M-49.0,25.6L-47.2,28.1" stroke="#5802a3"/><path d="M-47.2,28.1L-45.4,30.5" stroke="#5d01a4"/><path d="M-45.4,30.5L-43.4,32.8" stroke="#6201a6"/><path d="M-43.4,32.8L-41.3,35.0" stroke="#6700a7"/><path d="M-41.3,35.0L-39.1,37.0L-36.9,39.0" stroke="#6b01a8"/><path d="M-36.9,39.0L-34.5,40.9" stroke="#7002a7"/><path d="M-34.5,40.9L-32.0,42.6" stroke="#7404a7"/><path d="M-32.0,42.6L-29.4,44.2L-26.8,45.7L-24.1,47.0" stroke="#7905a6"/><path d="M-24.1,47.0L-21.3,48.2L-18.5,49.3L-15.6,50.2L-12.7,51.0" stroke="#7d07a6"/><path d="M-12.7,51.0L-9.8,51.7L-6.8,52.2" stroke="#8208a5"/><path d="M-6.8,52.2L-3.8,52.5L-0.8,52.7L2.3,52.7" stroke="#7d07a6"/><path d="M2.3,52.7L5.3,52.6L8.3,52.3" stroke="#7905a6"/><path d="M8.3,52.3L11.3,51.9L14.3,51.4" stroke="#7404a7"/><path d="M14.3,51.4L17.2,50.7" stroke="#7002a7"/><path d="M17.2,50.7L20.1,49.8" stroke="#6b01a8"/><path d="M20.1,49.8L22.9,48.8" stroke="#6700a7"/><path d="M22.9,48.8L25.7,47.7" stroke="#6201a6"/><path d="M25.7,47.7L28.5,46.4" stroke="#5d01a4"/><path d="M28.5,46.4L31.1,45.0" stroke="#5802a3"/><path d="M31.1,45.0L33.7,43.4" stroke="#5302a2"/><path d="M33.7,43.4L36.2,41.7L38.7,39.9" stroke="#4e03a1"/><path d="M38.7,39.9L41.0,38.0L43.2,35.9" stroke="#49039f"/><path d="M-59.6,-0.5L-59.1,2.5" stroke="#3f049c" class="e"/><path d="M-59.1,2.5L-58.6,5.4L-57.8,8.4L-57.0,11.2" stroke="#44049e" class="e"/><path d="M-57.0,11.2L-56.0,14.1" stroke="#49039f" class="e"/><path d="M-56.0,14.1L-54.9,16.8L-53.6,19.5" stroke="#49039f"/><path d="M-53.6,19.5L-52.2,22.2L-50.7,24.8" stroke="#4e03a1"/><path d="M-50.7,24.8L-49.0,27.3" stroke="#5302a2"/><path d="M-49.0,27.3L-47.2,29.7L-45.4,32.0" stroke="#5802a3"/><path d="M-45.4,32.0L-43.4,34.3" stroke="#5d01a4"/><path d="M-43.4,34.3L-41.3,36.4" stroke="#6201a6"/><path d="M-41.3,36.4L-39.0,38.4L-36.7,40.4" stroke="#6700a7"/><path d="M-36.7,40.4L-34.4,42.2" stroke="#6b01a8"/><path d="M-34.4,42.2L-31.9,43.9L-29.3,45.4" stroke="#7002a7"/><path d="M-29.3,45.4L-26.7,46.9L-24.0,48.2L-21.2,49.3L-18.4,50.4L-15.6,51.3" stroke="#7404a7"/><path d="M-15.6,51.3L-12.7,52.0L-9.7,52.7L-6.8,53.1" stroke="#7905a6"/><path d="M-6.8,53.1L-3.8,53.5L-0.8,53.7L2.2,53.7" stroke="#7404a7"/><path d="M2.2,53.7L5.2,53.6L8.2,53.3L11.2,52.9" stroke="#7002a7"/><path d="M11.2,52.9L14.1,52.4L17.0,51.7" stroke="#6b01a8"/><path d="M17.0,51.7L19.9,50.9" stroke="#6700a7"/><path d="M19.9,50.9L22.7,49.9" stroke="#6201a6"/><path d="M22.7,49.9L25.5,48.8" stroke="#5d01a4"/><path d="M25.5,48.8L28.3,47.6" stroke="#5802a3"/><path d="M28.3,47.6L30.9,46.2L33.5,44.7" stroke="#5302a2"/><path d="M33.5,44.7L36.1,43.1" stroke="#4e03a1"/><path d="M36.1,43.1L38.5,41.3L40.8,39.5L43.1,37.5" stroke="#49039f"/><path d="M43.1,37.5L45.3,35.4L47.3,33.2" stroke="#44049e"/><path d="M47.3,33.2L49.3,31.0" stroke="#44049e" class="e"/><path d="M49.3,31.0L51.1,28.6L52.8,26.1L54.4,23.6L55.9,21.0" stroke="#3f049c" class="e"/></g>
<use href="#grid"/><circle r="0.9" fill="#222"/>
<use href="#oval"/>
<g font-size="14">
<text x="-12.2" y="-59.09">-60</text>
<text x="-12.2" y="-37.41">-70</text>
<text x="-12.2" y="-15.73">-80</text>
<text x="66.2" y="-35.1">120</text><text x="67.5" y="45.9">60</text>
<text x="-68.7" y="-35.1" text-anchor="end">240</text><text x="-66.9" y="45.9" text-anchor="end">300</text>
</g>
<g font-size="16.15" text-anchor="middle"><text x="0" y="-98.6">jup.7048.02</text><text x="0" y="-81.7">2017-03-17 13:49 UT</text></g>
</g>
<g transform="translate(91.25,528.90)">
<g fill="none" stroke-width="2.60" stroke-linejoin="round" stroke-linecap="round"><path d="M1.2,11.2L4.1,10.2L6.8,8.6" stroke="#f2f222"/><path d="M6.8,8.6L9.2,6.5" stroke="#f3ed22"/><path d="M9.2,6.5L11.0,4.0" stroke="#fcc927"/><path d="M-3.4,16.8L-0.2,16.7L2.9,16.1" stroke="#f6e323"/><path d="M2.9,16.1L5.8,15.1L8.6,13.6" stroke="#f5e823"/><path d="M8.6,13.6L11.1,11.8L13.4,9.6" stroke="#f6e323"/><path d="M13.4,9.6L15.2,7.0" stroke="#fbd325"/><path d="M15.2,7.0L16.7,4.3" stroke="#fcc927"/><path d="M16.7,4.3L17.7,1.3" stroke="#f8973f"/><path d="M17.7,1.3L18.3,-1.8" stroke="#e3685f"/><path d="M-7.8,21.1L-4.9,21.5" stroke="#fcb62f"/><path d="M-4.9,21.5L-1.9,21.6" stroke="#fcbb2d"/><path d="M-1.9,21.6L1.1,21.4" stroke="#fcc02b"/><path d="M1.1,21.4L4.1,20.8L6.9,19.9L9.6,18.6L12.2,17.1L14.6,15.2" stroke="#fcc429"/><path d="M14.6,15.2L16.7,13.1" stroke="#fcc02b"/><path d="M16.7,13.1L18.6,10.8" stroke="#fcbb2d"/><path d="M18.6,10.8L20.2,8.2" stroke="#fcb131"/><path d="M20.2,8.2L21.4,5.5" stroke="#fca835"/><path d="M21.4,5.5L22.4,2.6" stroke="#f69342"/><path d="M22.4,2.6L23.0,-0.3" stroke="#e97357"/><path d="M23.0,-0.3L23.2,-3.3" stroke="#d7566d"/><path d="M23.2,-3.3L23.1,-6.3" stroke="#bd3785"/><path d="M-11.9,24.6L-9.0,25.4" stroke="#f99b3d"/><path d="M-9.0,25.4L-6.1,25.9" stroke="#fa9f3a"/><path d="M-6.1,25.9L-3.1,26.2L-0.1,26.1" stroke="#fba338"/><path d="M-0.1,26.1L2.9,25.7" stroke="#fca835"/><path d="M2.9,25.7L5.8,25.0" stroke="#fcac33"/><path d="M5.8,25.0L8.6,24.1" stroke="#fcb131"/><path d="M8.6,24.1L11.3,22.8L13.9,21.3L16.4,19.6" stroke="#fcac33"/><path d="M16.4,19.6L18.6,17.6L20.7,15.4" stroke="#fca835"/><path d="M20.7,15.4L22.5,13.1" stroke="#fa9f3a"/><path d="M22.5,13.1L24.0,10.5" stroke="#f8973f"/><path d="M24.0,10.5L25.3,7.8" stroke="#f69342"/><path d="M25.3,7.8L26.4,5.0" stroke="#f48b47"/><path d="M26.4,5.0L27.1,2.1" stroke="#eb7754"/><path d="M27.1,2.1L27.6,-0.8" stroke="#de6165"/><path d="M27.6,-0.8L27.8,-3.8" stroke="#cf4c74"/><path d="M27.8,-3.8L27.6,-6.8" stroke="#bd3785"/><path d="M27.6,-6.8L27.2,-9.8" stroke="#a31e98"/><path d="M-15.6,27.7L-12.7,28.8" stroke="#f1834c" class="e"/><path d="M-12.7,28.8L-9.8,29.6" stroke="#f38749" class="e"/><path d="M-9.8,29.6L-6.8,30.1" stroke="#f48b47"/><path d="M-6.8,30.1L-3.7,30.3L-0.7,30.3" stroke="#f58f44"/><path d="M-0.7,30.3L2.4,30.0" stroke="#f69342"/><path d="M2.4,30.0L5.4,29.5" stroke="#f8973f"/><path d="M5.4,29.5L8.3,28.7L11.1,27.6" stroke="#f99b3d"/><path d="M11.1,27.6L13.9,26.3L16.5,24.7" stroke="#f8973f"/><path d="M16.5,24.7L19.0,22.9L21.3,20.9" stroke="#f69342"/><path d="M21.3,20.9L23.4,18.7" stroke="#f58f44"/><path d="M23.4,18.7L25.3,16.3" stroke="#f48b47"/><path d="M25.3,16.3L27.0,13.8" stroke="#f1834c"/><path d="M27.0,13.8L28.5,11.1" stroke="#ed7b51"/><path d="M28.5,11.1L29.7,8.3" stroke="#e97357"/><path d="M29.7,8.3L30.6,5.4" stroke="#e56c5c"/><path d="M30.6,5.4L31.3,2.5" stroke="#dc5d67"/><path d="M31.3,2.5L31.8,-0.5" stroke="#cf4c74"/><path d="M31.8,-0.5L32.0,-3.6" stroke="#c33e80"/><path d="M32.0,-3.6L31.9,-6.6" stroke="#b32c8e"/><path d="M31.9,-6.6L31.5,-9.6" stroke="#a31e98" class="e"/><path d="M31.5,-9.6L30.9,-12.6" stroke="#8f0da4" class="e"/><path d="M-18.6,30.3L-15.8,31.5" stroke="#e16462" class="e"/><path d="M-15.8,31.5L-13.0,32.5" stroke="#e3685f" class="e"/><path d="M-13.0,32.5L-10.1,33.3" stroke="#e56c5c" class="e"/><path d="M-10.1,33.3L-7.1,33.9" stroke="#e7705a"/><path d="M-7.1,33.9L-4.1,34.2" stroke="#e97357"/><path d="M-4.1,34.2L-1.0,34.3" stroke="#eb7754"/><path d="M-1.0,34.3L2.0,34.0" stroke="#ed7b51"/><path d="M2.0,34.0L5.0,33.6" stroke="#ef7f4f"/><path d="M5.0,33.6L7.9,32.9L10.8,31.9" stroke="#f1834c"/><path d="M10.8,31.9L13.6,30.8" stroke="#ef7f4f"/><path d="M13.6,30.8L16.3,29.4L18.9,27.8" stroke="#ed7b51"/><path d="M18.9,27.8L21.4,26.0" stroke="#eb7754"/><path d="M21.4,26.0L23.7,24.0L25.8,21.9" stroke="#e97357"/><path d="M25.8,21.9L27.8,19.5" stroke="#e56c5c"/><path d="M27.8,19.5L29.6,17.1" stroke="#e3685f"/><path d="M29.6,17.1L31.1,14.5" stroke="#de6165"/><path d="M31.1,14.5L32.5,11.8" stroke="#d95a6a"/><path d="M32.5,11.8L33.6,8.9" stroke="#d4536f"/><path d="M33.6,8.9L34.5,6.0" stroke="#d24f72"/><path d="M34.5,6.0L35.2,3.1" stroke="#ca457a"/><path d="M35.2,3.1L35.6,0.1" stroke="#bd3785"/><path d="M35.6,0.1L35.8,-3.0" stroke="#b32c8e"/><path d="M35.8,-3.0L35.6,-6.0" stroke="#a31e98"/><path d="M35.6,-6.0L35.3,-9.0" stroke="#97149f" class="e"/><path d="M35.3,-9.0L34.7,-11.9" stroke="#8b0ba4" class="e"/><path d="M34.7,-11.9L34.0,-14.9" stroke="#7905a6" class="e"/><path d="M-21.3,32.6L-18.5,33.9" stroke="#cd4877" class="e"/><path d="M-18.5,33.9L-15.7,35.1" stroke="#cf4c74" class="e"/><path d="M-15.7,35.1L-12.8,36.1" stroke="#d24f72" class="e"/><path d="M-12.8,36.1L-9.9,37.0" stroke="#d4536f"/><path d="M-9.9,37.0L-6.9,37.5" stroke="#d7566d"/><path d="M-6.9,37.5L-3.8,37.9" stroke="#d95a6a"/><path d="M-3.8,37.9L-0.7,37.9" stroke="#dc5d67"/><path d="M-0.7,37.9L2.4,37.7L5.5,37.2" stroke="#de6165"/><path d="M5.5,37.2L8.5,36.5L11.4,35.6" stroke="#e16462"/><path d="M11.4,35.6L14.3,34.5L17.1,33.1" stroke="#de6165"/><path d="M17.1,33.1L19.8,31.6" stroke="#dc5d67"/><path d="M19.8,31.6L22.3,29.8L24.8,27.9" stroke="#d95a6a"/><path d="M24.8,27.9L27.1,25.8" stroke="#d7566d"/><path d="M27.1,25.8L29.2,23.6" stroke="#d4536f"/><path d="M29.2,23.6L31.1,21.2" stroke="#d24f72"/><path d="M31.1,21.2L32.9,18.6" stroke="#cd4877"/><path d="M32.9,18.6L34.5,16.0" stroke="#ca457a"/><path d="M34.5,16.0L35.8,13.2" stroke="#c33e80"/><path d="M35.8,13.2L37.0,10.3" stroke="#c03a83"/><path d="M37.0,10.3L38.0,7.4" stroke="#ba3388"/><path d="M38.0,7.4L38.7,4.4" stroke="#b32c8e"/><path d="M38.7,4.4L39.1,1.3" stroke="#a72296"/><path d="M39.1,1.3L39.3,-1.8" stroke="#9f1b9a"/><path d="M39.3,-1.8L39.2,-4.8" stroke="#9310a2"/><path d="M39.2,-4.8L38.9,-7.9" stroke="#860aa5"/><path d="M38.9,-7.9L38.4,-10.9" stroke="#7d07a6" class="e"/><path d="M38.4,-10.9L37.6,-13.9" stroke="#7404a7" class="e"/><path d="M37.6,-13.9L36.8,-16.8" stroke="#6b01a8" class="e"/><path d="M-9.2,38.9L-6.2,39.4" stroke="#cd4877"/><path d="M-6.2,39.4L-3.2,39.6" stroke="#cf4c74"/><path d="M-3.2,39.6L-0.2,39.6" stroke="#d24f72"/><path d="M-0.2,39.6L2.7,39.3L5.7,38.9" stroke="#d4536f"/><path d="M5.7,38.9L8.6,38.2L11.5,37.4" stroke="#d7566d"/><path d="M11.5,37.4L14.3,36.3L17.0,35.1" stroke="#d4536f"/><path d="M17.0,35.1L19.7,33.6" stroke="#d24f72"/><path d="M19.7,33.6L22.2,32.0L24.6,30.2" stroke="#cf4c74"/><path d="M24.6,30.2L26.9,28.3L29.1,26.2" stroke="#cd4877"/><path d="M29.1,26.2L31.1,24.0" stroke="#ca457a"/><path d="M31.1,24.0L32.9,21.6" stroke="#c7417d"/><path d="M32.9,21.6L34.6,19.1" stroke="#c03a83"/><path d="M34.6,19.1L36.1,16.5" stroke="#bd3785"/><path d="M36.1,16.5L37.4,13.8" stroke="#b6308b"/><path d="M37.4,13.8L38.5,11.1" stroke="#b32c8e"/><path d="M38.5,11.1L39.5,8.2" stroke="#ac2593"/><path d="M39.5,8.2L40.2,5.3" stroke="#a72296"/><path d="M40.2,5.3L40.7,2.4" stroke="#9f1b9a"/><path d="M40.7,2.4L41.0,-0.6" stroke="#97149f"/><path d="M41.0,-0.6L41.0,-3.6" stroke="#8f0da4"/><path d="M-23.9,34.9L-21.3,36.3L-18.6,37.5" stroke="#b6308b" class="e"/><path d="M-18.6,37.5L-15.8,38.7" stroke="#ba3388" class="e"/><path d="M-15.8,38.7L-13.0,39.6" stroke="#bd3785"/><path d="M-13.0,39.6L-10.0,40.4L-7.1,41.0" stroke="#c03a83"/><path d="M-7.1,41.0L-4.1,41.3" stroke="#c33e80"/><path d="M-4.1,41.3L-1.0,41.3" stroke="#c7417d"/><path d="M-1.0,41.3L2.0,41.1L5.0,40.7" stroke="#ca457a"/><path d="M5.0,40.7L8.0,40.1L10.9,39.3" stroke="#cd4877"/><path d="M10.9,39.3L13.8,38.3L16.6,37.2" stroke="#ca457a"/><path d="M16.6,37.2L19.3,35.8L21.9,34.3" stroke="#c7417d"/><path d="M21.9,34.3L24.4,32.5L26.8,30.7" stroke="#c33e80"/><path d="M26.8,30.7L29.1,28.6L31.2,26.5" stroke="#c03a83"/><path d="M31.2,26.5L33.1,24.1" stroke="#bd3785"/><path d="M33.1,24.1L34.9,21.7" stroke="#b6308b"/><path d="M34.9,21.7L36.6,19.1" stroke="#b32c8e"/><path d="M36.6,19.1L38.0,16.5" stroke="#b02991"/><path d="M38.0,16.5L39.3,13.7" stroke="#ac2593"/><path d="M39.3,13.7L40.4,10.9" stroke="#a31e98"/><path d="M40.4,10.9L41.3,8.0" stroke="#9f1b9a"/><path d="M41.3,8.0L42.0,5.1" stroke="#97149f"/><path d="M42.0,5.1L42.5,2.1" stroke="#9310a2"/><path d="M42.5,2.1L42.7,-1.0" stroke="#8b0ba4"/><path d="M42.7,-1.0L42.7,-4.0" stroke="#8208a5"/><path d="M42.7,-4.0L42.4,-7.0" stroke="#7d07a6"/><path d="M42.4,-7.0L41.9,-10.0" stroke="#7404a7"/><path d="M41.9,-10.0L41.3,-12.9" stroke="#6b01a8" class="e"/><path d="M41.3,-12.9L40.5,-15.8" stroke="#6700a7" class="e"/><path d="M40.5,-15.8L39.6,-18.6" stroke="#5d01a4" class="e"/><path d="M-7.3,42.5L-4.3,42.8" stroke="#b6308b"/><path d="M-4.3,42.8L-1.3,42.9" stroke="#ba3388"/><path d="M-1.3,42.9L1.7,42.7L4.7,42.4" stroke="#bd3785"/><path d="M4.7,42.4L7.7,41.8L10.6,41.1L13.4,40.2" stroke="#c03a83"/><path d="M13.4,40.2L16.2,39.1L19.0,37.8" stroke="#bd3785"/><path d="M19.0,37.8L21.6,36.3L24.1,34.7" stroke="#ba3388"/><path d="M24.1,34.7L26.6,32.9L28.9,31.0L31.1,28.9" stroke="#b6308b"/><path d="M31.1,28.9L33.1,26.7" stroke="#b32c8e"/><path d="M33.1,26.7L35.0,24.3" stroke="#b02991"/><path d="M35.0,24.3L36.7,21.9" stroke="#ac2593"/><path d="M36.7,21.9L38.3,19.3" stroke="#a72296"/><path d="M38.3,19.3L39.7,16.7" stroke="#a31e98"/><path d="M39.7,16.7L41.0,13.9" stroke="#9f1b9a"/><path d="M41.0,13.9L42.0,11.1" stroke="#97149f"/><path d="M42.0,11.1L42.9,8.2" stroke="#9310a2"/><path d="M42.9,8.2L43.6,5.3" stroke="#8f0da4"/><path d="M43.6,5.3L44.1,2.3" stroke="#8b0ba4"/><path d="M44.1,2.3L44.3,-0.7" stroke="#8208a5"/><path d="M-26.5,37.2L-23.9,38.6L-21.2,40.0" stroke="#9b179d" class="e"/><path d="M-21.2,40.0L-18.5,41.2L-15.6,42.2" stroke="#9f1b9a" class="e"/><path d="M-15.6,42.2L-12.7,43.1" stroke="#a31e98"/><path d="M-12.7,43.1L-9.8,43.8L-6.8,44.2" stroke="#a72296"/><path d="M-6.8,44.2L-3.7,44.5L-0.7,44.5" stroke="#ac2593"/><path d="M-0.7,44.5L2.4,44.3" stroke="#b02991"/><path d="M2.4,44.3L5.4,43.9L8.4,43.3L11.3,42.5L14.2,41.6" stroke="#b32c8e"/><path d="M14.2,41.6L17.0,40.4L19.8,39.1L22.5,37.6" stroke="#b02991"/><path d="M22.5,37.6L25.0,36.0L27.5,34.2" stroke="#ac2593"/><path d="M27.5,34.2L29.8,32.3L32.0,30.2L34.1,27.9" stroke="#a72296"/><path d="M34.1,27.9L36.0,25.6" stroke="#a31e98"/><path d="M36.0,25.6L37.8,23.1" stroke="#9f1b9a"/><path d="M37.8,23.1L39.4,20.5" stroke="#9b179d"/><path d="M39.4,20.5L40.9,17.8" stroke="#97149f"/><path d="M40.9,17.8L42.2,15.1" stroke="#9310a2"/><path d="M42.2,15.1L43.3,12.2" stroke="#8f0da4"/><path d="M43.3,12.2L44.2,9.3" stroke="#8b0ba4"/><path d="M44.2,9.3L45.0,6.4" stroke="#860aa5"/><path d="M45.0,6.4L45.5,3.4" stroke="#8208a5"/><path d="M45.5,3.4L45.8,0.4" stroke="#7d07a6"/><path d="M45.8,0.4L45.9,-2.7" stroke="#7404a7"/><path d="M45.9,-2.7L45.8,-5.7" stroke="#7002a7"/><path d="M45.8,-5.7L45.4,-8.7" stroke="#6b01a8"/><path d="M45.4,-8.7L44.9,-11.7" stroke="#6700a7" class="e"/><path d="M44.9,-11.7L44.2,-14.6" stroke="#6201a6" class="e"/><path d="M44.2,-14.6L43.4,-17.5" stroke="#5802a3" class="e"/><path d="M43.4,-17.5L42.4,-20.3" stroke="#5302a2" class="e"/><path d="M-13.9,44.4L-10.9,45.1" stroke="#97149f"/><path d="M-10.9,45.1L-7.8,45.6L-4.8,45.9" stroke="#9b179d"/><path d="M-4.8,45.9L-1.7,46.0L1.4,45.8" stroke="#9f1b9a"/><path d="M1.4,45.8L4.4,45.5" stroke="#a31e98"/><path d="M4.4,45.5L7.5,45.0L10.5,44.3" stroke="#a72296"/><path d="M10.5,44.3L13.4,43.4L16.3,42.3L19.2,41.1" stroke="#a31e98"/><path d="M19.2,41.1L21.9,39.7L24.5,38.1L27.1,36.3" stroke="#9f1b9a"/><path d="M27.1,36.3L29.5,34.5L31.8,32.4L34.0,30.2" stroke="#9b179d"/><path d="M34.0,30.2L36.0,27.9" stroke="#97149f"/><path d="M36.0,27.9L37.9,25.5L39.7,22.9" stroke="#9310a2"/><path d="M39.7,22.9L41.3,20.3" stroke="#8f0da4"/><path d="M41.3,20.3L42.7,17.6" stroke="#8b0ba4"/><path d="M42.7,17.6L43.9,14.7" stroke="#860aa5"/><path d="M43.9,14.7L45.0,11.9L45.9,8.9" stroke="#8208a5"/><path d="M45.9,8.9L46.6,5.9" stroke="#7d07a6"/><path d="M46.6,5.9L47.1,2.9" stroke="#7905a6"/><path d="M47.1,2.9L47.4,-0.2" stroke="#7002a7"/><path d="M47.4,-0.2L47.4,-3.3" stroke="#6b01a8"/><path d="M47.4,-3.3L47.3,-6.4" stroke="#6700a7"/><path d="M-29.1,39.4L-26.5,40.9L-23.8,42.3" stroke="#860aa5" class="e"/><path d="M-23.8,42.3L-21.1,43.5L-18.2,44.6" stroke="#8b0ba4" class="e"/><path d="M-18.2,44.6L-15.4,45.6L-12.4,46.3" stroke="#8f0da4"/><path d="M-12.4,46.3L-9.4,46.9L-6.4,47.3L-3.4,47.4" stroke="#9310a2"/><path d="M-3.4,47.4L-0.3,47.4L2.7,47.2" stroke="#97149f"/><path d="M2.7,47.2L5.7,46.8L8.7,46.2L11.6,45.5L14.5,44.6L17.4,43.5" stroke="#9b179d"/><path d="M17.4,43.5L20.2,42.2L22.9,40.8L25.5,39.3" stroke="#97149f"/><path d="M25.5,39.3L28.0,37.5L30.4,35.7L32.7,33.7L34.8,31.5" stroke="#9310a2"/><path d="M34.8,31.5L36.9,29.3" stroke="#8f0da4"/><path d="M36.9,29.3L38.7,26.9L40.5,24.4" stroke="#8b0ba4"/><path d="M40.5,24.4L42.1,21.8" stroke="#860aa5"/><path d="M42.1,21.8L43.6,19.1L44.8,16.4" stroke="#8208a5"/><path d="M44.8,16.4L46.0,13.6" stroke="#7d07a6"/><path d="M46.0,13.6L46.9,10.7" stroke="#7905a6"/><path d="M46.9,10.7L47.7,7.7L48.3,4.7" stroke="#7404a7"/><path d="M48.3,4.7L48.7,1.7" stroke="#7002a7"/><path d="M48.7,1.7L48.9,-1.3" stroke="#6b01a8"/><path d="M48.9,-1.3L48.9,-4.3" stroke="#6700a7"/><path d="M48.9,-4.3L48.7,-7.4" stroke="#6201a6"/><path d="M48.7,-7.4L48.4,-10.4" stroke="#5d01a4"/><path d="M48.4,-10.4L47.8,-13.3" stroke="#5802a3" class="e"/><path d="M47.8,-13.3L47.1,-16.3L46.3,-19.2" stroke="#5302a2" class="e"/><path d="M46.3,-19.2L45.3,-22.0" stroke="#4e03a1" class="e"/><path d="M-11.5,48.0L-8.5,48.4L-5.5,48.7L-2.5,48.8" stroke="#8b0ba4"/><path d="M-2.5,48.8L0.6,48.7L3.6,48.5" stroke="#8f0da4"/><path d="M3.6,48.5L6.6,48.1L9.6,47.5L12.5,46.7" stroke="#9310a2"/><path d="M12.5,46.7L15.4,45.7L18.2,44.6L21.0,43.4L23.6,42.0" stroke="#8f0da4"/><path d="M23.6,42.0L26.2,40.4L28.7,38.7L31.1,36.8L33.4,34.8" stroke="#8b0ba4"/><path d="M33.4,34.8L35.6,32.7L37.6,30.4" stroke="#860aa5"/><path d="M37.6,30.4L39.6,28.1L41.3,25.6" stroke="#8208a5"/><path d="M41.3,25.6L43.0,23.1" stroke="#7d07a6"/><path d="M43.0,23.1L44.4,20.4L45.8,17.7" stroke="#7905a6"/><path d="M45.8,17.7L46.9,14.9L47.9,12.0" stroke="#7404a7"/><path d="M47.9,12.0L48.8,9.1" stroke="#7002a7"/><path d="M48.8,9.1L49.4,6.1L49.9,3.2" stroke="#6b01a8"/><path d="M49.9,3.2L50.2,0.1" stroke="#6700a7"/><path d="M50.2,0.1L50.4,-2.9" stroke="#6201a6"/><path d="M-31.6,41.6L-29.1,43.2L-26.4,44.6" stroke="#7404a7" class="e"/><path d="M-26.4,44.6L-23.6,45.9L-20.8,47.0" stroke="#7905a6" class="e"/><path d="M-20.8,47.0L-17.9,47.9" stroke="#7905a6"/><path d="M-17.9,47.9L-15.0,48.7L-12.1,49.3L-9.1,49.8" stroke="#7d07a6"/><path d="M-9.1,49.8L-6.1,50.1L-3.0,50.2L-0.0,50.1" stroke="#8208a5"/><path d="M-0.0,50.1L3.0,49.9L6.0,49.5L9.0,49.0L11.9,48.3L14.8,47.4L17.6,46.4" stroke="#860aa5"/><path d="M17.6,46.4L20.4,45.2L23.1,43.8L25.8,42.3L28.3,40.7L30.7,38.9" stroke="#8208a5"/><path d="M30.7,38.9L33.1,37.0L35.3,34.9L37.4,32.8" stroke="#7d07a6"/><path d="M37.4,32.8L39.4,30.5L41.3,28.1" stroke="#7905a6"/><path d="M41.3,28.1L43.0,25.6L44.6,23.0" stroke="#7404a7"/><path d="M44.6,23.0L46.0,20.4L47.3,17.6" stroke="#7002a7"/><path d="M47.3,17.6L48.4,14.8L49.4,12.0" stroke="#6b01a8"/><path d="M49.4,12.0L50.2,9.1L50.8,6.1" stroke="#6700a7"/><path d="M50.8,6.1L51.3,3.1" stroke="#6201a6"/><path d="M51.3,3.1L51.6,0.1L51.8,-2.9" stroke="#5d01a4"/><path d="M51.8,-2.9L51.8,-5.9" stroke="#5802a3"/><path d="M51.8,-5.9L51.6,-9.0L51.2,-12.0" stroke="#5302a2"/><path d="M51.2,-12.0L50.7,-14.9L50.0,-17.9" stroke="#4e03a1" class="e"/><path d="M50.0,-17.9L49.1,-20.8L48.1,-23.6" stroke="#49039f" class="e"/></g>
<use href="#grid"/><circle r="0.9" fill="#222"/>
<use href="#oval"/>
<g font-size="14">
<text x="-12.2" y="-59.09">-60</text>
<text x="-12.2" y="-37.41">-70</text>
<text x="-12.2" y="-15.73">-80</text>
<text x="66.2" y="-35.1">120</text><text x="67.5" y="45.9">60</text>
<text x="-68.7" y="-35.1" text-anchor="end">240</text><text x="-66.9" y="45.9" text-anchor="end">300</text>
</g>
<g font-size="16.15" text-anchor="middle"><text x="0" y="-98.6">jup.8014.01</text><text x="0" y="-81.7">2017-03-18 11:08 UT</text></g>
</g>
<g transform="translate(299.40,528.90)">
<g fill="none" stroke-width="2.60" stroke-linejoin="round" stroke-linecap="round"><path d="M-2.7,15.4L0.2,15.2L3.0,14.5" stroke="#f2f222"/><path d="M3.0,14.5L5.7,13.4" stroke="#f0f721"/><path d="M5.7,13.4L8.1,11.8L10.3,9.9" stroke="#f2f222"/><path d="M10.3,9.9L12.1,7.6" stroke="#f6e323"/><path d="M12.1,7.6L13.5,5.1" stroke="#fcc429"/><path d="M13.5,5.1L14.5,2.4" stroke="#f58f44"/><path d="M14.5,2.4L15.0,-0.4" stroke="#de6165"/><path d="M-6.8,20.0L-3.9,20.4" stroke="#f3ed22"/><path d="M-3.9,20.4L-1.0,20.4L1.9,20.0L4.7,19.2" stroke="#f2f222"/><path d="M4.7,19.2L7.4,18.1" stroke="#f0f721"/><path d="M7.4,18.1L9.9,16.7L12.2,14.9L14.3,12.9" stroke="#f2f222"/><path d="M14.3,12.9L16.1,10.6" stroke="#f5e823"/><path d="M16.1,10.6L17.6,8.1" stroke="#fbd325"/><path d="M17.6,8.1L18.8,5.4" stroke="#fcc02b"/><path d="M18.8,5.4L19.6,2.6" stroke="#fca835"/><path d="M19.6,2.6L20.0,-0.2" stroke="#f1834c"/><path d="M20.0,-0.2L20.1,-3.1" stroke="#de6165"/><path d="M20.1,-3.1L19.9,-6.0" stroke="#c7417d"/><path d="M-10.6,23.9L-7.8,24.6L-4.8,25.0" stroke="#f9d824"/><path d="M-4.8,25.0L-1.9,25.1" stroke="#f8dd24"/><path d="M-1.9,25.1L1.1,24.8L4.0,24.3" stroke="#f6e323"/><path d="M4.0,24.3L6.8,23.4L9.5,22.2" stroke="#f5e823"/><path d="M9.5,22.2L12.1,20.8L14.5,19.1" stroke="#f6e323"/><path d="M14.5,19.1L16.7,17.1L18.7,14.9" stroke="#f8dd24"/><path d="M18.7,14.9L20.5,12.5" stroke="#fbd325"/><path d="M20.5,12.5L21.9,9.9" stroke="#fcc02b"/><path d="M21.9,9.9L23.1,7.2" stroke="#fcb131"/><path d="M23.1,7.2L24.0,4.4" stroke="#fba338"/><path d="M24.0,4.4L24.5,1.5" stroke="#f48b47"/><path d="M24.5,1.5L24.8,-1.5" stroke="#e56c5c"/><path d="M24.8,-1.5L24.7,-4.5" stroke="#d4536f"/><path d="M24.7,-4.5L24.4,-7.4" stroke="#c03a83"/><path d="M24.4,-7.4L23.7,-10.3" stroke="#a72296"/><path d="M-14.1,27.3L-11.2,28.3" stroke="#fcac33"/><path d="M-11.2,28.3L-8.2,28.9L-5.2,29.3" stroke="#fcb131"/><path d="M-5.2,29.3L-2.2,29.4" stroke="#fcb62f"/><path d="M-2.2,29.4L0.9,29.2L3.9,28.8" stroke="#fcbb2d"/><path d="M3.9,28.8L6.8,28.0L9.7,26.9L12.5,25.6" stroke="#fcc02b"/><path d="M12.5,25.6L15.1,24.0L17.5,22.2" stroke="#fcbb2d"/><path d="M17.5,22.2L19.8,20.2L21.9,17.9" stroke="#fcb62f"/><path d="M21.9,17.9L23.7,15.5" stroke="#fcb131"/><path d="M23.7,15.5L25.3,12.9" stroke="#fba338"/><path d="M25.3,12.9L26.6,10.1" stroke="#f8973f"/><path d="M26.6,10.1L27.7,7.3" stroke="#f48b47"/><path d="M27.7,7.3L28.5,4.3" stroke="#ef7f4f"/><path d="M28.5,4.3L29.0,1.3" stroke="#e7705a"/><path d="M29.0,1.3L29.2,-1.7" stroke="#d95a6a"/><path d="M29.2,-1.7L29.1,-4.8" stroke="#c7417d"/><path d="M29.1,-4.8L28.7,-7.8" stroke="#b32c8e"/><path d="M28.7,-7.8L28.0,-10.8" stroke="#9f1b9a"/><path d="M28.0,-10.8L27.1,-13.7" stroke="#8f0da4"/><path d="M-17.3,30.4L-14.5,31.5" stroke="#f48b47" class="e"/><path d="M-14.5,31.5L-11.7,32.4L-8.8,33.0" stroke="#f58f44" class="e"/><path d="M-8.8,33.0L-5.9,33.4" stroke="#f69342"/><path d="M-5.9,33.4L-2.9,33.5" stroke="#f8973f"/><path d="M-2.9,33.5L0.1,33.4L3.0,33.1" stroke="#f99b3d"/><path d="M3.0,33.1L5.9,32.5" stroke="#fa9f3a"/><path d="M5.9,32.5L8.8,31.6" stroke="#fba338"/><path d="M8.8,31.6L11.6,30.6L14.2,29.3" stroke="#fa9f3a"/><path d="M14.2,29.3L16.8,27.8L19.2,26.1" stroke="#f99b3d"/><path d="M19.2,26.1L21.5,24.2" stroke="#f8973f"/><path d="M21.5,24.2L23.6,22.1L25.5,19.8" stroke="#f69342"/><path d="M25.5,19.8L27.3,17.4" stroke="#f48b47"/><path d="M27.3,17.4L28.8,14.9" stroke="#f1834c"/><path d="M28.8,14.9L30.1,12.2" stroke="#eb7754"/><path d="M30.1,12.2L31.2,9.5" stroke="#e7705a"/><path d="M31.2,9.5L32.1,6.6" stroke="#e3685f"/><path d="M32.1,6.6L32.7,3.7" stroke="#de6165"/><path d="M32.7,3.7L33.1,0.8" stroke="#d4536f"/><path d="M33.1,0.8L33.2,-2.2" stroke="#c7417d"/><path d="M33.2,-2.2L33.1,-5.2" stroke="#b6308b"/><path d="M33.1,-5.2L32.8,-8.1" stroke="#a72296"/><path d="M32.8,-8.1L32.2,-11.0" stroke="#97149f" class="e"/><path d="M32.2,-11.0L31.4,-13.9" stroke="#860aa5" class="e"/><path d="M31.4,-13.9L30.3,-16.6" stroke="#7905a6" class="e"/><path d="M-20.0,33.0L-17.2,34.2" stroke="#e56c5c" class="e"/><path d="M-17.2,34.2L-14.4,35.3L-11.5,36.1" stroke="#e7705a" class="e"/><path d="M-11.5,36.1L-8.5,36.7" stroke="#e97357"/><path d="M-8.5,36.7L-5.5,37.1L-2.4,37.3" stroke="#eb7754"/><path d="M-2.4,37.3L0.6,37.2" stroke="#ed7b51"/><path d="M0.6,37.2L3.7,36.8" stroke="#ef7f4f"/><path d="M3.7,36.8L6.7,36.2L9.6,35.4L12.5,34.3" stroke="#f1834c"/><path d="M12.5,34.3L15.2,33.0L17.9,31.6" stroke="#ef7f4f"/><path d="M17.9,31.6L20.5,29.9" stroke="#ed7b51"/><path d="M20.5,29.9L22.9,28.0L25.1,26.0" stroke="#eb7754"/><path d="M25.1,26.0L27.2,23.7" stroke="#e97357"/><path d="M27.2,23.7L29.1,21.4" stroke="#e7705a"/><path d="M29.1,21.4L30.9,18.9" stroke="#e3685f"/><path d="M30.9,18.9L32.4,16.2" stroke="#de6165"/><path d="M32.4,16.2L33.7,13.5" stroke="#d95a6a"/><path d="M33.7,13.5L34.8,10.6" stroke="#d4536f"/><path d="M34.8,10.6L35.7,7.7" stroke="#cf4c74"/><path d="M35.7,7.7L36.4,4.7" stroke="#ca457a"/><path d="M36.4,4.7L36.8,1.7" stroke="#c03a83"/><path d="M36.8,1.7L37.0,-1.3" stroke="#b6308b"/><path d="M37.0,-1.3L36.9,-4.4" stroke="#a72296"/><path d="M36.9,-4.4L36.6,-7.4" stroke="#9b179d"/><path d="M36.6,-7.4L36.0,-10.4" stroke="#8b0ba4"/><path d="M36.0,-10.4L35.2,-13.3" stroke="#8208a5" class="e"/><path d="M35.2,-13.3L34.2,-16.2" stroke="#7404a7" class="e"/><path d="M34.2,-16.2L33.0,-19.0" stroke="#6700a7" class="e"/><path d="M-22.4,35.3L-19.7,36.6" stroke="#cd4877" class="e"/><path d="M-19.7,36.6L-17.0,37.8" stroke="#cf4c74" class="e"/><path d="M-17.0,37.8L-14.2,38.8" stroke="#d24f72" class="e"/><path d="M-14.2,38.8L-11.3,39.6L-8.4,40.3" stroke="#d4536f"/><path d="M-8.4,40.3L-5.4,40.7" stroke="#d7566d"/><path d="M-5.4,40.7L-2.4,40.8" stroke="#d95a6a"/><path d="M-2.4,40.8L0.6,40.7" stroke="#dc5d67"/><path d="M0.6,40.7L3.6,40.4L6.5,39.9" stroke="#de6165"/><path d="M6.5,39.9L9.5,39.1L12.3,38.2" stroke="#e16462"/><path d="M12.3,38.2L15.1,37.0L17.8,35.7" stroke="#de6165"/><path d="M17.8,35.7L20.4,34.2L22.9,32.5" stroke="#dc5d67"/><path d="M22.9,32.5L25.3,30.6L27.5,28.6" stroke="#d95a6a"/><path d="M27.5,28.6L29.6,26.4L31.5,24.1" stroke="#d7566d"/><path d="M31.5,24.1L33.3,21.7" stroke="#d24f72"/><path d="M33.3,21.7L34.8,19.1" stroke="#cd4877"/><path d="M34.8,19.1L36.3,16.5" stroke="#c7417d"/><path d="M36.3,16.5L37.5,13.7" stroke="#c33e80"/><path d="M37.5,13.7L38.5,10.9" stroke="#bd3785"/><path d="M38.5,10.9L39.3,8.0" stroke="#b6308b"/><path d="M39.3,8.0L39.9,5.1" stroke="#b02991"/><path d="M39.9,5.1L40.4,2.1" stroke="#a72296"/><path d="M40.4,2.1L40.5,-0.9" stroke="#9f1b9a"/><path d="M40.5,-0.9L40.5,-3.9" stroke="#9310a2"/><path d="M40.5,-3.9L40.1,-6.9" stroke="#8b0ba4"/><path d="M40.1,-6.9L39.6,-9.9" stroke="#8208a5"/><path d="M39.6,-9.9L38.8,-12.8" stroke="#7404a7"/><path d="M38.8,-12.8L37.9,-15.6" stroke="#7002a7" class="e"/><path d="M37.9,-15.6L36.8,-18.3" stroke="#6700a7" class="e"/><path d="M36.8,-18.3L35.6,-21.0" stroke="#5d01a4" class="e"/><path d="M-8.9,41.8L-5.9,42.3" stroke="#cd4877"/><path d="M-5.9,42.3L-2.9,42.5" stroke="#cf4c74"/><path d="M-2.9,42.5L0.1,42.4L3.1,42.1" stroke="#d24f72"/><path d="M3.1,42.1L6.1,41.6" stroke="#d4536f"/><path d="M6.1,41.6L9.1,41.0L11.9,40.1L14.8,39.0" stroke="#d7566d"/><path d="M14.8,39.0L17.5,37.7" stroke="#d4536f"/><path d="M17.5,37.7L20.2,36.3L22.7,34.6" stroke="#d24f72"/><path d="M22.7,34.6L25.2,32.9L27.5,30.9" stroke="#cf4c74"/><path d="M27.5,30.9L29.6,28.8L31.7,26.6" stroke="#cd4877"/><path d="M31.7,26.6L33.5,24.2" stroke="#ca457a"/><path d="M33.5,24.2L35.2,21.7" stroke="#c7417d"/><path d="M35.2,21.7L36.8,19.1" stroke="#c03a83"/><path d="M36.8,19.1L38.1,16.4" stroke="#ba3388"/><path d="M38.1,16.4L39.3,13.6" stroke="#b6308b"/><path d="M39.3,13.6L40.3,10.7" stroke="#b02991"/><path d="M40.3,10.7L41.1,7.8" stroke="#ac2593"/><path d="M41.1,7.8L41.6,4.8" stroke="#a31e98"/><path d="M41.6,4.8L42.0,1.8" stroke="#9b179d"/><path d="M42.0,1.8L42.2,-1.2" stroke="#9310a2"/><path d="M42.2,-1.2L42.1,-4.2" stroke="#8b0ba4"/><path d="M42.1,-4.2L41.7,-7.2" stroke="#8208a5"/><path d="M-24.8,37.6L-22.1,39.0L-19.4,40.3" stroke="#b6308b" class="e"/><path d="M-19.4,40.3L-16.6,41.4" stroke="#ba3388" class="e"/><path d="M-16.6,41.4L-13.8,42.3" stroke="#bd3785" class="e"/><path d="M-13.8,42.3L-10.9,43.1" stroke="#bd3785"/><path d="M-10.9,43.1L-7.9,43.7" stroke="#c03a83"/><path d="M-7.9,43.7L-4.9,44.0L-1.9,44.1" stroke="#c33e80"/><path d="M-1.9,44.1L1.2,44.0" stroke="#c7417d"/><path d="M1.2,44.0L4.2,43.7" stroke="#ca457a"/><path d="M4.2,43.7L7.2,43.1L10.1,42.4L13.0,41.4" stroke="#cd4877"/><path d="M13.0,41.4L15.8,40.3L18.6,39.0L21.2,37.6" stroke="#ca457a"/><path d="M21.2,37.6L23.8,35.9L26.2,34.1" stroke="#c7417d"/><path d="M26.2,34.1L28.5,32.2L30.7,30.1" stroke="#c33e80"/><path d="M30.7,30.1L32.8,27.8L34.7,25.4" stroke="#c03a83"/><path d="M34.7,25.4L36.4,23.0" stroke="#ba3388"/><path d="M36.4,23.0L38.0,20.4" stroke="#b6308b"/><path d="M38.0,20.4L39.4,17.7" stroke="#b02991"/><path d="M39.4,17.7L40.6,14.9" stroke="#ac2593"/><path d="M40.6,14.9L41.6,12.0" stroke="#a72296"/><path d="M41.6,12.0L42.4,9.1" stroke="#9f1b9a"/><path d="M42.4,9.1L43.1,6.1" stroke="#9b179d"/><path d="M43.1,6.1L43.6,3.1" stroke="#9310a2"/><path d="M43.6,3.1L43.8,0.1" stroke="#8f0da4"/><path d="M43.8,0.1L43.8,-2.9" stroke="#860aa5"/><path d="M43.8,-2.9L43.6,-5.9" stroke="#7d07a6"/><path d="M43.6,-5.9L43.1,-8.9" stroke="#7404a7"/><path d="M43.1,-8.9L42.4,-11.9" stroke="#7002a7"/><path d="M42.4,-11.9L41.6,-14.7" stroke="#6700a7" class="e"/><path d="M41.6,-14.7L40.6,-17.6" stroke="#6201a6" class="e"/><path d="M40.6,-17.6L39.4,-20.3" stroke="#5d01a4" class="e"/><path d="M39.4,-20.3L38.1,-23.0" stroke="#5302a2" class="e"/><path d="M-6.5,45.4L-3.5,45.7" stroke="#b6308b"/><path d="M-3.5,45.7L-0.5,45.7" stroke="#ba3388"/><path d="M-0.5,45.7L2.5,45.4L5.5,45.0" stroke="#bd3785"/><path d="M5.5,45.0L8.5,44.4L11.4,43.6L14.2,42.7" stroke="#c03a83"/><path d="M14.2,42.7L17.0,41.5L19.7,40.2L22.3,38.7" stroke="#bd3785"/><path d="M22.3,38.7L24.8,37.1L27.2,35.3" stroke="#ba3388"/><path d="M27.2,35.3L29.5,33.3L31.7,31.3L33.7,29.0" stroke="#b6308b"/><path d="M33.7,29.0L35.6,26.7" stroke="#b32c8e"/><path d="M35.6,26.7L37.4,24.3" stroke="#b02991"/><path d="M37.4,24.3L39.0,21.7" stroke="#ac2593"/><path d="M39.0,21.7L40.4,19.0" stroke="#a72296"/><path d="M40.4,19.0L41.6,16.3" stroke="#9f1b9a"/><path d="M41.6,16.3L42.7,13.5" stroke="#9b179d"/><path d="M42.7,13.5L43.6,10.6" stroke="#97149f"/><path d="M43.6,10.6L44.4,7.7" stroke="#9310a2"/><path d="M44.4,7.7L44.9,4.8" stroke="#8f0da4"/><path d="M44.9,4.8L45.3,1.8" stroke="#860aa5"/><path d="M45.3,1.8L45.4,-1.2" stroke="#8208a5"/><path d="M45.4,-1.2L45.3,-4.2" stroke="#7d07a6"/><path d="M-27.1,39.9L-24.5,41.4L-21.8,42.7" stroke="#9b179d" class="e"/><path d="M-21.8,42.7L-19.0,43.9L-16.2,44.9" stroke="#9f1b9a" class="e"/><path d="M-16.2,44.9L-13.3,45.7L-10.4,46.4" stroke="#a31e98"/><path d="M-10.4,46.4L-7.4,46.9L-4.3,47.2" stroke="#a72296"/><path d="M-4.3,47.2L-1.3,47.2" stroke="#ac2593"/><path d="M-1.3,47.2L1.7,47.1L4.8,46.7" stroke="#b02991"/><path d="M4.8,46.7L7.7,46.1L10.7,45.4L13.6,44.5L16.4,43.4" stroke="#b32c8e"/><path d="M16.4,43.4L19.2,42.2L21.9,40.8L24.5,39.2" stroke="#b02991"/><path d="M24.5,39.2L27.0,37.4L29.4,35.5L31.6,33.5" stroke="#ac2593"/><path d="M31.6,33.5L33.8,31.3L35.8,29.0" stroke="#a72296"/><path d="M35.8,29.0L37.6,26.6" stroke="#a31e98"/><path d="M37.6,26.6L39.3,24.1" stroke="#9f1b9a"/><path d="M39.3,24.1L40.9,21.5" stroke="#9b179d"/><path d="M40.9,21.5L42.2,18.8" stroke="#97149f"/><path d="M42.2,18.8L43.4,16.0" stroke="#9310a2"/><path d="M43.4,16.0L44.5,13.1" stroke="#8f0da4"/><path d="M44.5,13.1L45.4,10.2" stroke="#8b0ba4"/><path d="M45.4,10.2L46.0,7.3" stroke="#860aa5"/><path d="M46.0,7.3L46.5,4.3" stroke="#8208a5"/><path d="M46.5,4.3L46.8,1.2" stroke="#7d07a6"/><path d="M46.8,1.2L46.9,-1.8" stroke="#7905a6"/><path d="M46.9,-1.8L46.8,-4.8" stroke="#7404a7"/><path d="M46.8,-4.8L46.5,-7.8" stroke="#6b01a8"/><path d="M46.5,-7.8L45.9,-10.8" stroke="#6700a7"/><path d="M45.9,-10.8L45.2,-13.8" stroke="#6201a6"/><path d="M45.2,-13.8L44.3,-16.6" stroke="#5d01a4" class="e"/><path d="M44.3,-16.6L43.2,-19.4" stroke="#5802a3" class="e"/><path d="M43.2,-19.4L42.0,-22.2" stroke="#5302a2" class="e"/><path d="M42.0,-22.2L40.7,-24.9" stroke="#4e03a1" class="e"/><path d="M-13.2,47.3L-10.3,48.0" stroke="#97149f"/><path d="M-10.3,48.0L-7.3,48.4L-4.4,48.6" stroke="#9b179d"/><path d="M-4.4,48.6L-1.4,48.7L1.6,48.5" stroke="#9f1b9a"/><path d="M1.6,48.5L4.6,48.2L7.6,47.7" stroke="#a31e98"/><path d="M7.6,47.7L10.5,47.0L13.4,46.1" stroke="#a72296"/><path d="M13.4,46.1L16.2,45.1L19.0,43.9L21.6,42.5" stroke="#a31e98"/><path d="M21.6,42.5L24.2,41.0L26.7,39.4L29.1,37.6L31.4,35.6" stroke="#9f1b9a"/><path d="M31.4,35.6L33.6,33.6L35.7,31.4L37.6,29.1" stroke="#9b179d"/><path d="M37.6,29.1L39.4,26.7" stroke="#97149f"/><path d="M39.4,26.7L41.0,24.1" stroke="#9310a2"/><path d="M41.0,24.1L42.5,21.5" stroke="#8f0da4"/><path d="M42.5,21.5L43.8,18.8L45.0,16.1" stroke="#8b0ba4"/><path d="M45.0,16.1L46.0,13.2" stroke="#860aa5"/><path d="M46.0,13.2L46.8,10.4" stroke="#8208a5"/><path d="M46.8,10.4L47.5,7.4" stroke="#7d07a6"/><path d="M47.5,7.4L48.0,4.5" stroke="#7905a6"/><path d="M48.0,4.5L48.3,1.5" stroke="#7404a7"/><path d="M48.3,1.5L48.4,-1.5" stroke="#7002a7"/><path d="M48.4,-1.5L48.3,-4.5" stroke="#6b01a8"/><path d="M48.3,-4.5L48.0,-7.5" stroke="#6700a7"/><path d="M48.0,-7.5L47.5,-10.4" stroke="#6201a6"/><path d="M-29.5,42.2L-26.8,43.7L-24.2,45.1" stroke="#860aa5" class="e"/><path d="M-24.2,45.1L-21.4,46.3L-18.6,47.3" stroke="#8b0ba4" class="e"/><path d="M-18.6,47.3L-15.7,48.2" stroke="#8b0ba4"/><path d="M-15.7,48.2L-12.8,49.0L-9.8,49.5" stroke="#8f0da4"/><path d="M-9.8,49.5L-6.8,49.9L-3.8,50.1" stroke="#9310a2"/><path d="M-3.8,50.1L-0.7,50.1L2.3,49.9L5.3,49.5" stroke="#97149f"/><path d="M5.3,49.5L8.3,49.0L11.2,48.3L14.1,47.4L17.0,46.3L19.7,45.1" stroke="#9b179d"/><path d="M19.7,45.1L22.4,43.7L25.1,42.2L27.6,40.5" stroke="#97149f"/><path d="M27.6,40.5L30.0,38.7L32.3,36.8L34.5,34.7L36.6,32.5" stroke="#9310a2"/><path d="M36.6,32.5L38.6,30.2L40.4,27.7" stroke="#8f0da4"/><path d="M40.4,27.7L42.0,25.2" stroke="#8b0ba4"/><path d="M42.0,25.2L43.6,22.6L44.9,19.9" stroke="#860aa5"/><path d="M44.9,19.9L46.1,17.1" stroke="#8208a5"/><path d="M46.1,17.1L47.2,14.2" stroke="#7d07a6"/><path d="M47.2,14.2L48.0,11.3L48.7,8.4" stroke="#7905a6"/><path d="M48.7,8.4L49.3,5.4" stroke="#7404a7"/><path d="M49.3,5.4L49.6,2.4" stroke="#7002a7"/><path d="M49.6,2.4L49.8,-0.6" stroke="#6b01a8"/><path d="M49.8,-0.6L49.8,-3.7" stroke="#6700a7"/><path d="M49.8,-3.7L49.6,-6.7L49.2,-9.7" stroke="#6201a6"/><path d="M49.2,-9.7L48.6,-12.6" stroke="#5d01a4"/><path d="M48.6,-12.6L47.9,-15.6" stroke="#5802a3"/><path d="M47.9,-15.6L47.0,-18.4L45.9,-21.3" stroke="#5302a2" class="e"/><path d="M45.9,-21.3L44.7,-24.0" stroke="#4e03a1" class="e"/><path d="M44.7,-24.0L43.4,-26.7" stroke="#49039f" class="e"/><path d="M-10.4,50.9L-7.4,51.2L-4.4,51.4L-1.3,51.5" stroke="#8b0ba4"/><path d="M-1.3,51.5L1.7,51.3L4.7,51.0L7.7,50.5" stroke="#8f0da4"/><path d="M7.7,50.5L10.6,49.8L13.6,49.0" stroke="#9310a2"/><path d="M13.6,49.0L16.4,48.0L19.2,46.8L21.9,45.5L24.6,44.1" stroke="#8f0da4"/><path d="M24.6,44.1L27.2,42.5L29.6,40.7L32.0,38.8L34.3,36.8L36.4,34.7" stroke="#8b0ba4"/><path d="M36.4,34.7L38.4,32.4L40.3,30.1" stroke="#860aa5"/><path d="M40.3,30.1L42.1,27.6L43.7,25.0" stroke="#8208a5"/><path d="M43.7,25.0L45.2,22.4" stroke="#7d07a6"/><path d="M45.2,22.4L46.5,19.6L47.7,16.8" stroke="#7905a6"/><path d="M47.7,16.8L48.7,14.0L49.5,11.1" stroke="#7404a7"/><path d="M49.5,11.1L50.2,8.1" stroke="#7002a7"/><path d="M50.2,8.1L50.7,5.1L51.0,2.1" stroke="#6b01a8"/><path d="M51.0,2.1L51.2,-0.9" stroke="#6700a7"/><path d="M51.2,-0.9L51.2,-3.9" stroke="#6201a6"/><path d="M51.2,-3.9L51.0,-6.9" stroke="#5d01a4"/><path d="M-31.8,44.5L-29.2,46.0L-26.5,47.4" stroke="#7404a7" class="e"/><path d="M-26.5,47.4L-23.8,48.6L-20.9,49.7" stroke="#7905a6" class="e"/><path d="M-20.9,49.7L-18.1,50.6" stroke="#7905a6"/><path d="M-18.1,50.6L-15.2,51.4L-12.2,52.0L-9.2,52.4L-6.2,52.7" stroke="#7d07a6"/><path d="M-6.2,52.7L-3.2,52.8L-0.2,52.8L2.8,52.6" stroke="#8208a5"/><path d="M2.8,52.6L5.8,52.2L8.7,51.6L11.7,50.9L14.5,50.1L17.4,49.1L20.2,47.9" stroke="#860aa5"/><path d="M20.2,47.9L22.9,46.6L25.5,45.1L28.0,43.5L30.5,41.8L32.9,39.9" stroke="#8208a5"/><path d="M32.9,39.9L35.1,37.9L37.2,35.8L39.3,33.5L41.2,31.2" stroke="#7d07a6"/><path d="M41.2,31.2L42.9,28.8L44.6,26.2" stroke="#7905a6"/><path d="M44.6,26.2L46.0,23.6L47.4,20.9" stroke="#7404a7"/><path d="M47.4,20.9L48.6,18.2L49.6,15.3" stroke="#7002a7"/><path d="M49.6,15.3L50.5,12.5" stroke="#6b01a8"/><path d="M50.5,12.5L51.2,9.5L51.8,6.6" stroke="#6700a7"/><path d="M51.8,6.6L52.2,3.6L52.5,0.6" stroke="#6201a6"/><path d="M52.5,0.6L52.5,-2.4L52.5,-5.4" stroke="#5d01a4"/><path d="M52.5,-5.4L52.2,-8.4" stroke="#5802a3"/><path d="M52.2,-8.4L51.8,-11.4L51.2,-14.4" stroke="#5302a2"/><path d="M51.2,-14.4L50.5,-17.3" stroke="#4e03a1"/><path d="M50.5,-17.3L49.6,-20.2" stroke="#4e03a1" class="e"/><path d="M49.6,-20.2L48.6,-23.0L47.4,-25.7L46.0,-28.4" stroke="#49039f" class="e"/></g>
<use href="#grid"/><circle r="0.9" fill="#222"/>
<use href="#oval"/>
<g font-size="14">
<text x="-12.2" y="-59.09">-60</text>
<text x="-12.2" y="-37.41">-70</text>
<text x="-12.2" y="-15.73">-80</text>
<text x="66.2" y="-35.1">120</text><text x="67.5" y="45.9">60</text>
<text x="-68.7" y="-35.1" text-anchor="end">240</text><text x="-66.9" y="45.9" text-anchor="end">300</text>
</g>
<g font-size="16.15" text-anchor="middle"><text x="0" y="-98.6">jup.8014.02</text><text x="0" y="-81.7">2017-03-18 11:08 UT</text></g>
</g>
<g transform="translate(507.55,528.90)">
<g fill="none" stroke-width="2.60" stroke-linejoin="round" stroke-linecap="round"><path d="M-1.8,-16.8L0.9,-16.0" stroke="#7d07a6"/><path d="M0.9,-16.0L3.5,-14.8" stroke="#8b0ba4"/><path d="M3.5,-14.8L6.0,-13.4" stroke="#97149f"/><path d="M6.0,-13.4L8.2,-11.6" stroke="#a31e98"/><path d="M8.2,-11.6L10.2,-9.6" stroke="#b02991"/><path d="M10.2,-9.6L12.0,-7.3" stroke="#bd3785"/><path d="M12.0,-7.3L13.4,-4.8" stroke="#cd4877"/><path d="M13.4,-4.8L14.6,-2.2" stroke="#d95a6a"/><path d="M14.6,-2.2L15.4,0.5" stroke="#de6165"/><path d="M15.4,0.5L15.9,3.3" stroke="#d24f72"/><path d="M-5.9,-21.7L-2.9,-21.3" stroke="#7404a7"/><path d="M-2.9,-21.3L0.1,-20.7" stroke="#7d07a6"/><path d="M0.1,-20.7L3.0,-19.7" stroke="#860aa5"/><path d="M3.0,-19.7L5.8,-18.4" stroke="#8f0da4"/><path d="M5.8,-18.4L8.4,-16.8" stroke="#9b179d"/><path d="M8.4,-16.8L10.8,-14.9" stroke="#a72296"/><path d="M10.8,-14.9L13.0,-12.8" stroke="#b6308b"/><path d="M13.0,-12.8L14.9,-10.4" stroke="#cd4877"/><path d="M14.9,-10.4L16.6,-7.8" stroke="#e3685f"/><path d="M16.6,-7.8L17.9,-5.1" stroke="#f48b47"/><path d="M17.9,-5.1L19.0,-2.2" stroke="#fca835"/><path d="M19.0,-2.2L19.7,0.7" stroke="#fcbb2d"/><path d="M19.7,0.7L20.1,3.8" stroke="#fba338"/><path d="M20.1,3.8L20.2,6.8" stroke="#eb7754"/><path d="M-9.5,-25.6L-6.5,-25.7" stroke="#6b01a8"/><path d="M-6.5,-25.7L-3.6,-25.5" stroke="#7404a7"/><path d="M-3.6,-25.5L-0.7,-25.0" stroke="#7905a6"/><path d="M-0.7,-25.0L2.2,-24.2" stroke="#7d07a6"/><path d="M2.2,-24.2L4.9,-23.2" stroke="#860aa5"/><path d="M4.9,-23.2L7.6,-21.9" stroke="#8b0ba4"/><path d="M7.6,-21.9L10.1,-20.4" stroke="#97149f"/><path d="M10.1,-20.4L12.5,-18.7" stroke="#a31e98"/><path d="M12.5,-18.7L14.7,-16.7" stroke="#b02991"/><path d="M14.7,-16.7L16.7,-14.5" stroke="#ba3388"/><path d="M16.7,-14.5L18.5,-12.2" stroke="#d4536f"/><path d="M18.5,-12.2L20.1,-9.7" stroke="#e97357"/><path d="M20.1,-9.7L21.4,-7.0" stroke="#f69342"/><path d="M21.4,-7.0L22.5,-4.3" stroke="#fcac33"/><path d="M22.5,-4.3L23.3,-1.4" stroke="#fcc927"/><path d="M23.3,-1.4L23.9,1.5" stroke="#f9d824"/><path d="M23.9,1.5L24.2,4.4" stroke="#fcce25"/><path d="M24.2,4.4L24.1,7.4" stroke="#fcc429"/><path d="M24.1,7.4L23.9,10.3" stroke="#f48b47"/><path d="M-12.5,-29.1L-9.6,-29.4" stroke="#6201a6"/><path d="M-9.6,-29.4L-6.6,-29.4" stroke="#6700a7"/><path d="M-6.6,-29.4L-3.6,-29.3" stroke="#6b01a8"/><path d="M-3.6,-29.3L-0.7,-28.8" stroke="#7002a7"/><path d="M-0.7,-28.8L2.2,-28.1" stroke="#7404a7"/><path d="M2.2,-28.1L5.1,-27.2" stroke="#7905a6"/><path d="M5.1,-27.2L7.8,-26.1" stroke="#7d07a6"/><path d="M7.8,-26.1L10.4,-24.7" stroke="#8208a5"/><path d="M10.4,-24.7L12.9,-23.1" stroke="#8f0da4"/><path d="M12.9,-23.1L15.3,-21.3" stroke="#97149f"/><path d="M15.3,-21.3L17.5,-19.2" stroke="#a31e98"/><path d="M17.5,-19.2L19.5,-17.1" stroke="#ac2593"/><path d="M19.5,-17.1L21.4,-14.7" stroke="#c33e80"/><path d="M21.4,-14.7L23.0,-12.2" stroke="#d7566d"/><path d="M23.0,-12.2L24.4,-9.6" stroke="#e7705a"/><path d="M24.4,-9.6L25.6,-6.9" stroke="#f38749"/><path d="M25.6,-6.9L26.6,-4.0" stroke="#f99b3d"/><path d="M26.6,-4.0L27.3,-1.1" stroke="#fcb62f"/><path d="M27.3,-1.1L27.7,1.8" stroke="#fcc927"/><path d="M27.7,1.8L27.9,4.8" stroke="#fcc429"/><path d="M27.9,4.8L27.9,7.7" stroke="#fcc02b"/><path d="M27.9,7.7L27.6,10.7" stroke="#fca835"/><path d="M27.6,10.7L27.1,13.6" stroke="#ef7f4f"/><path d="M-15.2,-32.2L-12.3,-32.7" stroke="#5802a3" class="e"/><path d="M-12.3,-32.7L-9.3,-33.0" stroke="#5d01a4" class="e"/><path d="M-9.3,-33.0L-6.3,-33.0" stroke="#5d01a4"/><path d="M-6.3,-33.0L-3.4,-32.8L-0.4,-32.4" stroke="#6201a6"/><path d="M-0.4,-32.4L2.4,-31.8" stroke="#6700a7"/><path d="M2.4,-31.8L5.3,-30.9L8.1,-29.9" stroke="#6b01a8"/><path d="M8.1,-29.9L10.7,-28.6" stroke="#7002a7"/><path d="M10.7,-28.6L13.3,-27.1" stroke="#7905a6"/><path d="M13.3,-27.1L15.7,-25.5" stroke="#8208a5"/><path d="M15.7,-25.5L18.1,-23.6" stroke="#860aa5"/><path d="M18.1,-23.6L20.2,-21.6" stroke="#8f0da4"/><path d="M20.2,-21.6L22.2,-19.4" stroke="#97149f"/><path d="M22.2,-19.4L24.1,-17.1" stroke="#ac2593"/><path d="M24.1,-17.1L25.7,-14.6" stroke="#ba3388"/><path d="M25.7,-14.6L27.2,-12.0" stroke="#ca457a"/><path d="M27.2,-12.0L28.5,-9.4" stroke="#d7566d"/><path d="M28.5,-9.4L29.5,-6.6" stroke="#e16462"/><path d="M29.5,-6.6L30.3,-3.7" stroke="#e97357"/><path d="M30.3,-3.7L31.0,-0.8" stroke="#ef7f4f"/><path d="M31.0,-0.8L31.4,2.1L31.5,5.1" stroke="#f58f44"/><path d="M31.5,5.1L31.5,8.0" stroke="#f48b47"/><path d="M31.5,8.0L31.2,11.0" stroke="#f38749"/><path d="M31.2,11.0L30.7,13.9" stroke="#e97357" class="e"/><path d="M30.7,13.9L30.0,16.8" stroke="#d95a6a" class="e"/><path d="M-17.5,-35.2L-14.5,-35.8L-11.5,-36.2L-8.5,-36.4" stroke="#5302a2" class="e"/><path d="M-8.5,-36.4L-5.5,-36.4L-2.5,-36.1" stroke="#5802a3"/><path d="M-2.5,-36.1L0.5,-35.7L3.5,-35.0" stroke="#5d01a4"/><path d="M3.5,-35.0L6.4,-34.2L9.2,-33.1" stroke="#6201a6"/><path d="M9.2,-33.1L11.9,-31.8" stroke="#6700a7"/><path d="M11.9,-31.8L14.6,-30.3" stroke="#6b01a8"/><path d="M14.6,-30.3L17.1,-28.7" stroke="#7002a7"/><path d="M17.1,-28.7L19.5,-26.8" stroke="#7404a7"/><path d="M19.5,-26.8L21.8,-24.8" stroke="#7905a6"/><path d="M21.8,-24.8L23.9,-22.7" stroke="#7d07a6"/><path d="M23.9,-22.7L25.8,-20.4" stroke="#860aa5"/><path d="M25.8,-20.4L27.6,-17.9" stroke="#9310a2"/><path d="M27.6,-17.9L29.2,-15.4" stroke="#9f1b9a"/><path d="M29.2,-15.4L30.7,-12.7" stroke="#ac2593"/><path d="M30.7,-12.7L31.9,-9.9" stroke="#b6308b"/><path d="M31.9,-9.9L32.9,-7.1" stroke="#bd3785"/><path d="M32.9,-7.1L33.7,-4.2" stroke="#c7417d"/><path d="M33.7,-4.2L34.3,-1.2" stroke="#cd4877"/><path d="M34.3,-1.2L34.7,1.8" stroke="#d24f72"/><path d="M34.7,1.8L34.9,4.8L34.9,7.8" stroke="#d4536f"/><path d="M34.9,7.8L34.6,10.8" stroke="#d24f72"/><path d="M34.6,10.8L34.2,13.8" stroke="#d24f72" class="e"/><path d="M34.2,13.8L33.5,16.8" stroke="#c7417d" class="e"/><path d="M33.5,16.8L32.6,19.7" stroke="#ba3388" class="e"/><path d="M-19.5,-37.9L-16.6,-38.6" stroke="#49039f" class="e"/><path d="M-16.6,-38.6L-13.7,-39.1L-10.8,-39.4" stroke="#4e03a1" class="e"/><path d="M-10.8,-39.4L-7.8,-39.6L-4.9,-39.5" stroke="#4e03a1"/><path d="M-4.9,-39.5L-1.9,-39.3L1.0,-38.9L3.9,-38.2" stroke="#5302a2"/><path d="M3.9,-38.2L6.7,-37.4L9.5,-36.4L12.2,-35.2" stroke="#5802a3"/><path d="M12.2,-35.2L14.9,-33.9" stroke="#5d01a4"/><path d="M14.9,-33.9L17.4,-32.3L19.8,-30.6" stroke="#6201a6"/><path d="M19.8,-30.6L22.1,-28.8" stroke="#6700a7"/><path d="M22.1,-28.8L24.3,-26.8L26.4,-24.7" stroke="#6b01a8"/><path d="M26.4,-24.7L28.3,-22.4" stroke="#7404a7"/><path d="M28.3,-22.4L30.1,-20.0" stroke="#7d07a6"/><path d="M30.1,-20.0L31.7,-17.5" stroke="#8208a5"/><path d="M31.7,-17.5L33.1,-15.0" stroke="#8b0ba4"/><path d="M33.1,-15.0L34.4,-12.3" stroke="#9310a2"/><path d="M34.4,-12.3L35.5,-9.5" stroke="#9b179d"/><path d="M35.5,-9.5L36.4,-6.7" stroke="#9f1b9a"/><path d="M36.4,-6.7L37.1,-3.8" stroke="#a31e98"/><path d="M37.1,-3.8L37.6,-0.9" stroke="#ac2593"/><path d="M37.6,-0.9L38.0,2.0" stroke="#b02991"/><path d="M38.0,2.0L38.1,5.0L38.1,7.9" stroke="#b32c8e"/><path d="M38.1,7.9L37.8,10.9L37.4,13.8" stroke="#b02991"/><path d="M37.4,13.8L36.7,16.7" stroke="#ac2593" class="e"/><path d="M36.7,16.7L35.9,19.5" stroke="#9f1b9a" class="e"/><path d="M35.9,19.5L34.9,22.3" stroke="#97149f" class="e"/><path d="M-21.1,-40.1L-18.2,-40.9L-15.3,-41.6" stroke="#44049e" class="e"/><path d="M-15.3,-41.6L-12.3,-42.1" stroke="#49039f" class="e"/><path d="M-12.3,-42.1L-9.3,-42.4L-6.2,-42.5L-3.2,-42.4L-0.2,-42.1L2.8,-41.6" stroke="#49039f"/><path d="M2.8,-41.6L5.8,-40.9L8.7,-40.0L11.6,-38.9L14.3,-37.6" stroke="#4e03a1"/><path d="M14.3,-37.6L17.0,-36.1L19.6,-34.5" stroke="#5302a2"/><path d="M19.6,-34.5L22.1,-32.8L24.4,-30.8" stroke="#5802a3"/><path d="M24.4,-30.8L26.7,-28.8L28.8,-26.6" stroke="#5d01a4"/><path d="M28.8,-26.6L30.8,-24.2" stroke="#6201a6"/><path d="M30.8,-24.2L32.6,-21.8" stroke="#6700a7"/><path d="M32.6,-21.8L34.2,-19.2" stroke="#6b01a8"/><path d="M34.2,-19.2L35.7,-16.6" stroke="#7002a7"/><path d="M35.7,-16.6L37.0,-13.8" stroke="#7404a7"/><path d="M37.0,-13.8L38.2,-11.0" stroke="#7905a6"/><path d="M38.2,-11.0L39.1,-8.1" stroke="#7d07a6"/><path d="M39.1,-8.1L39.9,-5.2" stroke="#8208a5"/><path d="M39.9,-5.2L40.5,-2.2" stroke="#860aa5"/><path d="M40.5,-2.2L40.9,0.9L41.1,3.9" stroke="#8b0ba4"/><path d="M41.1,3.9L41.1,6.9" stroke="#8f0da4"/><path d="M41.1,6.9L40.8,10.0L40.4,13.0L39.8,15.9" stroke="#8b0ba4"/><path d="M39.8,15.9L38.9,18.9" stroke="#860aa5" class="e"/><path d="M38.9,18.9L38.0,21.7" stroke="#7d07a6" class="e"/><path d="M38.0,21.7L36.9,24.5" stroke="#7905a6" class="e"/><path d="M-22.7,-42.4L-19.8,-43.3L-16.9,-44.0L-14.0,-44.6L-11.0,-45.0" stroke="#44049e" class="e"/><path d="M-11.0,-45.0L-8.0,-45.3L-5.0,-45.3L-1.9,-45.2L1.1,-44.9L4.1,-44.3L7.0,-43.5" stroke="#44049e"/><path d="M7.0,-43.5L9.9,-42.6L12.7,-41.5L15.5,-40.2L18.2,-38.8" stroke="#49039f"/><path d="M18.2,-38.8L20.8,-37.2L23.3,-35.5L25.6,-33.6" stroke="#4e03a1"/><path d="M25.6,-33.6L27.9,-31.6L30.1,-29.5L32.1,-27.2" stroke="#5302a2"/><path d="M32.1,-27.2L34.0,-24.8" stroke="#5802a3"/><path d="M34.0,-24.8L35.7,-22.3L37.3,-19.7" stroke="#5d01a4"/><path d="M37.3,-19.7L38.7,-17.0" stroke="#6201a6"/><path d="M38.7,-17.0L40.0,-14.3" stroke="#6700a7"/><path d="M40.0,-14.3L41.1,-11.5L42.0,-8.6" stroke="#6b01a8"/><path d="M42.0,-8.6L42.8,-5.6L43.4,-2.7" stroke="#7002a7"/><path d="M43.4,-2.7L43.8,0.3L44.0,3.4" stroke="#7404a7"/><path d="M44.0,3.4L44.0,6.4" stroke="#7905a6"/><path d="M44.0,6.4L43.8,9.4L43.3,12.4L42.7,15.4" stroke="#7404a7"/><path d="M42.7,15.4L42.0,18.3L41.0,21.1" stroke="#7002a7" class="e"/><path d="M41.0,21.1L40.0,23.9" stroke="#6b01a8" class="e"/><path d="M40.0,23.9L38.8,26.7" stroke="#6700a7" class="e"/><path d="M-8.6,-46.6L-5.6,-46.7L-2.5,-46.6L0.5,-46.3L3.5,-45.8L6.5,-45.1L9.4,-44.2L12.3,-43.2" stroke="#44049e"/><path d="M12.3,-43.2L15.1,-41.9L17.9,-40.5L20.5,-39.0" stroke="#49039f"/><path d="M20.5,-39.0L23.1,-37.3L25.5,-35.5L27.9,-33.5L30.1,-31.4" stroke="#4e03a1"/><path d="M30.1,-31.4L32.2,-29.2L34.1,-26.8" stroke="#5302a2"/><path d="M34.1,-26.8L36.0,-24.4L37.6,-21.8" stroke="#5802a3"/><path d="M37.6,-21.8L39.2,-19.1" stroke="#5d01a4"/><path d="M39.2,-19.1L40.5,-16.4L41.7,-13.6" stroke="#6201a6"/><path d="M41.7,-13.6L42.8,-10.7" stroke="#6700a7"/><path d="M42.8,-10.7L43.7,-7.8L44.4,-4.8L44.9,-1.8" stroke="#6b01a8"/><path d="M44.9,-1.8L45.2,1.3L45.4,4.3" stroke="#7002a7"/><path d="M45.4,4.3L45.3,7.4" stroke="#7404a7"/><path d="M45.3,7.4L45.0,10.4L44.5,13.5" stroke="#7002a7"/><path d="M-24.2,-44.7L-21.3,-45.6L-18.5,-46.3L-15.6,-47.0L-12.6,-47.5" stroke="#3f049c" class="e"/><path d="M-12.6,-47.5L-9.7,-47.9L-6.7,-48.0L-3.6,-48.1L-0.6,-47.9L2.3,-47.4L5.3,-46.8L8.2,-46.0L11.1,-45.1L13.9,-44.0L16.6,-42.7" stroke="#44049e"/><path d="M16.6,-42.7L19.3,-41.3L21.9,-39.8L24.4,-38.1" stroke="#49039f"/><path d="M24.4,-38.1L26.8,-36.2L29.0,-34.3L31.2,-32.2L33.3,-30.0" stroke="#4e03a1"/><path d="M33.3,-30.0L35.2,-27.7L37.0,-25.3" stroke="#5302a2"/><path d="M37.0,-25.3L38.7,-22.7L40.2,-20.1" stroke="#5802a3"/><path d="M40.2,-20.1L41.6,-17.4" stroke="#5d01a4"/><path d="M41.6,-17.4L42.8,-14.7L43.8,-11.9" stroke="#6201a6"/><path d="M43.8,-11.9L44.7,-9.0L45.5,-6.1L46.1,-3.1" stroke="#6700a7"/><path d="M46.1,-3.1L46.5,-0.1L46.7,2.9" stroke="#6b01a8"/><path d="M46.7,2.9L46.8,5.9L46.6,8.9" stroke="#7002a7"/><path d="M46.6,8.9L46.2,11.9L45.6,14.8L44.9,17.7" stroke="#6b01a8"/><path d="M44.9,17.7L44.0,20.6" stroke="#6b01a8" class="e"/><path d="M44.0,20.6L43.0,23.4" stroke="#6700a7" class="e"/><path d="M43.0,23.4L41.9,26.1" stroke="#6201a6" class="e"/><path d="M41.9,26.1L40.7,28.8" stroke="#5d01a4" class="e"/><path d="M-5.3,-49.4L-2.3,-49.3L0.7,-49.0L3.7,-48.5L6.6,-47.8L9.5,-47.0L12.3,-46.0L15.1,-44.9L17.8,-43.6" stroke="#44049e"/><path d="M17.8,-43.6L20.5,-42.1L23.0,-40.6L25.5,-38.9L27.9,-37.0L30.1,-35.0" stroke="#49039f"/><path d="M30.1,-35.0L32.3,-33.0L34.3,-30.8L36.3,-28.4" stroke="#4e03a1"/><path d="M36.3,-28.4L38.0,-26.0L39.7,-23.5" stroke="#5302a2"/><path d="M39.7,-23.5L41.2,-20.9L42.6,-18.3" stroke="#5802a3"/><path d="M42.6,-18.3L43.8,-15.5L44.9,-12.7" stroke="#5d01a4"/><path d="M44.9,-12.7L45.8,-9.9L46.6,-7.0L47.2,-4.0" stroke="#6201a6"/><path d="M47.2,-4.0L47.7,-1.1L48.0,1.9" stroke="#6700a7"/><path d="M48.0,1.9L48.1,4.9L48.0,7.9L47.7,10.9" stroke="#6b01a8"/><path d="M-25.6,-47.0L-22.7,-47.9L-19.8,-48.7L-16.9,-49.4L-13.9,-50.0" stroke="#3f049c" class="e"/><path d="M-13.9,-50.0L-10.9,-50.4L-7.9,-50.6L-4.8,-50.7L-1.8,-50.6L1.2,-50.2L4.3,-49.7" stroke="#3f049c"/><path d="M4.3,-49.7L7.2,-49.0L10.2,-48.1L13.0,-47.1L15.9,-46.0L18.6,-44.6L21.3,-43.2L23.9,-41.5" stroke="#44049e"/><path d="M23.9,-41.5L26.4,-39.8L28.8,-37.9L31.1,-35.9L33.3,-33.8" stroke="#49039f"/><path d="M33.3,-33.8L35.4,-31.5L37.3,-29.2L39.2,-26.7" stroke="#4e03a1"/><path d="M39.2,-26.7L40.8,-24.2L42.4,-21.5" stroke="#5302a2"/><path d="M42.4,-21.5L43.8,-18.8L45.0,-16.0" stroke="#5802a3"/><path d="M45.0,-16.0L46.1,-13.2L47.1,-10.3L47.9,-7.3" stroke="#5d01a4"/><path d="M47.9,-7.3L48.5,-4.3L49.0,-1.3L49.3,1.8" stroke="#6201a6"/><path d="M49.3,1.8L49.4,4.8L49.3,7.9L49.0,10.9L48.5,13.9" stroke="#6700a7"/><path d="M48.5,13.9L47.9,16.9L47.1,19.8" stroke="#6201a6"/><path d="M47.1,19.8L46.1,22.7" stroke="#6201a6" class="e"/><path d="M46.1,22.7L45.0,25.5L43.8,28.3" stroke="#5d01a4" class="e"/><path d="M43.8,28.3L42.5,31.0" stroke="#5802a3" class="e"/><path d="M-11.7,-51.6L-8.6,-51.8L-5.6,-51.9L-2.5,-51.9L0.6,-51.6L3.6,-51.1L6.6,-50.4L9.6,-49.6L12.5,-48.6" stroke="#3f049c"/><path d="M12.5,-48.6L15.4,-47.5L18.2,-46.2L20.9,-44.8L23.6,-43.2L26.1,-41.5L28.6,-39.7" stroke="#44049e"/><path d="M28.6,-39.7L31.0,-37.7L33.2,-35.6L35.4,-33.4L37.4,-31.1" stroke="#49039f"/><path d="M37.4,-31.1L39.3,-28.6L41.0,-26.1L42.7,-23.5" stroke="#4e03a1"/><path d="M42.7,-23.5L44.2,-20.8L45.5,-18.0" stroke="#5302a2"/><path d="M45.5,-18.0L46.7,-15.2L47.7,-12.3L48.6,-9.3" stroke="#5802a3"/><path d="M48.6,-9.3L49.3,-6.3L49.9,-3.3L50.3,-0.3" stroke="#5d01a4"/><path d="M50.3,-0.3L50.6,2.8L50.6,5.9L50.5,9.0L50.1,12.0L49.6,15.1" stroke="#6201a6"/><path d="M49.6,15.1L48.9,18.0" stroke="#5d01a4"/><path d="M-27.0,-49.2L-24.2,-50.2L-21.3,-51.0" stroke="#390599" class="e"/><path d="M-21.3,-51.0L-18.4,-51.7L-15.4,-52.3" stroke="#3f049c" class="e"/><path d="M-15.4,-52.3L-12.5,-52.8L-9.5,-53.1L-6.5,-53.2L-3.5,-53.1L-0.4,-52.9L2.5,-52.5L5.5,-52.0L8.4,-51.2L11.3,-50.3L14.2,-49.3L17.0,-48.2" stroke="#3f049c"/><path d="M17.0,-48.2L19.7,-46.8L22.3,-45.4L24.9,-43.8L27.4,-42.1L29.8,-40.3L32.1,-38.3" stroke="#44049e"/><path d="M32.1,-38.3L34.3,-36.3L36.4,-34.1L38.4,-31.8L40.2,-29.4" stroke="#49039f"/><path d="M40.2,-29.4L42.0,-26.9L43.6,-24.4L45.1,-21.8" stroke="#4e03a1"/><path d="M45.1,-21.8L46.4,-19.0L47.6,-16.3L48.6,-13.4L49.6,-10.6" stroke="#5302a2"/><path d="M49.6,-10.6L50.3,-7.6L50.9,-4.7L51.4,-1.7L51.7,1.3" stroke="#5802a3"/><path d="M51.7,1.3L51.8,4.3L51.8,7.3L51.6,10.4L51.2,13.3L50.6,16.3L49.9,19.2" stroke="#5d01a4"/><path d="M49.9,19.2L49.1,22.1" stroke="#5802a3"/><path d="M49.1,22.1L48.1,24.9L47.0,27.7" stroke="#5802a3" class="e"/><path d="M47.0,27.7L45.7,30.4L44.4,33.1" stroke="#5302a2" class="e"/><path d="M-7.9,-54.4L-4.9,-54.4L-1.9,-54.2L1.1,-53.9L4.0,-53.5L6.9,-52.8L9.8,-52.0L12.7,-51.1L15.5,-50.1L18.2,-48.9L20.9,-47.5L23.5,-46.1" stroke="#3f049c"/><path d="M23.5,-46.1L26.0,-44.5L28.5,-42.8L30.9,-40.9L33.1,-39.0L35.3,-36.9L37.4,-34.7" stroke="#44049e"/><path d="M37.4,-34.7L39.3,-32.5L41.2,-30.1L42.9,-27.7L44.5,-25.1" stroke="#49039f"/><path d="M44.5,-25.1L46.0,-22.5L47.3,-19.9L48.5,-17.1L49.6,-14.3" stroke="#4e03a1"/><path d="M49.6,-14.3L50.5,-11.5L51.3,-8.6L51.9,-5.7L52.4,-2.7" stroke="#5302a2"/><path d="M52.4,-2.7L52.8,0.3L53.0,3.3L53.0,6.2L52.9,9.2L52.6,12.2L52.1,15.2" stroke="#5802a3"/><path d="M-28.3,-51.5L-25.5,-52.5L-22.6,-53.4L-19.6,-54.1L-16.7,-54.7" stroke="#390599" class="e"/><path d="M-16.7,-54.7L-13.7,-55.1L-10.6,-55.4L-7.6,-55.6L-4.6,-55.6L-1.5,-55.4" stroke="#390599"/><path d="M-1.5,-55.4L1.5,-55.1L4.5,-54.6L7.5,-53.9L10.4,-53.1L13.3,-52.1L16.1,-51.1L18.9,-49.8L21.6,-48.5L24.3,-47.0L26.8,-45.3L29.3,-43.6" stroke="#3f049c"/><path d="M29.3,-43.6L31.7,-41.7L34.0,-39.7L36.2,-37.6L38.3,-35.4L40.3,-33.1L42.2,-30.7" stroke="#44049e"/><path d="M42.2,-30.7L43.9,-28.2L45.5,-25.7L47.0,-23.0L48.4,-20.3L49.6,-17.5" stroke="#49039f"/><path d="M49.6,-17.5L50.7,-14.6L51.6,-11.8L52.4,-8.8L53.1,-5.8L53.6,-2.8" stroke="#4e03a1"/><path d="M53.6,-2.8L53.9,0.2L54.1,3.2L54.2,6.2L54.1,9.3L53.8,12.3L53.3,15.3L52.7,18.3L52.0,21.2L51.1,24.1" stroke="#5302a2"/><path d="M51.1,24.1L50.1,27.0L48.9,29.8L47.6,32.5" stroke="#4e03a1" class="e"/><path d="M47.6,32.5L46.2,35.2" stroke="#49039f" class="e"/><path d="M-3.6,-56.7L-0.6,-56.4L2.5,-56.0L5.5,-55.5L8.4,-54.8L11.4,-53.9" stroke="#390599"/><path d="M11.4,-53.9L14.3,-53.0L17.1,-51.8L19.9,-50.6L22.6,-49.2L25.2,-47.7L27.8,-46.0L30.3,-44.3L32.7,-42.4L35.0,-40.4L37.2,-38.3" stroke="#3f049c"/><path d="M37.2,-38.3L39.2,-36.0L41.2,-33.7L43.1,-31.3L44.8,-28.8L46.5,-26.2L48.0,-23.6" stroke="#44049e"/><path d="M48.0,-23.6L49.3,-20.9L50.6,-18.1L51.7,-15.2L52.6,-12.3L53.4,-9.4L54.1,-6.4" stroke="#49039f"/><path d="M54.1,-6.4L54.6,-3.4L55.0,-0.4L55.2,2.6L55.3,5.7L55.2,8.7L55.0,11.8" stroke="#4e03a1"/><path d="M-29.6,-53.9L-26.8,-54.9L-23.9,-55.7L-21.0,-56.4L-18.0,-57.0L-15.1,-57.4" stroke="#390599" class="e"/><path d="M-15.1,-57.4L-12.1,-57.7L-9.1,-57.9L-6.1,-57.9L-3.1,-57.8L-0.1,-57.5L2.8,-57.1L5.8,-56.5L8.7,-55.9L11.6,-55.0L14.4,-54.1L17.2,-53.0L19.9,-51.8" stroke="#390599"/><path d="M19.9,-51.8L22.6,-50.4L25.2,-49.0L27.8,-47.4L30.2,-45.7L32.6,-43.9L34.9,-41.9L37.1,-39.9L39.2,-37.8L41.2,-35.5L43.1,-33.2" stroke="#3f049c"/><path d="M43.1,-33.2L44.8,-30.8L46.5,-28.3L48.1,-25.7L49.5,-23.1L50.8,-20.4L51.9,-17.6L53.0,-14.8L53.9,-12.0" stroke="#44049e"/><path d="M53.9,-12.0L54.6,-9.1L55.3,-6.1L55.8,-3.2L56.1,-0.2L56.3,2.8L56.4,5.8L56.3,8.8L56.1,11.8L55.8,14.7L55.3,17.7L54.7,20.6L53.9,23.5" stroke="#49039f"/><path d="M53.9,23.5L53.0,26.4L52.0,29.2" stroke="#49039f" class="e"/><path d="M52.0,29.2L50.8,31.9L49.5,34.6L48.1,37.3" stroke="#44049e" class="e"/></g>
<use href="#grid"/><circle r="0.9" fill="#222"/>
<use href="#oval"/>
<g font-size="14">
<text x="-12.2" y="-59.09">-60</text>
<text x="-12.2" y="-37.41">-70</text>
<text x="-12.2" y="-15.73">-80</text>
<text x="66.2" y="-35.1">120</text><text x="67.5" y="45.9">60</text>
<text x="-68.7" y="-35.1" text-anchor="end">240</text><text x="-66.9" y="45.9" text-anchor="end">300</text>
</g>
<g font-size="16.15" text-anchor="middle"><text x="0" y="-98.6">jup.9004.01</text><text x="0" y="-81.7">2017-03-19 09:30 UT</text></g>
</g>
<g transform="translate(91.25,738.05)">
<g fill="none" stroke-width="2.60" stroke-linejoin="round" stroke-linecap="round"><path d="M-2.2,-16.4L0.7,-15.9" stroke="#860aa5"/><path d="M0.7,-15.9L3.5,-15.0" stroke="#97149f"/><path d="M3.5,-15.0L6.1,-13.6" stroke="#a31e98"/><path d="M6.1,-13.6L8.5,-12.0" stroke="#b32c8e"/><path d="M8.5,-12.0L10.6,-9.9" stroke="#c03a83"/><path d="M10.6,-9.9L12.4,-7.6" stroke="#cd4877"/><path d="M12.4,-7.6L13.8,-5.1" stroke="#d4536f"/><path d="M13.8,-5.1L14.8,-2.4" stroke="#d7566d"/><path d="M14.8,-2.4L15.5,0.5" stroke="#d4536f"/><path d="M15.5,0.5L15.7,3.4" stroke="#ca457a"/><path d="M-6.9,-20.8L-4.0,-20.9" stroke="#7404a7"/><path d="M-4.0,-20.9L-1.0,-20.7" stroke="#7d07a6"/><path d="M-1.0,-20.7L1.8,-20.2" stroke="#8b0ba4"/><path d="M1.8,-20.2L4.6,-19.3" stroke="#9310a2"/><path d="M4.6,-19.3L7.2,-18.1" stroke="#9b179d"/><path d="M7.2,-18.1L9.7,-16.5" stroke="#a72296"/><path d="M9.7,-16.5L12.0,-14.7" stroke="#b6308b"/><path d="M12.0,-14.7L14.1,-12.6" stroke="#c03a83"/><path d="M14.1,-12.6L15.8,-10.3" stroke="#d95a6a"/><path d="M15.8,-10.3L17.3,-7.8" stroke="#ed7b51"/><path d="M17.3,-7.8L18.5,-5.2" stroke="#f8973f"/><path d="M18.5,-5.2L19.4,-2.4" stroke="#fcb131"/><path d="M19.4,-2.4L19.9,0.5" stroke="#fcb62f"/><path d="M19.9,0.5L20.1,3.4" stroke="#fca835"/><path d="M20.1,3.4L19.9,6.3" stroke="#ef7f4f"/><path d="M-10.7,-24.4L-7.8,-24.9" stroke="#6b01a8"/><path d="M-7.8,-24.9L-4.8,-25.1" stroke="#7404a7"/><path d="M-4.8,-25.1L-1.8,-25.0" stroke="#7905a6"/><path d="M-1.8,-25.0L1.2,-24.6" stroke="#7d07a6"/><path d="M1.2,-24.6L4.1,-23.8" stroke="#860aa5"/><path d="M4.1,-23.8L6.9,-22.8" stroke="#8b0ba4"/><path d="M6.9,-22.8L9.6,-21.5" stroke="#97149f"/><path d="M9.6,-21.5L12.2,-19.9" stroke="#a31e98"/><path d="M12.2,-19.9L14.5,-18.0" stroke="#b02991"/><path d="M14.5,-18.0L16.7,-15.9" stroke="#ba3388"/><path d="M16.7,-15.9L18.6,-13.6" stroke="#d4536f"/><path d="M18.6,-13.6L20.3,-11.1" stroke="#e97357"/><path d="M20.3,-11.1L21.6,-8.5" stroke="#f69342"/><path d="M21.6,-8.5L22.8,-5.7" stroke="#fcac33"/><path d="M22.8,-5.7L23.6,-2.8" stroke="#fcc927"/><path d="M23.6,-2.8L24.1,0.2" stroke="#f9d824"/><path d="M24.1,0.2L24.3,3.2" stroke="#fcce25"/><path d="M24.3,3.2L24.1,6.2" stroke="#fcc429"/><path d="M24.1,6.2L23.7,9.1" stroke="#f48b47"/><path d="M-14.0,-27.5L-11.1,-28.3" stroke="#6201a6"/><path d="M-11.1,-28.3L-8.2,-28.8" stroke="#6700a7"/><path d="M-8.2,-28.8L-5.1,-29.0" stroke="#6b01a8"/><path d="M-5.1,-29.0L-2.1,-29.0" stroke="#7002a7"/><path d="M-2.1,-29.0L0.9,-28.6" stroke="#7404a7"/><path d="M0.9,-28.6L3.8,-28.0" stroke="#7905a6"/><path d="M3.8,-28.0L6.7,-27.1" stroke="#7d07a6"/><path d="M6.7,-27.1L9.5,-26.0" stroke="#8208a5"/><path d="M9.5,-26.0L12.2,-24.6" stroke="#8f0da4"/><path d="M12.2,-24.6L14.7,-22.9" stroke="#97149f"/><path d="M14.7,-22.9L17.0,-21.0" stroke="#a31e98"/><path d="M17.0,-21.0L19.2,-19.0" stroke="#ac2593"/><path d="M19.2,-19.0L21.2,-16.7" stroke="#c33e80"/><path d="M21.2,-16.7L23.0,-14.2" stroke="#d7566d"/><path d="M23.0,-14.2L24.5,-11.6" stroke="#e7705a"/><path d="M24.5,-11.6L25.8,-8.9" stroke="#f38749"/><path d="M25.8,-8.9L26.8,-6.0" stroke="#f99b3d"/><path d="M26.8,-6.0L27.5,-3.1" stroke="#fcb62f"/><path d="M27.5,-3.1L28.0,-0.1" stroke="#fcc927"/><path d="M28.0,-0.1L28.2,2.9" stroke="#fcc429"/><path d="M28.2,2.9L28.1,5.9" stroke="#fcc02b"/><path d="M28.1,5.9L27.7,8.9" stroke="#fca835"/><path d="M27.7,8.9L27.1,11.8" stroke="#ef7f4f"/><path d="M-16.9,-30.5L-14.1,-31.4" stroke="#5802a3" class="e"/><path d="M-14.1,-31.4L-11.2,-32.1" stroke="#5d01a4" class="e"/><path d="M-11.2,-32.1L-8.2,-32.5" stroke="#5d01a4"/><path d="M-8.2,-32.5L-5.2,-32.7L-2.2,-32.7" stroke="#6201a6"/><path d="M-2.2,-32.7L0.7,-32.4" stroke="#6700a7"/><path d="M0.7,-32.4L3.7,-31.9L6.6,-31.1" stroke="#6b01a8"/><path d="M6.6,-31.1L9.4,-30.1" stroke="#7002a7"/><path d="M9.4,-30.1L12.1,-28.8" stroke="#7905a6"/><path d="M12.1,-28.8L14.7,-27.3" stroke="#8208a5"/><path d="M14.7,-27.3L17.2,-25.7" stroke="#860aa5"/><path d="M17.2,-25.7L19.5,-23.8" stroke="#8f0da4"/><path d="M19.5,-23.8L21.7,-21.7" stroke="#97149f"/><path d="M21.7,-21.7L23.7,-19.5" stroke="#ac2593"/><path d="M23.7,-19.5L25.5,-17.1" stroke="#ba3388"/><path d="M25.5,-17.1L27.1,-14.6" stroke="#ca457a"/><path d="M27.1,-14.6L28.5,-11.9" stroke="#d7566d"/><path d="M28.5,-11.9L29.6,-9.2" stroke="#e16462"/><path d="M29.6,-9.2L30.6,-6.3" stroke="#e97357"/><path d="M30.6,-6.3L31.2,-3.4" stroke="#ef7f4f"/><path d="M31.2,-3.4L31.7,-0.5L31.9,2.5" stroke="#f58f44"/><path d="M31.9,2.5L31.8,5.5" stroke="#f48b47"/><path d="M31.8,5.5L31.5,8.5" stroke="#f38749"/><path d="M31.5,8.5L31.0,11.4" stroke="#e97357" class="e"/><path d="M31.0,11.4L30.2,14.3" stroke="#d95a6a" class="e"/><path d="M-19.5,-33.2L-16.7,-34.3L-13.7,-35.1L-10.7,-35.7" stroke="#5302a2" class="e"/><path d="M-10.7,-35.7L-7.7,-36.1L-4.7,-36.2" stroke="#5802a3"/><path d="M-4.7,-36.2L-1.6,-36.2L1.4,-35.8" stroke="#5d01a4"/><path d="M1.4,-35.8L4.4,-35.3L7.4,-34.5" stroke="#6201a6"/><path d="M7.4,-34.5L10.2,-33.5" stroke="#6700a7"/><path d="M10.2,-33.5L13.0,-32.3" stroke="#6b01a8"/><path d="M13.0,-32.3L15.7,-30.8" stroke="#7002a7"/><path d="M15.7,-30.8L18.3,-29.2" stroke="#7404a7"/><path d="M18.3,-29.2L20.7,-27.4" stroke="#7905a6"/><path d="M20.7,-27.4L23.0,-25.4" stroke="#7d07a6"/><path d="M23.0,-25.4L25.1,-23.2" stroke="#860aa5"/><path d="M25.1,-23.2L27.1,-20.8" stroke="#9310a2"/><path d="M27.1,-20.8L28.9,-18.4" stroke="#9f1b9a"/><path d="M28.9,-18.4L30.4,-15.7" stroke="#ac2593"/><path d="M30.4,-15.7L31.8,-13.0" stroke="#b6308b"/><path d="M31.8,-13.0L33.0,-10.2" stroke="#bd3785"/><path d="M33.0,-10.2L33.9,-7.3" stroke="#c7417d"/><path d="M33.9,-7.3L34.6,-4.3" stroke="#cd4877"/><path d="M34.6,-4.3L35.1,-1.3" stroke="#d24f72"/><path d="M35.1,-1.3L35.4,1.7L35.4,4.8" stroke="#d4536f"/><path d="M35.4,4.8L35.2,7.8" stroke="#d24f72"/><path d="M35.2,7.8L34.7,10.8" stroke="#d24f72" class="e"/><path d="M34.7,10.8L34.0,13.8" stroke="#c7417d" class="e"/><path d="M34.0,13.8L33.1,16.7" stroke="#ba3388" class="e"/><path d="M-21.8,-35.7L-19.0,-36.9" stroke="#49039f" class="e"/><path d="M-19.0,-36.9L-16.2,-37.8L-13.3,-38.5" stroke="#4e03a1" class="e"/><path d="M-13.3,-38.5L-10.4,-39.1L-7.4,-39.4" stroke="#4e03a1"/><path d="M-7.4,-39.4L-4.5,-39.6L-1.5,-39.5L1.5,-39.2" stroke="#5302a2"/><path d="M1.5,-39.2L4.4,-38.7L7.3,-38.0L10.2,-37.1" stroke="#5802a3"/><path d="M10.2,-37.1L12.9,-36.0" stroke="#5d01a4"/><path d="M12.9,-36.0L15.6,-34.7L18.2,-33.2" stroke="#6201a6"/><path d="M18.2,-33.2L20.7,-31.6" stroke="#6700a7"/><path d="M20.7,-31.6L23.1,-29.7L25.3,-27.8" stroke="#6b01a8"/><path d="M25.3,-27.8L27.4,-25.6" stroke="#7404a7"/><path d="M27.4,-25.6L29.3,-23.4" stroke="#7d07a6"/><path d="M29.3,-23.4L31.1,-21.0" stroke="#8208a5"/><path d="M31.1,-21.0L32.7,-18.5" stroke="#8b0ba4"/><path d="M32.7,-18.5L34.1,-15.8" stroke="#9310a2"/><path d="M34.1,-15.8L35.4,-13.1" stroke="#9b179d"/><path d="M35.4,-13.1L36.4,-10.3" stroke="#9f1b9a"/><path d="M36.4,-10.3L37.3,-7.5" stroke="#a31e98"/><path d="M37.3,-7.5L38.0,-4.6" stroke="#ac2593"/><path d="M38.0,-4.6L38.4,-1.6" stroke="#b02991"/><path d="M38.4,-1.6L38.7,1.3L38.7,4.3" stroke="#b32c8e"/><path d="M38.7,4.3L38.5,7.3L38.1,10.2" stroke="#b02991"/><path d="M38.1,10.2L37.5,13.2" stroke="#ac2593" class="e"/><path d="M37.5,13.2L36.7,16.0" stroke="#9f1b9a" class="e"/><path d="M36.7,16.0L35.8,18.8" stroke="#97149f" class="e"/><path d="M-23.6,-37.8L-20.9,-39.0L-18.0,-40.1" stroke="#44049e" class="e"/><path d="M-18.0,-40.1L-15.1,-41.0" stroke="#49039f" class="e"/><path d="M-15.1,-41.0L-12.2,-41.7L-9.1,-42.3L-6.1,-42.6L-3.0,-42.7L0.0,-42.5" stroke="#49039f"/><path d="M0.0,-42.5L3.1,-42.1L6.1,-41.5L9.1,-40.7L12.0,-39.7" stroke="#4e03a1"/><path d="M12.0,-39.7L14.8,-38.6L17.5,-37.2" stroke="#5302a2"/><path d="M17.5,-37.2L20.2,-35.6L22.7,-33.9" stroke="#5802a3"/><path d="M22.7,-33.9L25.2,-32.1L27.5,-30.0" stroke="#5d01a4"/><path d="M27.5,-30.0L29.6,-27.8" stroke="#6201a6"/><path d="M29.6,-27.8L31.6,-25.5" stroke="#6700a7"/><path d="M31.6,-25.5L33.5,-23.0" stroke="#6b01a8"/><path d="M33.5,-23.0L35.2,-20.5" stroke="#7002a7"/><path d="M35.2,-20.5L36.7,-17.8" stroke="#7404a7"/><path d="M36.7,-17.8L38.0,-15.0" stroke="#7905a6"/><path d="M38.0,-15.0L39.1,-12.2" stroke="#7d07a6"/><path d="M39.1,-12.2L40.1,-9.3" stroke="#8208a5"/><path d="M40.1,-9.3L40.8,-6.3" stroke="#860aa5"/><path d="M40.8,-6.3L41.3,-3.3L41.7,-0.2" stroke="#8b0ba4"/><path d="M41.7,-0.2L41.8,2.9" stroke="#8f0da4"/><path d="M41.8,2.9L41.6,5.9L41.2,9.0L40.7,11.9" stroke="#8b0ba4"/><path d="M40.7,11.9L39.9,14.9" stroke="#860aa5" class="e"/><path d="M39.9,14.9L39.0,17.8" stroke="#7d07a6" class="e"/><path d="M39.0,17.8L37.9,20.6" stroke="#7905a6" class="e"/><path d="M-25.5,-39.9L-22.7,-41.2L-19.9,-42.3L-17.1,-43.3L-14.2,-44.2" stroke="#44049e" class="e"/><path d="M-14.2,-44.2L-11.2,-44.8L-8.2,-45.3L-5.2,-45.6L-2.1,-45.6L0.9,-45.4L3.9,-44.9" stroke="#44049e"/><path d="M3.9,-44.9L6.9,-44.3L9.9,-43.5L12.8,-42.6L15.6,-41.4" stroke="#49039f"/><path d="M15.6,-41.4L18.4,-40.1L21.0,-38.6L23.6,-36.9" stroke="#4e03a1"/><path d="M23.6,-36.9L26.1,-35.1L28.4,-33.2L30.6,-31.1" stroke="#5302a2"/><path d="M30.6,-31.1L32.7,-28.8" stroke="#5802a3"/><path d="M32.7,-28.8L34.6,-26.5L36.4,-24.0" stroke="#5d01a4"/><path d="M36.4,-24.0L38.1,-21.4" stroke="#6201a6"/><path d="M38.1,-21.4L39.5,-18.7" stroke="#6700a7"/><path d="M39.5,-18.7L40.8,-15.9L41.9,-13.1" stroke="#6b01a8"/><path d="M41.9,-13.1L42.9,-10.2L43.6,-7.2" stroke="#7002a7"/><path d="M43.6,-7.2L44.2,-4.2L44.6,-1.2" stroke="#7404a7"/><path d="M44.6,-1.2L44.7,1.9" stroke="#7905a6"/><path d="M44.7,1.9L44.6,4.9L44.3,7.9L43.8,10.9" stroke="#7404a7"/><path d="M43.8,10.9L43.1,13.9L42.2,16.8" stroke="#7002a7" class="e"/><path d="M42.2,16.8L41.2,19.6" stroke="#6b01a8" class="e"/><path d="M41.2,19.6L40.1,22.4" stroke="#6700a7" class="e"/><path d="M-12.1,-46.1L-9.0,-46.6L-6.0,-46.9L-2.9,-47.0L0.2,-46.8L3.2,-46.5L6.3,-45.9L9.3,-45.2" stroke="#44049e"/><path d="M9.3,-45.2L12.2,-44.3L15.1,-43.2L17.9,-41.9" stroke="#49039f"/><path d="M17.9,-41.9L20.6,-40.5L23.3,-38.9L25.8,-37.1L28.2,-35.2" stroke="#4e03a1"/><path d="M28.2,-35.2L30.5,-33.1L32.7,-30.9" stroke="#5302a2"/><path d="M32.7,-30.9L34.7,-28.6L36.6,-26.2" stroke="#5802a3"/><path d="M36.6,-26.2L38.3,-23.6" stroke="#5d01a4"/><path d="M38.3,-23.6L39.9,-21.0L41.3,-18.2" stroke="#6201a6"/><path d="M41.3,-18.2L42.5,-15.4" stroke="#6700a7"/><path d="M42.5,-15.4L43.6,-12.5L44.5,-9.5L45.2,-6.5" stroke="#6b01a8"/><path d="M45.2,-6.5L45.7,-3.5L46.0,-0.4" stroke="#7002a7"/><path d="M46.0,-0.4L46.1,2.6" stroke="#7404a7"/><path d="M46.1,2.6L45.9,5.7L45.6,8.8" stroke="#7002a7"/><path d="M-27.2,-42.0L-24.5,-43.3L-21.8,-44.5L-19.0,-45.6L-16.2,-46.5" stroke="#3f049c" class="e"/><path d="M-16.2,-46.5L-13.2,-47.2L-10.3,-47.8L-7.3,-48.2L-4.3,-48.4L-1.2,-48.3L1.8,-48.1L4.8,-47.6L7.8,-47.0L10.7,-46.2L13.6,-45.3" stroke="#44049e"/><path d="M13.6,-45.3L16.4,-44.1L19.1,-42.8L21.8,-41.4" stroke="#49039f"/><path d="M21.8,-41.4L24.4,-39.8L26.9,-38.0L29.2,-36.1L31.5,-34.1" stroke="#4e03a1"/><path d="M31.5,-34.1L33.6,-32.0L35.6,-29.7" stroke="#5302a2"/><path d="M35.6,-29.7L37.5,-27.3L39.2,-24.8" stroke="#5802a3"/><path d="M39.2,-24.8L40.8,-22.2" stroke="#5d01a4"/><path d="M40.8,-22.2L42.2,-19.5L43.5,-16.8" stroke="#6201a6"/><path d="M43.5,-16.8L44.6,-13.9L45.5,-11.0L46.3,-8.1" stroke="#6700a7"/><path d="M46.3,-8.1L46.9,-5.1L47.3,-2.1" stroke="#6b01a8"/><path d="M47.3,-2.1L47.5,0.9L47.4,3.9" stroke="#7002a7"/><path d="M47.4,3.9L47.2,7.0L46.8,9.9L46.1,12.9" stroke="#6b01a8"/><path d="M46.1,12.9L45.4,15.8" stroke="#6b01a8" class="e"/><path d="M45.4,15.8L44.4,18.6" stroke="#6700a7" class="e"/><path d="M44.4,18.6L43.4,21.4" stroke="#6201a6" class="e"/><path d="M43.4,21.4L42.2,24.2" stroke="#5d01a4" class="e"/><path d="M-9.1,-49.3L-6.1,-49.6L-3.1,-49.7L-0.0,-49.6L3.0,-49.3L5.9,-48.8L8.9,-48.1L11.8,-47.3L14.7,-46.3" stroke="#44049e"/><path d="M14.7,-46.3L17.4,-45.1L20.2,-43.8L22.8,-42.3L25.4,-40.7L27.8,-39.0" stroke="#49039f"/><path d="M27.8,-39.0L30.2,-37.1L32.4,-35.0L34.6,-32.9" stroke="#4e03a1"/><path d="M34.6,-32.9L36.6,-30.6L38.4,-28.3" stroke="#5302a2"/><path d="M38.4,-28.3L40.2,-25.8L41.7,-23.2" stroke="#5802a3"/><path d="M41.7,-23.2L43.2,-20.6L44.5,-17.8" stroke="#5d01a4"/><path d="M44.5,-17.8L45.6,-15.0L46.6,-12.2L47.4,-9.2" stroke="#6201a6"/><path d="M47.4,-9.2L48.0,-6.3L48.5,-3.3" stroke="#6700a7"/><path d="M48.5,-3.3L48.8,-0.3L48.8,2.7L48.7,5.7" stroke="#6b01a8"/><path d="M-29.0,-44.1L-26.3,-45.5L-23.5,-46.7L-20.7,-47.8L-17.8,-48.8" stroke="#3f049c" class="e"/><path d="M-17.8,-48.8L-14.9,-49.6L-11.9,-50.2L-8.8,-50.7L-5.8,-51.0L-2.7,-51.0L0.4,-50.9" stroke="#3f049c"/><path d="M0.4,-50.9L3.4,-50.5L6.4,-50.0L9.4,-49.3L12.4,-48.5L15.3,-47.4L18.1,-46.2L20.9,-44.9" stroke="#44049e"/><path d="M20.9,-44.9L23.6,-43.4L26.2,-41.8L28.7,-40.0L31.1,-38.0" stroke="#49039f"/><path d="M31.1,-38.0L33.4,-36.0L35.5,-33.8L37.6,-31.5" stroke="#4e03a1"/><path d="M37.6,-31.5L39.5,-29.1L41.2,-26.6" stroke="#5302a2"/><path d="M41.2,-26.6L42.8,-23.9L44.3,-21.2" stroke="#5802a3"/><path d="M44.3,-21.2L45.6,-18.5L46.8,-15.6L47.8,-12.7" stroke="#5d01a4"/><path d="M47.8,-12.7L48.6,-9.7L49.3,-6.7L49.8,-3.7" stroke="#6201a6"/><path d="M49.8,-3.7L50.1,-0.6L50.1,2.4L50.0,5.5L49.7,8.5" stroke="#6700a7"/><path d="M49.7,8.5L49.2,11.6L48.5,14.5" stroke="#6201a6"/><path d="M48.5,14.5L47.7,17.5" stroke="#6201a6" class="e"/><path d="M47.7,17.5L46.7,20.3L45.6,23.2" stroke="#5d01a4" class="e"/><path d="M45.6,23.2L44.4,25.9" stroke="#5802a3" class="e"/><path d="M-15.8,-50.7L-12.9,-51.4L-9.9,-51.9L-6.9,-52.2L-3.9,-52.3L-0.9,-52.2L2.1,-52.0L5.1,-51.5L8.0,-50.9" stroke="#3f049c"/><path d="M8.0,-50.9L10.9,-50.2L13.8,-49.3L16.6,-48.2L19.4,-47.0L22.1,-45.7L24.7,-44.2" stroke="#44049e"/><path d="M24.7,-44.2L27.2,-42.6L29.7,-40.8L32.0,-38.9L34.2,-36.9L36.4,-34.7" stroke="#49039f"/><path d="M36.4,-34.7L38.4,-32.5L40.2,-30.1" stroke="#4e03a1"/><path d="M40.2,-30.1L42.0,-27.7L43.6,-25.1L45.1,-22.5" stroke="#5302a2"/><path d="M45.1,-22.5L46.4,-19.8L47.6,-17.0L48.6,-14.2" stroke="#5802a3"/><path d="M48.6,-14.2L49.5,-11.3L50.2,-8.4L50.8,-5.4" stroke="#5d01a4"/><path d="M50.8,-5.4L51.2,-2.4L51.4,0.6L51.4,3.6L51.2,6.6L50.8,9.6" stroke="#6201a6"/><path d="M50.8,9.6L50.3,12.5" stroke="#5d01a4"/><path d="M-30.7,-46.2L-28.0,-47.6L-25.3,-48.8" stroke="#390599" class="e"/><path d="M-25.3,-48.8L-22.5,-49.9L-19.7,-50.9" stroke="#3f049c" class="e"/><path d="M-19.7,-50.9L-16.8,-51.8L-13.8,-52.5L-10.8,-53.0L-7.8,-53.4L-4.8,-53.5L-1.8,-53.5L1.3,-53.3L4.3,-52.9L7.3,-52.4L10.2,-51.7L13.1,-50.8" stroke="#3f049c"/><path d="M13.1,-50.8L16.0,-49.8L18.8,-48.7L21.6,-47.4L24.2,-45.9L26.8,-44.3L29.3,-42.6" stroke="#44049e"/><path d="M29.3,-42.6L31.7,-40.8L34.0,-38.8L36.2,-36.7L38.3,-34.5" stroke="#49039f"/><path d="M38.3,-34.5L40.3,-32.1L42.1,-29.7L43.8,-27.2" stroke="#4e03a1"/><path d="M43.8,-27.2L45.4,-24.6L46.8,-21.9L48.1,-19.1L49.2,-16.3" stroke="#5302a2"/><path d="M49.2,-16.3L50.2,-13.4L51.0,-10.5L51.6,-7.6L52.2,-4.6" stroke="#5802a3"/><path d="M52.2,-4.6L52.5,-1.5L52.7,1.5L52.6,4.5L52.4,7.5L52.0,10.5L51.4,13.5" stroke="#5d01a4"/><path d="M51.4,13.5L50.7,16.4" stroke="#5802a3"/><path d="M50.7,16.4L49.8,19.3L48.8,22.2" stroke="#5802a3" class="e"/><path d="M48.8,22.2L47.7,24.9L46.5,27.7" stroke="#5302a2" class="e"/><path d="M-12.4,-54.0L-9.5,-54.4L-6.5,-54.7L-3.5,-54.7L-0.5,-54.6L2.5,-54.3L5.5,-53.9L8.5,-53.3L11.4,-52.6L14.3,-51.7L17.1,-50.7L19.9,-49.5" stroke="#3f049c"/><path d="M19.9,-49.5L22.6,-48.2L25.2,-46.7L27.8,-45.1L30.2,-43.4L32.6,-41.6L34.9,-39.6" stroke="#44049e"/><path d="M34.9,-39.6L37.1,-37.5L39.1,-35.3L41.1,-33.0L42.9,-30.6" stroke="#49039f"/><path d="M42.9,-30.6L44.6,-28.1L46.1,-25.6L47.6,-22.9L48.9,-20.2" stroke="#4e03a1"/><path d="M48.9,-20.2L50.0,-17.4L51.0,-14.6L51.9,-11.7L52.6,-8.8" stroke="#5302a2"/><path d="M52.6,-8.8L53.2,-5.8L53.6,-2.8L53.8,0.2L53.8,3.2L53.7,6.2L53.4,9.2" stroke="#5802a3"/><path d="M-32.4,-48.4L-29.8,-49.7L-27.1,-51.0L-24.3,-52.1L-21.5,-53.1" stroke="#390599" class="e"/><path d="M-21.5,-53.1L-18.6,-53.9L-15.7,-54.6L-12.8,-55.2L-9.8,-55.6L-6.8,-55.8" stroke="#390599"/><path d="M-6.8,-55.8L-3.8,-55.9L-0.8,-55.8L2.1,-55.6L5.1,-55.2L8.1,-54.6L11.0,-53.9L13.9,-53.1L16.7,-52.1L19.5,-51.0L22.2,-49.7L24.8,-48.3" stroke="#3f049c"/><path d="M24.8,-48.3L27.4,-46.8L29.9,-45.1L32.3,-43.3L34.6,-41.4L36.8,-39.4L38.9,-37.3L40.9,-35.0" stroke="#44049e"/><path d="M40.9,-35.0L42.8,-32.7L44.6,-30.3L46.2,-27.8L47.7,-25.2" stroke="#49039f"/><path d="M47.7,-25.2L49.1,-22.5L50.3,-19.8L51.4,-17.0L52.4,-14.1L53.2,-11.3" stroke="#4e03a1"/><path d="M53.2,-11.3L53.9,-8.3L54.4,-5.4L54.8,-2.4L55.0,0.6L55.0,3.6L54.9,6.6L54.6,9.5L54.2,12.5L53.6,15.4L52.9,18.3" stroke="#5302a2"/><path d="M52.9,18.3L52.0,21.2L51.0,24.0L49.9,26.7" stroke="#4e03a1" class="e"/><path d="M49.9,26.7L48.6,29.4" stroke="#49039f" class="e"/><path d="M-8.5,-56.9L-5.6,-57.0L-2.6,-57.0L0.4,-56.9L3.3,-56.6L6.3,-56.1" stroke="#390599"/><path d="M6.3,-56.1L9.2,-55.5L12.1,-54.8L14.9,-53.9L17.7,-52.9L20.4,-51.7L23.1,-50.5L25.7,-49.0L28.3,-47.5L30.8,-45.8L33.1,-44.1" stroke="#3f049c"/><path d="M33.1,-44.1L35.4,-42.2L37.6,-40.2L39.7,-38.0L41.7,-35.8L43.6,-33.5L45.3,-31.1L47.0,-28.6" stroke="#44049e"/><path d="M47.0,-28.6L48.5,-26.1L49.9,-23.4L51.1,-20.8L52.3,-18.0L53.2,-15.2L54.1,-12.3" stroke="#49039f"/><path d="M54.1,-12.3L54.8,-9.5L55.4,-6.5L55.8,-3.6L56.0,-0.6L56.2,2.3L56.1,5.3" stroke="#4e03a1"/><path d="M-34.1,-50.5L-31.4,-51.9L-28.7,-53.1L-25.9,-54.2L-23.0,-55.2L-20.1,-56.1" stroke="#390599" class="e"/><path d="M-20.1,-56.1L-17.2,-56.8L-14.3,-57.3L-11.3,-57.8L-8.3,-58.0L-5.3,-58.1L-2.3,-58.1L0.8,-57.9L3.7,-57.6L6.7,-57.2L9.7,-56.5L12.6,-55.8L15.5,-54.9" stroke="#390599"/><path d="M15.5,-54.9L18.3,-53.9L21.1,-52.7L23.8,-51.4L26.4,-49.9L29.0,-48.4L31.5,-46.7L33.9,-44.9L36.2,-43.0L38.4,-40.9L40.5,-38.8" stroke="#3f049c"/><path d="M40.5,-38.8L42.6,-36.5L44.4,-34.2L46.2,-31.8L47.9,-29.3L49.4,-26.7L50.8,-24.0L52.1,-21.3L53.3,-18.5" stroke="#44049e"/><path d="M53.3,-18.5L54.3,-15.7L55.1,-12.8L55.8,-9.9L56.4,-6.9L56.9,-3.9L57.1,-0.9L57.3,2.1L57.3,5.1L57.1,8.1L56.8,11.1L56.4,14.1L55.8,17.0" stroke="#49039f"/><path d="M55.8,17.0L55.1,19.9L54.2,22.8" stroke="#49039f" class="e"/><path d="M54.2,22.8L53.2,25.7L52.0,28.4L50.7,31.2" stroke="#44049e" class="e"/></g>
<use href="#grid"/><circle r="0.9" fill="#222"/>
<use href="#oval"/>
<g font-size="14">
<text x="-12.2" y="-59.09">-60</text>
<text x="-12.2" y="-37.41">-70</text>
<text x="-12.2" y="-15.73">-80</text>
<text x="66.2" y="-35.1">120</text><text x="67.5" y="45.9">60</text>
<text x="-68.7" y="-35.1" text-anchor="end">240</text><text x="-66.9" y="45.9" text-anchor="end">300</text>
</g>
<g font-size="16.15" text-anchor="middle"><text x="0" y="-98.6">jup.9004.02</text><text x="0" y="-81.7">2017-03-19 09:30 UT</text></g>
</g>
<g transform="translate(299.40,738.05)">
<g fill="none" stroke-width="2.60" stroke-linejoin="round" stroke-linecap="round"><path d="M-15.2,-5.5L-13.3,-7.8" stroke="#8b0ba4"/><path d="M-13.3,-7.8L-11.2,-9.8" stroke="#9310a2"/><path d="M-11.2,-9.8L-8.8,-11.6" stroke="#9b179d"/><path d="M-8.8,-11.6L-6.3,-13.0" stroke="#9f1b9a"/><path d="M-6.3,-13.0L-3.5,-14.0" stroke="#a72296"/><path d="M-3.5,-14.0L-0.6,-14.6" stroke="#ac2593"/><path d="M-0.6,-14.6L2.3,-14.9L5.2,-14.8L8.1,-14.2" stroke="#b32c8e"/><path d="M8.1,-14.2L10.9,-13.3" stroke="#b6308b"/><path d="M-20.5,-4.7L-19.0,-7.4" stroke="#b02991"/><path d="M-19.0,-7.4L-17.2,-9.8" stroke="#b32c8e"/><path d="M-17.2,-9.8L-15.1,-12.1" stroke="#b6308b"/><path d="M-15.1,-12.1L-12.7,-14.0" stroke="#ba3388"/><path d="M-12.7,-14.0L-10.1,-15.7L-7.4,-17.0L-4.5,-18.1L-1.5,-18.8L1.5,-19.1" stroke="#bd3785"/><path d="M1.5,-19.1L4.6,-19.0" stroke="#ba3388"/><path d="M4.6,-19.0L7.6,-18.6" stroke="#b6308b"/><path d="M7.6,-18.6L10.6,-17.9" stroke="#b32c8e"/><path d="M10.6,-17.9L13.4,-16.8L16.1,-15.3" stroke="#b02991"/><path d="M-25.2,-3.7L-24.0,-6.4" stroke="#a72296"/><path d="M-24.0,-6.4L-22.6,-8.9L-20.9,-11.3" stroke="#ac2593"/><path d="M-20.9,-11.3L-19.1,-13.6" stroke="#b02991"/><path d="M-19.1,-13.6L-17.0,-15.6" stroke="#b32c8e"/><path d="M-17.0,-15.6L-14.7,-17.4L-12.2,-19.0L-9.6,-20.4" stroke="#b6308b"/><path d="M-9.6,-20.4L-6.9,-21.4L-4.1,-22.2L-1.2,-22.8L1.7,-23.0" stroke="#b32c8e"/><path d="M1.7,-23.0L4.7,-22.9" stroke="#b02991"/><path d="M4.7,-22.9L7.6,-22.6L10.4,-22.0" stroke="#ac2593"/><path d="M10.4,-22.0L13.2,-21.1" stroke="#a72296"/><path d="M13.2,-21.1L15.9,-19.9" stroke="#a31e98"/><path d="M15.9,-19.9L18.5,-18.5L20.9,-16.8" stroke="#9f1b9a"/><path d="M-29.4,-2.7L-28.4,-5.5" stroke="#9310a2"/><path d="M-28.4,-5.5L-27.1,-8.3L-25.6,-11.0" stroke="#97149f"/><path d="M-25.6,-11.0L-23.8,-13.5L-21.9,-15.9" stroke="#9b179d"/><path d="M-21.9,-15.9L-19.7,-18.0" stroke="#9f1b9a"/><path d="M-19.7,-18.0L-17.3,-20.0L-14.8,-21.7" stroke="#a31e98"/><path d="M-14.8,-21.7L-12.1,-23.2L-9.3,-24.4L-6.4,-25.4L-3.4,-26.1L-0.4,-26.5" stroke="#9f1b9a"/><path d="M-0.4,-26.5L2.7,-26.6L5.8,-26.5" stroke="#9b179d"/><path d="M5.8,-26.5L8.8,-26.1L11.8,-25.4" stroke="#97149f"/><path d="M11.8,-25.4L14.7,-24.4L17.5,-23.2" stroke="#9310a2"/><path d="M17.5,-23.2L20.2,-21.7L22.7,-20.0" stroke="#8f0da4"/><path d="M22.7,-20.0L25.1,-18.0" stroke="#8b0ba4"/><path d="M-33.1,-1.6L-32.3,-4.6L-31.3,-7.4" stroke="#7d07a6"/><path d="M-31.3,-7.4L-30.0,-10.1L-28.5,-12.7" stroke="#8208a5"/><path d="M-28.5,-12.7L-26.8,-15.2L-24.9,-17.6" stroke="#860aa5"/><path d="M-24.9,-17.6L-22.8,-19.7L-20.5,-21.7L-18.1,-23.6L-15.6,-25.2L-12.9,-26.5L-10.1,-27.7" stroke="#8b0ba4"/><path d="M-10.1,-27.7L-7.2,-28.6L-4.3,-29.3L-1.3,-29.8L1.7,-30.0L4.7,-30.0" stroke="#860aa5"/><path d="M4.7,-30.0L7.7,-29.7L10.7,-29.1L13.6,-28.4" stroke="#8208a5"/><path d="M13.6,-28.4L16.4,-27.4L19.2,-26.1" stroke="#7d07a6"/><path d="M19.2,-26.1L21.8,-24.7L24.3,-23.0L26.7,-21.1" stroke="#7905a6"/><path d="M26.7,-21.1L28.9,-19.1" stroke="#7404a7"/><path d="M-36.5,-0.7L-35.9,-3.6L-35.0,-6.4L-33.9,-9.2" stroke="#6b01a8" class="e"/><path d="M-33.9,-9.2L-32.7,-11.8L-31.2,-14.4L-29.5,-16.8L-27.7,-19.1" stroke="#7002a7"/><path d="M-27.7,-19.1L-25.7,-21.3L-23.5,-23.3L-21.2,-25.2L-18.8,-26.9L-16.3,-28.4L-13.6,-29.7L-10.9,-30.8L-8.0,-31.7" stroke="#7404a7"/><path d="M-8.0,-31.7L-5.2,-32.4L-2.3,-32.8L0.7,-33.1L3.6,-33.1L6.6,-33.0L9.5,-32.6" stroke="#7002a7"/><path d="M9.5,-32.6L12.4,-32.0L15.2,-31.1L18.0,-30.1L20.7,-28.9" stroke="#6b01a8"/><path d="M20.7,-28.9L23.3,-27.4L25.8,-25.8" stroke="#6700a7"/><path d="M25.8,-25.8L28.1,-24.0L30.3,-22.1L32.4,-20.0" stroke="#6700a7" class="e"/><path d="M-39.7,0.2L-39.1,-2.8L-38.3,-5.6L-37.4,-8.4" stroke="#5d01a4" class="e"/><path d="M-37.4,-8.4L-36.2,-11.2L-34.9,-13.8L-33.4,-16.4" stroke="#5d01a4"/><path d="M-33.4,-16.4L-31.7,-18.8L-29.8,-21.1L-27.8,-23.3L-25.6,-25.4L-23.3,-27.3L-20.9,-29.0L-18.4,-30.5L-15.8,-31.9L-13.0,-33.1L-10.2,-34.1L-7.4,-34.9L-4.5,-35.5L-1.5,-35.9L1.5,-36.1" stroke="#6201a6"/><path d="M1.5,-36.1L4.4,-36.0L7.4,-35.8L10.3,-35.4L13.2,-34.8L16.1,-33.9L18.9,-32.9L21.6,-31.7" stroke="#5d01a4"/><path d="M21.6,-31.7L24.2,-30.3L26.7,-28.7L29.1,-27.0" stroke="#5802a3"/><path d="M29.1,-27.0L31.4,-25.0L33.5,-23.0L35.5,-20.8" stroke="#5802a3" class="e"/><path d="M-42.5,1.0L-42.0,-2.0L-41.4,-4.9L-40.5,-7.7" stroke="#4e03a1" class="e"/><path d="M-40.5,-7.7L-39.5,-10.5L-38.3,-13.2" stroke="#4e03a1"/><path d="M-38.3,-13.2L-36.9,-15.8L-35.3,-18.3L-33.6,-20.8L-31.8,-23.1L-29.7,-25.2L-27.6,-27.3L-25.3,-29.2L-22.9,-30.9L-20.4,-32.5L-17.8,-33.9L-15.1,-35.2L-12.3,-36.2L-9.5,-37.1L-6.6,-37.8L-3.7,-38.3L-0.7,-38.7L2.2,-38.8L5.2,-38.7L8.1,-38.5" stroke="#5302a2"/><path d="M8.1,-38.5L11.1,-38.0L14.0,-37.4L16.8,-36.6L19.6,-35.5L22.3,-34.4L25.0,-33.0L27.5,-31.5L29.9,-29.8L32.3,-27.9" stroke="#4e03a1"/><path d="M32.3,-27.9L34.5,-25.9L36.5,-23.8L38.4,-21.5" stroke="#4e03a1" class="e"/><path d="M-44.6,1.6L-44.2,-1.4L-43.7,-4.3L-43.0,-7.2" stroke="#44049e" class="e"/><path d="M-43.0,-7.2L-42.1,-10.1L-41.0,-12.9L-39.8,-15.6L-38.3,-18.3L-36.7,-20.8L-34.9,-23.2L-33.0,-25.5L-30.9,-27.7L-28.6,-29.7L-26.3,-31.6L-23.8,-33.3L-21.3,-34.9L-18.6,-36.3L-15.9,-37.6L-13.0,-38.7L-10.2,-39.6L-7.2,-40.3L-4.3,-40.8L-1.3,-41.2L1.7,-41.3L4.7,-41.3L7.7,-41.1L10.7,-40.6L13.7,-40.0" stroke="#49039f"/><path d="M13.7,-40.0L16.6,-39.3L19.5,-38.3L22.2,-37.2L24.9,-35.8L27.5,-34.3L30.0,-32.6L32.4,-30.7L34.6,-28.8" stroke="#44049e"/><path d="M34.6,-28.8L36.7,-26.6L38.7,-24.4L40.6,-22.1" stroke="#44049e" class="e"/><path d="M-46.6,2.1L-46.3,-0.8L-45.8,-3.8L-45.2,-6.7L-44.5,-9.7" stroke="#3f049c" class="e"/><path d="M-44.5,-9.7L-43.5,-12.5L-42.4,-15.3L-41.1,-18.1L-39.6,-20.7L-37.9,-23.2L-36.0,-25.6L-34.0,-27.9" stroke="#3f049c"/><path d="M-34.0,-27.9L-31.8,-30.0L-29.5,-32.0L-27.1,-33.9L-24.6,-35.6" stroke="#44049e"/><path d="M-24.6,-35.6L-22.0,-37.2L-19.3,-38.6L-16.5,-39.9L-13.7,-40.9L-10.8,-41.8L-7.8,-42.6L-4.8,-43.1L-1.8,-43.5L1.2,-43.6L4.3,-43.6L7.3,-43.5L10.3,-43.1L13.3,-42.5L16.3,-41.8L19.2,-40.9L22.0,-39.8L24.8,-38.6L27.4,-37.1L30.0,-35.4L32.4,-33.6L34.7,-31.6" stroke="#3f049c"/><path d="M34.7,-31.6L36.8,-29.5L38.8,-27.3L40.8,-25.0L42.6,-22.6" stroke="#3f049c" class="e"/><path d="M-43.2,-16.1L-41.9,-18.9L-40.3,-21.6L-38.6,-24.1L-36.7,-26.5L-34.6,-28.8L-32.4,-31.0L-30.1,-33.0L-27.6,-34.9L-25.1,-36.6L-22.4,-38.2L-19.7,-39.6L-16.9,-40.9L-14.0,-42.0L-11.1,-42.9L-8.1,-43.6L-5.0,-44.2L-2.0,-44.5L1.1,-44.7L4.2,-44.7L7.3,-44.6L10.3,-44.2L13.4,-43.7L16.3,-42.9L19.3,-42.0L22.2,-40.9L25.0,-39.7L27.7,-38.2L30.3,-36.5" stroke="#3f049c"/><path d="M-48.6,2.7L-48.3,-0.3L-47.9,-3.3L-47.4,-6.2L-46.7,-9.2" stroke="#390599" class="e"/><path d="M-46.7,-9.2L-45.9,-12.1L-44.9,-15.0L-43.7,-17.8L-42.3,-20.5L-40.7,-23.1L-38.9,-25.5L-36.9,-27.9L-34.8,-30.1L-32.6,-32.3L-30.3,-34.2L-27.8,-36.1L-25.3,-37.8L-22.7,-39.3L-19.9,-40.7L-17.1,-42.0L-14.3,-43.0L-11.4,-43.9L-8.4,-44.7L-5.4,-45.2L-2.3,-45.6L0.7,-45.8L3.8,-45.8L6.8,-45.7L9.9,-45.4L12.9,-44.9L15.9,-44.2L18.8,-43.3L21.7,-42.3L24.5,-41.1L27.2,-39.7L29.8,-38.1L32.3,-36.3L34.6,-34.4L36.9,-32.3" stroke="#390599"/><path d="M36.9,-32.3L38.9,-30.1L40.9,-27.9L42.8,-25.5L44.6,-23.1" stroke="#390599" class="e"/><path d="M-47.2,-11.1L-46.3,-14.0L-45.2,-16.9L-43.9,-19.7L-42.3,-22.4L-40.6,-25.0L-38.6,-27.4L-36.6,-29.8L-34.4,-32.0L-32.1,-34.1L-29.7,-36.0L-27.1,-37.8L-24.5,-39.5L-21.8,-41.0L-18.9,-42.3L-16.1,-43.5L-13.1,-44.5L-10.1,-45.3L-7.1,-46.0L-4.0,-46.5L-0.9,-46.8L2.2,-46.9L5.3,-46.8L8.4,-46.6L11.5,-46.1L14.6,-45.5L17.6,-44.8L20.5,-43.8L23.5,-42.7L26.3,-41.4L29.0,-39.9L31.6,-38.1L34.0,-36.2L36.3,-34.2" stroke="#390599"/><path d="M-50.5,3.2L-50.3,0.2L-49.9,-2.7L-49.5,-5.7L-48.9,-8.7" stroke="#390599" class="e"/><path d="M-48.9,-8.7L-48.1,-11.6L-47.2,-14.5L-46.1,-17.3L-44.8,-20.1L-43.3,-22.8L-41.6,-25.3L-39.7,-27.7L-37.7,-30.1L-35.6,-32.3L-33.3,-34.4L-30.9,-36.3L-28.5,-38.1L-25.9,-39.8L-23.2,-41.3L-20.5,-42.7L-17.7,-43.9L-14.8,-45.0L-11.9,-45.9L-8.9,-46.6L-5.9,-47.2L-2.9,-47.6L0.2,-47.8L3.3,-47.9L6.3,-47.8L9.4,-47.5L12.4,-47.0L15.4,-46.4L18.4,-45.6L21.3,-44.6L24.1,-43.5L26.9,-42.2L29.6,-40.7L32.1,-39.0L34.5,-37.1L36.8,-35.1L39.0,-33.0" stroke="#390599"/><path d="M39.0,-33.0L41.0,-30.8L43.0,-28.4L44.8,-26.1L46.5,-23.6" stroke="#390599" class="e"/><path d="M-48.0,-15.1L-46.9,-18.0L-45.5,-20.8L-44.0,-23.5L-42.2,-26.0L-40.3,-28.5L-38.3,-30.8L-36.1,-33.1L-33.8,-35.2L-31.4,-37.1L-28.9,-39.0L-26.3,-40.7L-23.6,-42.2L-20.9,-43.6L-18.0,-44.8L-15.1,-45.9L-12.1,-46.8L-9.1,-47.6L-6.1,-48.1L-3.0,-48.5L0.1,-48.8L3.2,-48.8L6.3,-48.7L9.4,-48.4L12.5,-48.0L15.5,-47.3L18.5,-46.5L21.5,-45.6L24.3,-44.4L27.2,-43.1L29.9,-41.6L32.5,-39.9L34.9,-38.1" stroke="#390599"/><path d="M-52.5,3.8L-52.3,0.8L-52.0,-2.2L-51.5,-5.2L-51.0,-8.1" stroke="#320597" class="e"/><path d="M-51.0,-8.1L-50.3,-11.1L-49.4,-14.0L-48.4,-16.9L-47.1,-19.7L-45.7,-22.4L-44.1,-25.0L-42.3,-27.5L-40.4,-29.9L-38.3,-32.1L-36.2,-34.3L-33.9,-36.3L-31.5,-38.3L-29.0,-40.1L-26.4,-41.7L-23.8,-43.2L-21.0,-44.6L-18.2,-45.8L-15.3,-46.8L-12.4,-47.7L-9.4,-48.5L-6.4,-49.0L-3.4,-49.5L-0.3,-49.7L2.8,-49.8L5.8,-49.7L8.9,-49.4L11.9,-49.0L14.9,-48.4L17.9,-47.7L20.8,-46.8L23.7,-45.7L26.5,-44.5L29.2,-43.1L31.8,-41.5L34.3,-39.7L36.7,-37.8L38.9,-35.8L41.1,-33.6" stroke="#320597"/><path d="M41.1,-33.6L43.1,-31.3L45.0,-29.0L46.8,-26.6L48.5,-24.2" stroke="#320597" class="e"/><path d="M-48.3,-19.4L-46.9,-22.1L-45.3,-24.7L-43.6,-27.3L-41.7,-29.7L-39.7,-32.0L-37.6,-34.2L-35.3,-36.3L-33.0,-38.2L-30.5,-40.1L-28.0,-41.8L-25.3,-43.4L-22.6,-44.8L-19.8,-46.0L-17.0,-47.2L-14.1,-48.1L-11.1,-49.0L-8.1,-49.6L-5.1,-50.1L-2.1,-50.5L1.0,-50.6L4.0,-50.6L7.1,-50.5L10.1,-50.2L13.2,-49.7L16.2,-49.1L19.1,-48.3L22.0,-47.3L24.9,-46.2L27.7,-44.9L30.4,-43.5L33.0,-41.8" stroke="#320597"/><path d="M-54.4,4.3L-54.2,1.3L-54.0,-1.7L-53.6,-4.6L-53.0,-7.6" stroke="#320597" class="e"/><path d="M-53.0,-7.6L-52.3,-10.5L-51.5,-13.5L-50.5,-16.3L-49.3,-19.2L-48.0,-21.9L-46.5,-24.5L-44.8,-27.1L-42.9,-29.5L-41.0,-31.9L-38.9,-34.1L-36.7,-36.2L-34.4,-38.2L-32.0,-40.1L-29.5,-41.9L-26.9,-43.5L-24.2,-45.0L-21.5,-46.3L-18.6,-47.5L-15.8,-48.5L-12.8,-49.4L-9.9,-50.2L-6.9,-50.7L-3.9,-51.2L-0.8,-51.4L2.2,-51.5L5.3,-51.5L8.4,-51.3L11.4,-50.9L14.4,-50.3L17.4,-49.7L20.3,-48.8L23.2,-47.8L26.0,-46.7L28.8,-45.4L31.5,-43.9L34.0,-42.2L36.5,-40.4L38.8,-38.4L41.0,-36.4L43.1,-34.2" stroke="#320597"/><path d="M43.1,-34.2L45.1,-31.9L47.0,-29.6L48.7,-27.1L50.4,-24.7" stroke="#320597" class="e"/><path d="M-52.4,-13.5L-51.4,-16.4L-50.3,-19.2L-48.9,-21.9L-47.5,-24.5L-45.8,-27.1L-44.0,-29.5L-42.1,-31.9L-40.0,-34.1L-37.9,-36.2L-35.6,-38.2L-33.3,-40.2L-30.8,-41.9L-28.3,-43.6L-25.7,-45.1L-23.0,-46.5L-20.2,-47.7L-17.4,-48.8L-14.5,-49.8L-11.6,-50.6L-8.6,-51.3L-5.7,-51.8L-2.6,-52.1L0.4,-52.3L3.4,-52.3L6.4,-52.2L9.4,-52.0L12.4,-51.5L15.4,-51.0L18.4,-50.2L21.3,-49.4L24.1,-48.3L26.9,-47.2L29.6,-45.9L32.3,-44.4L34.8,-42.7L37.2,-40.9L39.5,-39.0" stroke="#320597"/><path d="M-56.4,4.9L-56.2,1.9L-55.9,-1.1L-55.5,-4.1L-55.0,-7.1" stroke="#320597" class="e"/><path d="M-55.0,-7.1L-54.3,-10.0L-53.5,-12.9L-52.6,-15.8L-51.4,-18.6L-50.2,-21.4L-48.7,-24.0L-47.1,-26.6L-45.3,-29.1L-43.5,-31.5L-41.5,-33.8L-39.3,-36.0L-37.1,-38.0L-34.8,-40.0L-32.4,-41.8L-29.9,-43.6L-27.3,-45.1L-24.6,-46.6L-21.9,-47.9L-19.1,-49.1L-16.2,-50.1L-13.3,-51.0L-10.3,-51.7L-7.3,-52.3L-4.3,-52.8L-1.3,-53.0L1.7,-53.2L4.8,-53.1L7.8,-52.9L10.8,-52.6L13.8,-52.1L16.8,-51.5L19.8,-50.7L22.6,-49.8L25.5,-48.7L28.3,-47.4L31.0,-46.1L33.6,-44.5L36.1,-42.8L38.5,-41.0L40.8,-39.0L43.0,-36.9L45.1,-34.7" stroke="#320597"/><path d="M45.1,-34.7L47.1,-32.5L48.9,-30.1L50.7,-27.7L52.4,-25.2" stroke="#320597" class="e"/><path d="M-52.6,-18.0L-51.3,-20.8L-49.9,-23.5L-48.3,-26.1L-46.6,-28.6L-44.8,-31.1L-42.8,-33.4L-40.7,-35.6L-38.5,-37.8L-36.3,-39.8L-33.9,-41.7L-31.4,-43.5L-28.8,-45.1L-26.2,-46.6L-23.5,-48.0L-20.7,-49.2L-17.8,-50.3L-14.9,-51.3L-12.0,-52.1L-9.0,-52.8L-6.0,-53.3L-3.0,-53.7L0.0,-53.9L3.1,-53.9L6.1,-53.8L9.2,-53.6L12.2,-53.2L15.2,-52.6L18.2,-51.9L21.1,-51.1L24.0,-50.1L26.8,-48.9L29.6,-47.7L32.3,-46.2L34.9,-44.6L37.4,-42.9" stroke="#320597"/><path d="M-58.3,5.4L-58.1,2.4L-57.9,-0.6L-57.5,-3.6L-57.0,-6.5L-56.3,-9.4" stroke="#320597" class="e"/><path d="M-56.3,-9.4L-55.5,-12.3L-54.5,-15.2L-53.4,-18.0L-52.2,-20.8L-50.8,-23.5L-49.3,-26.1L-47.6,-28.6L-45.8,-31.0L-43.9,-33.3L-41.9,-35.6L-39.7,-37.7L-37.5,-39.7L-35.1,-41.7L-32.7,-43.5L-30.2,-45.1L-27.6,-46.7L-24.9,-48.1L-22.2,-49.4L-19.4,-50.6L-16.6,-51.6L-13.7,-52.5L-10.7,-53.2L-7.8,-53.8L-4.8,-54.2L-1.8,-54.5L1.2,-54.7L4.3,-54.7L7.3,-54.5L10.3,-54.2L13.3,-53.8L16.2,-53.2L19.2,-52.4L22.1,-51.6L24.9,-50.5L27.7,-49.4L30.4,-48.1L33.1,-46.6L35.6,-45.0L38.1,-43.3L40.5,-41.5L42.8,-39.5L45.0,-37.4" stroke="#320597"/><path d="M45.0,-37.4L47.1,-35.3L49.0,-33.0L50.9,-30.6L52.7,-28.2L54.3,-25.7" stroke="#320597" class="e"/><path d="M-56.6,-11.6L-55.7,-14.5L-54.6,-17.3L-53.4,-20.1L-52.0,-22.8L-50.5,-25.4L-48.9,-28.0L-47.1,-30.5L-45.2,-32.8L-43.2,-35.1L-41.1,-37.3L-38.9,-39.4L-36.6,-41.4L-34.2,-43.2L-31.7,-45.0L-29.2,-46.6L-26.5,-48.1L-23.8,-49.5L-21.0,-50.7L-18.2,-51.8L-15.3,-52.7L-12.4,-53.5L-9.4,-54.2L-6.4,-54.7L-3.4,-55.1L-0.4,-55.3L2.6,-55.4L5.7,-55.3L8.7,-55.1L11.7,-54.7L14.7,-54.2L17.7,-53.6L20.6,-52.8L23.5,-51.8L26.3,-50.7L29.1,-49.5L31.8,-48.2L34.4,-46.7L37.0,-45.0L39.5,-43.3L41.9,-41.4L44.1,-39.4" stroke="#320597"/><path d="M-60.2,5.9L-60.1,2.9L-59.8,-0.1L-59.4,-3.0L-58.9,-6.0L-58.2,-8.9" stroke="#320597" class="e"/><path d="M-58.2,-8.9L-57.4,-11.8L-56.4,-14.6L-55.4,-17.4L-54.1,-20.2L-52.8,-22.8L-51.3,-25.4L-49.7,-28.0L-48.0,-30.4L-46.2,-32.8L-44.2,-35.1L-42.2,-37.3L-40.0,-39.4L-37.8,-41.4L-35.4,-43.2L-33.0,-45.0L-30.5,-46.6L-27.9,-48.2L-25.2,-49.6L-22.5,-50.8L-19.7,-52.0L-16.9,-53.0L-14.1,-53.8L-11.1,-54.6L-8.2,-55.1L-5.2,-55.6L-2.3,-55.9L0.7,-56.1L3.7,-56.1L6.7,-56.0L9.7,-55.7L12.7,-55.3L15.6,-54.8L18.6,-54.1L21.4,-53.2L24.3,-52.3L27.1,-51.2L29.8,-50.0L32.5,-48.6L35.1,-47.1L37.6,-45.5L40.1,-43.8L42.5,-41.9L44.7,-40.0L46.9,-37.9" stroke="#320597"/><path d="M46.9,-37.9L49.0,-35.8L51.0,-33.5L52.8,-31.2L54.6,-28.7L56.2,-26.2" stroke="#320597" class="e"/></g>
<use href="#grid"/><circle r="0.9" fill="#222"/>
<use href="#oval"/>
<g font-size="14">
<text x="-12.2" y="-59.09">-60</text>
<text x="-12.2" y="-37.41">-70</text>
<text x="-12.2" y="-15.73">-80</text>
<text x="66.2" y="-35.1">120</text><text x="67.5" y="45.9">60</text>
<text x="-68.7" y="-35.1" text-anchor="end">240</text><text x="-66.9" y="45.9" text-anchor="end">300</text>
</g>
<g font-size="16.15" text-anchor="middle"><text x="0" y="-98.6">jup.9015.01</text><text x="0" y="-81.7">2017-03-19 11:16 UT</text></g>
</g>
<g transform="translate(507.55,738.05)">
<g fill="none" stroke-width="2.60" stroke-linejoin="round" stroke-linecap="round"><path d="M-15.6,-5.5L-13.8,-7.8" stroke="#8b0ba4"/><path d="M-13.8,-7.8L-11.7,-9.8" stroke="#9310a2"/><path d="M-11.7,-9.8L-9.4,-11.6" stroke="#9b179d"/><path d="M-9.4,-11.6L-6.8,-13.0" stroke="#9f1b9a"/><path d="M-6.8,-13.0L-4.1,-14.0" stroke="#a72296"/><path d="M-4.1,-14.0L-1.3,-14.7" stroke="#ac2593"/><path d="M-1.3,-14.7L1.7,-14.9L4.6,-14.8L7.4,-14.3" stroke="#b32c8e"/><path d="M7.4,-14.3L10.2,-13.4" stroke="#b6308b"/><path d="M-21.1,-4.3L-19.6,-7.0" stroke="#b02991"/><path d="M-19.6,-7.0L-17.9,-9.5" stroke="#b32c8e"/><path d="M-17.9,-9.5L-15.8,-11.8" stroke="#b6308b"/><path d="M-15.8,-11.8L-13.5,-13.8" stroke="#ba3388"/><path d="M-13.5,-13.8L-11.0,-15.5L-8.3,-16.9L-5.4,-18.0L-2.4,-18.7L0.6,-19.1" stroke="#bd3785"/><path d="M0.6,-19.1L3.7,-19.1" stroke="#ba3388"/><path d="M3.7,-19.1L6.7,-18.8" stroke="#b6308b"/><path d="M6.7,-18.8L9.7,-18.0" stroke="#b32c8e"/><path d="M9.7,-18.0L12.5,-17.0L15.3,-15.6" stroke="#b02991"/><path d="M-25.9,-3.0L-24.8,-5.7" stroke="#a72296"/><path d="M-24.8,-5.7L-23.4,-8.3L-21.8,-10.7" stroke="#ac2593"/><path d="M-21.8,-10.7L-20.0,-13.0" stroke="#b02991"/><path d="M-20.0,-13.0L-18.0,-15.1" stroke="#b32c8e"/><path d="M-18.0,-15.1L-15.7,-17.0L-13.3,-18.7L-10.7,-20.1" stroke="#b6308b"/><path d="M-10.7,-20.1L-8.0,-21.2L-5.2,-22.1L-2.4,-22.7L0.5,-23.0" stroke="#b32c8e"/><path d="M0.5,-23.0L3.5,-23.0" stroke="#b02991"/><path d="M3.5,-23.0L6.4,-22.8L9.3,-22.2" stroke="#ac2593"/><path d="M9.3,-22.2L12.1,-21.4" stroke="#a72296"/><path d="M12.1,-21.4L14.8,-20.3" stroke="#a31e98"/><path d="M14.8,-20.3L17.4,-18.9L19.8,-17.3" stroke="#9f1b9a"/><path d="M-30.1,-1.6L-29.2,-4.4" stroke="#9310a2"/><path d="M-29.2,-4.4L-28.1,-7.1L-26.8,-9.8" stroke="#97149f"/><path d="M-26.8,-9.8L-25.2,-12.2L-23.5,-14.6" stroke="#9b179d"/><path d="M-23.5,-14.6L-21.5,-16.8" stroke="#9f1b9a"/><path d="M-21.5,-16.8L-19.3,-18.8L-17.0,-20.6L-14.5,-22.2" stroke="#a31e98"/><path d="M-14.5,-22.2L-11.9,-23.5L-9.2,-24.7L-6.4,-25.5L-3.5,-26.2L-0.6,-26.6" stroke="#9f1b9a"/><path d="M-0.6,-26.6L2.3,-26.7L5.2,-26.6" stroke="#9b179d"/><path d="M5.2,-26.6L8.2,-26.2L11.0,-25.5" stroke="#97149f"/><path d="M11.0,-25.5L13.8,-24.6L16.5,-23.5" stroke="#9310a2"/><path d="M16.5,-23.5L19.1,-22.1L21.6,-20.5" stroke="#8f0da4"/><path d="M21.6,-20.5L23.9,-18.7" stroke="#8b0ba4"/><path d="M-33.8,-0.3L-33.2,-3.2L-32.2,-6.1" stroke="#7d07a6"/><path d="M-32.2,-6.1L-31.0,-8.9L-29.7,-11.6" stroke="#8208a5"/><path d="M-29.7,-11.6L-28.0,-14.1L-26.2,-16.6" stroke="#860aa5"/><path d="M-26.2,-16.6L-24.2,-18.8L-22.0,-20.9L-19.7,-22.8L-17.2,-24.5L-14.5,-26.0L-11.8,-27.3" stroke="#8b0ba4"/><path d="M-11.8,-27.3L-8.9,-28.3L-6.0,-29.1L-3.0,-29.7L-0.0,-30.0L3.0,-30.1" stroke="#860aa5"/><path d="M3.0,-30.1L6.0,-29.9L9.0,-29.4L12.0,-28.8" stroke="#8208a5"/><path d="M12.0,-28.8L14.9,-27.8L17.7,-26.7" stroke="#7d07a6"/><path d="M17.7,-26.7L20.4,-25.3L22.9,-23.7L25.4,-21.9" stroke="#7905a6"/><path d="M25.4,-21.9L27.6,-19.9" stroke="#7404a7"/><path d="M-37.2,1.0L-36.7,-2.0L-36.0,-4.8L-35.0,-7.6" stroke="#6b01a8" class="e"/><path d="M-35.0,-7.6L-33.8,-10.4L-32.5,-13.0L-30.9,-15.5L-29.2,-17.9" stroke="#7002a7"/><path d="M-29.2,-17.9L-27.3,-20.2L-25.2,-22.3L-22.9,-24.3L-20.6,-26.1L-18.1,-27.7L-15.5,-29.1L-12.8,-30.3L-10.0,-31.3" stroke="#7404a7"/><path d="M-10.0,-31.3L-7.1,-32.1L-4.2,-32.7L-1.2,-33.1L1.7,-33.2L4.7,-33.1L7.6,-32.9" stroke="#7002a7"/><path d="M7.6,-32.9L10.6,-32.3L13.4,-31.6L16.3,-30.7L19.0,-29.5" stroke="#6b01a8"/><path d="M19.0,-29.5L21.6,-28.2L24.2,-26.6" stroke="#6700a7"/><path d="M24.2,-26.6L26.6,-24.9L28.9,-23.0L31.0,-20.9" stroke="#6700a7" class="e"/><path d="M-40.3,2.1L-39.9,-0.9L-39.3,-3.8L-38.5,-6.7" stroke="#5d01a4" class="e"/><path d="M-38.5,-6.7L-37.4,-9.5L-36.2,-12.2L-34.8,-14.8" stroke="#5d01a4"/><path d="M-34.8,-14.8L-33.2,-17.4L-31.5,-19.8L-29.5,-22.1L-27.5,-24.2L-25.2,-26.2L-22.9,-28.0L-20.4,-29.7L-17.8,-31.2L-15.1,-32.5L-12.3,-33.6L-9.5,-34.5L-6.6,-35.2L-3.6,-35.8L-0.7,-36.1" stroke="#6201a6"/><path d="M-0.7,-36.1L2.3,-36.2L5.3,-36.0L8.3,-35.7L11.2,-35.2L14.1,-34.5L17.0,-33.5L19.7,-32.4" stroke="#5d01a4"/><path d="M19.7,-32.4L22.4,-31.1L25.0,-29.6L27.5,-27.9" stroke="#5802a3"/><path d="M27.5,-27.9L29.8,-26.1L32.0,-24.1L34.1,-21.9" stroke="#5802a3" class="e"/><path d="M-43.2,3.1L-42.9,0.2L-42.3,-2.8L-41.6,-5.7" stroke="#4e03a1" class="e"/><path d="M-41.6,-5.7L-40.7,-8.5L-39.6,-11.3" stroke="#4e03a1"/><path d="M-39.6,-11.3L-38.4,-14.0L-36.9,-16.6L-35.3,-19.1L-33.5,-21.5L-31.6,-23.8L-29.6,-26.0L-27.3,-28.0L-25.0,-29.8L-22.6,-31.5L-20.0,-33.1L-17.4,-34.5L-14.6,-35.7L-11.8,-36.7L-8.9,-37.5L-6.0,-38.1L-3.1,-38.6L-0.1,-38.8L2.9,-38.9L5.9,-38.7" stroke="#5302a2"/><path d="M5.9,-38.7L8.8,-38.4L11.8,-37.9L14.7,-37.2L17.5,-36.2L20.3,-35.2L23.0,-33.9L25.6,-32.4L28.1,-30.8L30.5,-29.0" stroke="#4e03a1"/><path d="M30.5,-29.0L32.8,-27.1L34.9,-25.0L36.9,-22.8" stroke="#4e03a1" class="e"/><path d="M-45.3,3.9L-45.0,0.9L-44.6,-2.1L-44.1,-5.0" stroke="#44049e" class="e"/><path d="M-44.1,-5.0L-43.3,-7.9L-42.4,-10.8L-41.3,-13.6L-40.0,-16.4L-38.4,-19.0L-36.8,-21.5L-34.9,-23.9L-32.9,-26.2L-30.8,-28.3L-28.5,-30.3L-26.1,-32.2L-23.6,-33.9L-21.0,-35.5L-18.3,-36.8L-15.5,-38.0L-12.6,-39.1L-9.7,-39.9L-6.8,-40.6L-3.8,-41.1L-0.7,-41.3L2.3,-41.4L5.3,-41.3L8.3,-41.0L11.3,-40.6" stroke="#49039f"/><path d="M11.3,-40.6L14.3,-39.9L17.2,-39.0L20.1,-38.0L22.8,-36.8L25.5,-35.3L28.1,-33.7L30.5,-31.9L32.8,-30.0" stroke="#44049e"/><path d="M32.8,-30.0L35.0,-27.9L37.1,-25.8L39.1,-23.5" stroke="#44049e" class="e"/><path d="M-47.2,4.6L-47.1,1.6L-46.8,-1.4L-46.3,-4.4L-45.7,-7.3" stroke="#3f049c" class="e"/><path d="M-45.7,-7.3L-44.9,-10.3L-43.9,-13.1L-42.8,-16.0L-41.4,-18.7L-39.8,-21.3L-38.0,-23.8L-36.1,-26.2" stroke="#3f049c"/><path d="M-36.1,-26.2L-34.0,-28.5L-31.8,-30.6L-29.5,-32.6L-27.0,-34.4" stroke="#44049e"/><path d="M-27.0,-34.4L-24.5,-36.1L-21.8,-37.7L-19.1,-39.1L-16.3,-40.3L-13.4,-41.3L-10.5,-42.2L-7.5,-42.9L-4.4,-43.3L-1.4,-43.7L1.7,-43.8L4.7,-43.7L7.8,-43.5L10.8,-43.1L13.8,-42.4L16.8,-41.6L19.7,-40.7L22.5,-39.5L25.3,-38.1L27.9,-36.5L30.4,-34.8L32.7,-32.9" stroke="#3f049c"/><path d="M32.7,-32.9L35.0,-30.8L37.1,-28.7L39.1,-26.4L41.0,-24.1" stroke="#3f049c" class="e"/><path d="M-44.8,-13.9L-43.6,-16.7L-42.2,-19.5L-40.5,-22.1L-38.7,-24.7L-36.8,-27.1L-34.7,-29.4L-32.4,-31.5L-30.1,-33.5L-27.6,-35.4L-25.0,-37.1L-22.3,-38.7L-19.5,-40.1L-16.7,-41.3L-13.8,-42.4L-10.8,-43.2L-7.7,-43.9L-4.7,-44.4L-1.6,-44.8L1.5,-44.9L4.6,-44.8L7.7,-44.6L10.8,-44.2L13.8,-43.6L16.8,-42.8L19.8,-41.8L22.7,-40.7L25.4,-39.3L28.1,-37.7" stroke="#3f049c"/><path d="M-49.2,5.4L-49.1,2.3L-48.8,-0.7L-48.5,-3.7L-48.0,-6.7" stroke="#390599" class="e"/><path d="M-48.0,-6.7L-47.3,-9.6L-46.4,-12.6L-45.4,-15.5L-44.1,-18.3L-42.6,-21.0L-40.9,-23.5L-39.1,-26.0L-37.1,-28.4L-35.0,-30.6L-32.7,-32.7L-30.3,-34.7L-27.9,-36.5L-25.3,-38.2L-22.6,-39.8L-19.8,-41.1L-17.0,-42.4L-14.1,-43.4L-11.2,-44.3L-8.2,-45.0L-5.1,-45.5L-2.0,-45.8L1.0,-46.0L4.1,-46.0L7.2,-45.8L10.3,-45.4L13.3,-44.8L16.3,-44.1L19.2,-43.2L22.1,-42.1L24.9,-40.8L27.6,-39.3L30.1,-37.6L32.6,-35.7L34.9,-33.7" stroke="#390599"/><path d="M34.9,-33.7L37.1,-31.6L39.1,-29.4L41.1,-27.1L43.0,-24.7" stroke="#390599" class="e"/><path d="M-48.6,-8.5L-47.8,-11.4L-46.9,-14.3L-45.8,-17.1L-44.4,-19.9L-42.8,-22.5L-41.1,-25.0L-39.3,-27.4L-37.3,-29.7L-35.1,-31.9L-32.9,-33.9L-30.5,-35.9L-28.1,-37.7L-25.5,-39.3L-22.8,-40.8L-20.1,-42.1L-17.3,-43.3L-14.4,-44.4L-11.5,-45.2L-8.6,-45.9L-5.6,-46.4L-2.5,-46.8L0.5,-47.0L3.5,-47.0L6.6,-46.8L9.6,-46.5L12.6,-46.0L15.6,-45.3L18.5,-44.5L21.4,-43.5L24.2,-42.3L26.9,-40.9L29.5,-39.3L31.9,-37.5L34.3,-35.6" stroke="#390599"/><path d="M-51.1,6.1L-51.1,3.0L-50.9,0.0L-50.6,-3.0L-50.1,-6.0" stroke="#390599" class="e"/><path d="M-50.1,-6.0L-49.5,-9.0L-48.7,-12.0L-47.8,-14.9L-46.6,-17.7L-45.2,-20.5L-43.6,-23.1L-41.9,-25.7L-40.0,-28.1L-37.9,-30.5L-35.8,-32.7L-33.5,-34.8L-31.1,-36.7L-28.6,-38.5L-26.0,-40.2L-23.3,-41.7L-20.5,-43.1L-17.7,-44.3L-14.8,-45.3L-11.8,-46.2L-8.8,-46.9L-5.8,-47.5L-2.7,-47.8L0.4,-48.0L3.5,-48.0L6.6,-47.9L9.6,-47.5L12.7,-47.0L15.7,-46.4L18.7,-45.5L21.6,-44.5L24.5,-43.3L27.2,-41.9L29.8,-40.3L32.3,-38.5L34.7,-36.6L37.0,-34.5" stroke="#390599"/><path d="M37.0,-34.5L39.1,-32.3L41.1,-30.1L43.1,-27.8L44.9,-25.4" stroke="#390599" class="e"/><path d="M-49.6,-12.5L-48.6,-15.4L-47.5,-18.2L-46.1,-20.9L-44.5,-23.5L-42.8,-26.0L-41.0,-28.4L-39.0,-30.7L-36.9,-32.9L-34.7,-35.0L-32.4,-36.9L-29.9,-38.7L-27.4,-40.4L-24.8,-42.0L-22.1,-43.4L-19.4,-44.6L-16.5,-45.7L-13.6,-46.7L-10.7,-47.5L-7.7,-48.1L-4.7,-48.6L-1.7,-48.9L1.3,-49.0L4.3,-49.0L7.4,-48.8L10.4,-48.4L13.4,-47.9L16.3,-47.2L19.2,-46.3L22.1,-45.3L24.9,-44.1L27.6,-42.8L30.2,-41.2L32.7,-39.5" stroke="#390599"/><path d="M-53.1,6.8L-53.0,3.8L-52.9,0.7L-52.6,-2.3L-52.2,-5.3" stroke="#320597" class="e"/><path d="M-52.2,-5.3L-51.7,-8.3L-51.0,-11.3L-50.1,-14.2L-49.0,-17.1L-47.7,-19.9L-46.2,-22.6L-44.5,-25.2L-42.7,-27.7L-40.8,-30.1L-38.7,-32.4L-36.5,-34.6L-34.2,-36.7L-31.8,-38.6L-29.3,-40.4L-26.6,-42.0L-23.9,-43.5L-21.2,-44.9L-18.3,-46.1L-15.4,-47.1L-12.4,-48.0L-9.4,-48.7L-6.4,-49.3L-3.3,-49.7L-0.2,-49.9L2.8,-49.9L5.9,-49.8L9.0,-49.5L12.1,-49.1L15.1,-48.5L18.1,-47.7L21.0,-46.7L23.9,-45.6L26.7,-44.3L29.4,-42.8L32.0,-41.1L34.5,-39.3L36.8,-37.3L39.0,-35.2" stroke="#320597"/><path d="M39.0,-35.2L41.1,-33.0L43.1,-30.7L45.0,-28.4L46.9,-26.0" stroke="#320597" class="e"/><path d="M-50.1,-16.8L-48.9,-19.6L-47.4,-22.3L-45.8,-24.9L-44.0,-27.5L-42.1,-29.9L-40.1,-32.2L-38.0,-34.5L-35.7,-36.6L-33.3,-38.5L-30.8,-40.4L-28.3,-42.1L-25.6,-43.7L-22.8,-45.1L-20.0,-46.3L-17.2,-47.5L-14.2,-48.4L-11.2,-49.2L-8.2,-49.9L-5.2,-50.4L-2.1,-50.7L1.0,-50.8L4.1,-50.8L7.2,-50.6L10.2,-50.3L13.3,-49.8L16.3,-49.1L19.3,-48.3L22.2,-47.3L25.1,-46.1L27.8,-44.8L30.5,-43.2" stroke="#320597"/><path d="M-55.0,7.5L-55.0,4.4L-54.9,1.4L-54.6,-1.6L-54.3,-4.6" stroke="#320597" class="e"/><path d="M-54.3,-4.6L-53.7,-7.6L-53.1,-10.6L-52.2,-13.6L-51.2,-16.5L-50.0,-19.3L-48.6,-22.0L-47.0,-24.7L-45.3,-27.2L-43.4,-29.7L-41.5,-32.1L-39.4,-34.3L-37.1,-36.5L-34.8,-38.5L-32.4,-40.4L-29.8,-42.1L-27.2,-43.8L-24.5,-45.2L-21.7,-46.6L-18.9,-47.8L-16.0,-48.8L-13.0,-49.7L-10.0,-50.4L-7.0,-51.0L-3.9,-51.4L-0.9,-51.6L2.2,-51.7L5.3,-51.6L8.4,-51.4L11.4,-51.0L14.5,-50.4L17.4,-49.7L20.4,-48.8L23.3,-47.8L26.1,-46.6L28.9,-45.2L31.5,-43.6L34.1,-41.9L36.5,-40.0L38.8,-38.0L41.0,-35.9" stroke="#320597"/><path d="M41.0,-35.9L43.1,-33.7L45.1,-31.4L47.0,-29.0L48.8,-26.6" stroke="#320597" class="e"/><path d="M-54.0,-10.6L-53.1,-13.5L-52.1,-16.4L-50.9,-19.2L-49.6,-22.0L-48.0,-24.6L-46.4,-27.2L-44.6,-29.6L-42.6,-32.0L-40.6,-34.3L-38.4,-36.4L-36.1,-38.4L-33.7,-40.4L-31.3,-42.2L-28.7,-43.8L-26.1,-45.3L-23.3,-46.7L-20.6,-48.0L-17.7,-49.1L-14.8,-50.0L-11.9,-50.8L-8.9,-51.5L-5.9,-52.0L-2.8,-52.3L0.2,-52.5L3.3,-52.5L6.3,-52.4L9.4,-52.1L12.4,-51.7L15.4,-51.1L18.4,-50.3L21.3,-49.4L24.1,-48.3L27.0,-47.1L29.7,-45.7L32.3,-44.2L34.8,-42.5L37.2,-40.6" stroke="#320597"/><path d="M-56.9,8.2L-56.9,5.1L-56.8,2.1L-56.6,-0.9L-56.2,-3.9" stroke="#320597" class="e"/><path d="M-56.2,-3.9L-55.7,-6.9L-55.1,-9.9L-54.3,-12.8L-53.3,-15.8L-52.1,-18.6L-50.8,-21.4L-49.4,-24.1L-47.7,-26.7L-45.9,-29.2L-44.1,-31.6L-42.0,-33.9L-39.9,-36.1L-37.7,-38.2L-35.3,-40.2L-32.9,-42.0L-30.3,-43.8L-27.7,-45.4L-25.0,-46.8L-22.3,-48.2L-19.4,-49.3L-16.5,-50.4L-13.6,-51.3L-10.6,-52.0L-7.6,-52.6L-4.6,-53.0L-1.5,-53.3L1.6,-53.4L4.6,-53.3L7.7,-53.1L10.8,-52.8L13.8,-52.3L16.8,-51.6L19.7,-50.8L22.6,-49.8L25.5,-48.7L28.3,-47.4L31.0,-45.9L33.6,-44.3L36.1,-42.6L38.5,-40.7L40.8,-38.7L43.0,-36.6" stroke="#320597"/><path d="M43.0,-36.6L45.1,-34.4L47.1,-32.1L48.9,-29.7L50.7,-27.2" stroke="#320597" class="e"/><path d="M-54.4,-15.1L-53.3,-18.0L-52.0,-20.8L-50.6,-23.5L-49.0,-26.1L-47.2,-28.7L-45.4,-31.1L-43.4,-33.5L-41.3,-35.8L-39.1,-37.9L-36.8,-39.9L-34.4,-41.9L-31.9,-43.6L-29.3,-45.3L-26.7,-46.8L-23.9,-48.2L-21.1,-49.5L-18.2,-50.6L-15.3,-51.6L-12.3,-52.4L-9.3,-53.0L-6.3,-53.5L-3.3,-53.9L-0.2,-54.1L2.9,-54.1L6.0,-54.0L9.0,-53.8L12.1,-53.3L15.1,-52.8L18.1,-52.0L21.0,-51.2L23.9,-50.1L26.8,-49.0L29.6,-47.6L32.2,-46.1L34.8,-44.5" stroke="#320597"/><path d="M-58.8,8.9L-58.8,5.8L-58.8,2.8L-58.5,-0.2L-58.2,-3.2L-57.7,-6.2" stroke="#320597" class="e"/><path d="M-57.7,-6.2L-57.0,-9.2L-56.2,-12.1L-55.3,-15.0L-54.2,-17.9L-52.9,-20.6L-51.5,-23.4L-50.0,-26.0L-48.3,-28.5L-46.5,-31.0L-44.6,-33.4L-42.5,-35.6L-40.4,-37.8L-38.1,-39.8L-35.8,-41.8L-33.3,-43.6L-30.8,-45.3L-28.2,-46.9L-25.5,-48.3L-22.7,-49.6L-19.9,-50.8L-17.0,-51.8L-14.1,-52.7L-11.2,-53.4L-8.2,-54.0L-5.1,-54.5L-2.1,-54.8L0.9,-54.9L4.0,-54.9L7.0,-54.7L10.1,-54.4L13.1,-53.9L16.1,-53.3L19.0,-52.6L21.9,-51.7L24.8,-50.6L27.6,-49.4L30.4,-48.1L33.0,-46.6L35.6,-45.0L38.1,-43.2L40.5,-41.3L42.7,-39.3" stroke="#320597"/><path d="M42.7,-39.3L44.9,-37.2L47.0,-35.0L49.0,-32.7L50.9,-30.3L52.6,-27.9" stroke="#320597" class="e"/><path d="M-58.1,-8.3L-57.3,-11.2L-56.4,-14.1L-55.4,-16.9L-54.2,-19.6L-52.9,-22.3L-51.5,-24.9L-49.9,-27.5L-48.2,-29.9L-46.4,-32.3L-44.4,-34.6L-42.4,-36.8L-40.3,-38.9L-38.0,-40.9L-35.7,-42.7L-33.3,-44.5L-30.8,-46.2L-28.2,-47.7L-25.6,-49.1L-22.9,-50.3L-20.1,-51.5L-17.3,-52.5L-14.4,-53.4L-11.5,-54.1L-8.6,-54.7L-5.6,-55.1L-2.6,-55.4L0.3,-55.6L3.3,-55.6L6.3,-55.5L9.3,-55.2L12.3,-54.8L15.2,-54.3L18.1,-53.6L21.0,-52.7L23.8,-51.8L26.6,-50.7L29.3,-49.4L32.0,-48.0L34.6,-46.5L37.1,-44.9L39.5,-43.1L41.8,-41.3" stroke="#320597"/><path d="M-60.7,9.5L-60.8,6.6L-60.7,3.6L-60.5,0.6L-60.1,-2.3L-59.6,-5.3" stroke="#320597" class="e"/><path d="M-59.6,-5.3L-59.0,-8.2L-58.2,-11.0L-57.3,-13.9L-56.3,-16.7L-55.1,-19.4L-53.8,-22.1L-52.4,-24.7L-50.9,-27.2L-49.2,-29.7L-47.5,-32.1L-45.6,-34.4L-43.6,-36.6L-41.5,-38.7L-39.3,-40.7L-37.0,-42.6L-34.7,-44.4L-32.2,-46.1L-29.7,-47.7L-27.1,-49.1L-24.4,-50.4L-21.7,-51.6L-18.9,-52.7L-16.1,-53.6L-13.2,-54.4L-10.3,-55.1L-7.4,-55.6L-4.5,-56.0L-1.5,-56.2L1.5,-56.3L4.5,-56.3L7.4,-56.1L10.4,-55.8L13.3,-55.4L16.2,-54.8L19.1,-54.0L22.0,-53.2L24.8,-52.2L27.5,-51.0L30.2,-49.8L32.8,-48.4L35.4,-46.9L37.9,-45.3L40.3,-43.5L42.6,-41.7L44.9,-39.7" stroke="#320597"/><path d="M44.9,-39.7L47.0,-37.7L49.0,-35.5L51.0,-33.2L52.8,-30.9L54.5,-28.5" stroke="#320597" class="e"/></g>
<use href="#grid"/><circle r="0.9" fill="#222"/>
<use href="#oval"/>
<g font-size="14">
<text x="-12.2" y="-59.09">-60</text>
<text x="-12.2" y="-37.41">-70</text>
<text x="-12.2" y="-15.73">-80</text>
<text x="66.2" y="-35.1">120</text><text x="67.5" y="45.9">60</text>
<text x="-68.7" y="-35.1" text-anchor="end">240</text><text x="-66.9" y="45.9" text-anchor="end">300</text>
</g>
<g font-size="16.15" text-anchor="middle"><text x="0" y="-98.6">jup.9015.02</text><text x="0" y="-81.7">2017-03-19 11:16 UT</text></g>
</g>
<rect x="41.80" y="830.40" width="515.50" height="11.40" fill="url(#cb)" stroke="#444" stroke-width="0.6"/>
<line x1="93.35" y1="830.40" x2="93.35" y2="832.40" stroke="#333" stroke-width="0.6"/><line x1="93.35" y1="839.80" x2="93.35" y2="841.80" stroke="#333" stroke-width="0.6"/>
<line x1="144.90" y1="830.40" x2="144.90" y2="832.40" stroke="#333" stroke-width="0.6"/><line x1="144.90" y1="839.80" x2="144.90" y2="841.80" stroke="#333" stroke-width="0.6"/>
<line x1="196.45" y1="830.40" x2="196.45" y2="832.40" stroke="#333" stroke-width="0.6"/><line x1="196.45" y1="839.80" x2="196.45" y2="841.80" stroke="#333" stroke-width="0.6"/>
<line x1="248.00" y1="830.40" x2="248.00" y2="832.40" stroke="#333" stroke-width="0.6"/><line x1="248.00" y1="839.80" x2="248.00" y2="841.80" stroke="#333" stroke-width="0.6"/>
<line x1="299.55" y1="830.40" x2="299.55" y2="832.40" stroke="#333" stroke-width="0.6"/><line x1="299.55" y1="839.80" x2="299.55" y2="841.80" stroke="#333" stroke-width="0.6"/>
<line x1="351.10" y1="830.40" x2="351.10" y2="832.40" stroke="#333" stroke-width="0.6"/><line x1="351.10" y1="839.80" x2="351.10" y2="841.80" stroke="#333" stroke-width="0.6"/>
<line x1="402.65" y1="830.40" x2="402.65" y2="832.40" stroke="#333" stroke-width="0.6"/><line x1="402.65" y1="839.80" x2="402.65" y2="841.80" stroke="#333" stroke-width="0.6"/>
<line x1="454.20" y1="830.40" x2="454.20" y2="832.40" stroke="#333" stroke-width="0.6"/><line x1="454.20" y1="839.80" x2="454.20" y2="841.80" stroke="#333" stroke-width="0.6"/>
<line x1="505.75" y1="830.40" x2="505.75" y2="832.40" stroke="#333" stroke-width="0.6"/><line x1="505.75" y1="839.80" x2="505.75" y2="841.80" stroke="#333" stroke-width="0.6"/>
<g font-size="13.1" text-anchor="middle"><text x="41.80" y="857.2">0</text><text x="144.90" y="857.2">50</text><text x="248.00" y="857.2">100</text><text x="351.10" y="857.2">150</text><text x="454.20" y="857.2">200</text><text x="557.30" y="857.2">250</text></g>
<text x="299.3" y="884.2" font-size="17.75" text-anchor="middle">Radiance (nW cm<tspan font-size="10.3" dy="-7.4">-2</tspan><tspan dy="7.4"> sr</tspan><tspan font-size="10.3" dy="-7.4">-1</tspan><tspan dy="7.4"> cm)</tspan></text>
</svg></body></html>
